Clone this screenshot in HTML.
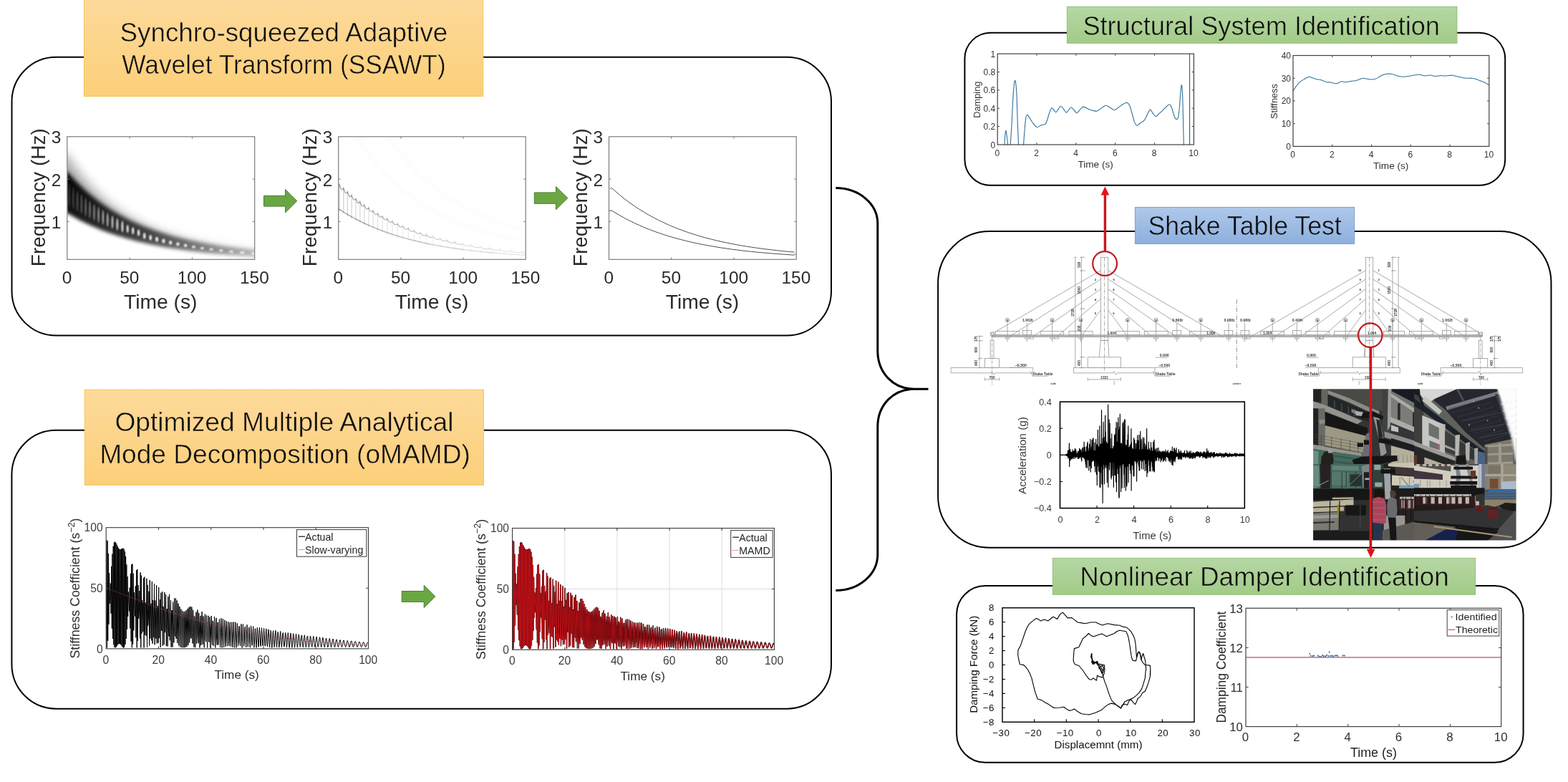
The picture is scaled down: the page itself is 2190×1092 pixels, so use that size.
<!DOCTYPE html>
<html lang="en"><head><meta charset="utf-8"><title>SSAWT / oMAMD identification framework</title>
<style>
html,body{margin:0;padding:0;background:#fff;}
body{width:2190px;height:1092px;overflow:hidden;}
svg{display:block;font-family:"Liberation Sans", Arial, Helvetica, sans-serif;}
</style></head><body>
<svg width="2190" height="1092" viewBox="0 0 2190 1092">
<rect x="0" y="0" width="2190" height="1092" fill="#fff"/>
<defs>
<linearGradient id="gt1" gradientUnits="userSpaceOnUse" x1="0" y1="-1" x2="0" y2="134.4"><stop offset="0" stop-color="#FDDA9B"/><stop offset="1" stop-color="#FCCF79"/></linearGradient>
<linearGradient id="gt2" gradientUnits="userSpaceOnUse" x1="0" y1="544.3" x2="0" y2="677.3"><stop offset="0" stop-color="#FDDA9B"/><stop offset="1" stop-color="#FCCF79"/></linearGradient>
<linearGradient id="gt3" gradientUnits="userSpaceOnUse" x1="0" y1="9.4" x2="0" y2="60.3"><stop offset="0" stop-color="#B6D7A4"/><stop offset="1" stop-color="#A2CB87"/></linearGradient>
<linearGradient id="gt4" gradientUnits="userSpaceOnUse" x1="0" y1="289.4" x2="0" y2="340.4"><stop offset="0" stop-color="#AEC8EA"/><stop offset="1" stop-color="#8EB0DE"/></linearGradient>
<linearGradient id="gt5" gradientUnits="userSpaceOnUse" x1="0" y1="779.4" x2="0" y2="830.3"><stop offset="0" stop-color="#B6D7A4"/><stop offset="1" stop-color="#A2CB87"/></linearGradient>
</defs>
<defs>
<filter id="bl3" x="-10%" y="-50%" width="120%" height="200%"><feGaussianBlur stdDeviation="2.6"/></filter>
<filter id="bl7" x="-10%" y="-50%" width="120%" height="200%"><feGaussianBlur stdDeviation="7"/></filter>
<filter id="bl4" x="-10%" y="-50%" width="120%" height="200%"><feGaussianBlur stdDeviation="4.5"/></filter>
<filter id="bl1" x="-10%" y="-50%" width="120%" height="200%"><feGaussianBlur stdDeviation="1.15"/></filter>
<clipPath id="cp1"><rect x="94.3" y="191.3" width="261" height="170.6"/></clipPath>
<clipPath id="cp2"><rect x="473.2" y="191.3" width="260.6" height="170.6"/></clipPath>
<linearGradient id="fade2" x1="0" y1="0" x2="1" y2="0"><stop offset="0" stop-color="#fff" stop-opacity="0"/><stop offset="0.45" stop-color="#fff" stop-opacity="0.25"/><stop offset="1" stop-color="#fff" stop-opacity="0.7"/></linearGradient>
</defs>
<defs>
<clipPath id="cpP"><rect x="1834.1" y="543.2" width="283.5" height="211.4"/></clipPath>
<filter id="blP" x="-2%" y="-2%" width="104%" height="104%"><feGaussianBlur stdDeviation="0.7"/></filter>
<filter id="blP2" x="-5%" y="-5%" width="110%" height="110%"><feGaussianBlur stdDeviation="1.4"/></filter>
<linearGradient id="skyR" x1="0" y1="0" x2="1" y2="0"><stop offset="0" stop-color="#fff" stop-opacity="0"/><stop offset="1" stop-color="#fff" stop-opacity="1"/></linearGradient>
</defs>
<rect x="16.5" y="79.8" width="1144.5" height="388.7" rx="62" ry="62" fill="none" stroke="#000" stroke-width="2"/>
<rect x="16.4" y="600.8" width="1144.6" height="388.9" rx="62" ry="62" fill="none" stroke="#000" stroke-width="2"/>
<rect x="1347.4" y="45.8" width="754.8" height="213" rx="36" ry="36" fill="none" stroke="#000" stroke-width="2"/>
<rect x="1310.1" y="323.1" width="856.4" height="441.7" rx="72" ry="72" fill="none" stroke="#000" stroke-width="2"/>
<rect x="1336.1" y="818.1" width="791.5" height="246.6" rx="40" ry="40" fill="none" stroke="#000" stroke-width="2"/>
<path d="M1167.3 262.6 C1199 262.6 1225.8 284 1225.8 312 L1225.8 490 C1225.8 520 1247 543.2 1277 543.2 L1296.5 543.2 M1277 543.2 C1247 543.2 1225.8 566 1225.8 596 L1225.8 774 C1225.8 803 1199 824.6 1167.3 824.6" fill="none" stroke="#000" stroke-width="3"/>
<g clip-path="url(#cp1)">
<polygon points="76.3,214.3 80.7,214.3 85.1,214.3 89.4,214.3 93.8,214.3 98.2,221.1 102.5,227.5 106.9,233.6 111.3,239.4 115.6,244.9 120,250.1 124.4,255.1 128.7,259.8 133.1,264.3 137.4,268.5 141.8,272.6 146.2,276.5 150.5,280.1 154.9,283.6 159.3,287 163.6,290.2 168,293.2 172.4,296.1 176.7,298.8 181.1,301.5 185.5,304 189.8,306.4 194.2,308.7 198.6,310.8 202.9,312.9 207.3,314.9 211.7,316.8 216,318.6 220.4,320.4 224.8,322 229.1,323.6 233.5,325.1 237.8,326.6 242.2,328 246.6,329.3 250.9,330.6 255.3,331.8 259.7,333 264,334.1 268.4,335.2 272.8,336.2 277.1,337.2 281.5,338.1 285.9,339 290.2,339.9 294.6,340.7 299,341.5 303.3,342.2 307.7,343 312,343.7 316.4,344.3 320.8,345 325.1,345.6 329.5,346.2 333.9,346.7 338.2,347.3 342.6,347.8 347,348.3 351.3,348.8 355.7,349.2 360.1,349.7 364.4,350.1 368.8,350.5 373.2,350.9 373.2,355.5 368.8,355.2 364.4,354.9 360.1,354.6 355.7,354.3 351.3,354 347,353.7 342.6,353.3 338.2,353 333.9,352.6 329.5,352.2 325.1,351.8 320.8,351.4 316.4,350.9 312,350.5 307.7,350 303.3,349.5 299,349 294.6,348.4 290.2,347.9 285.9,347.3 281.5,346.7 277.1,346.1 272.8,345.4 268.4,344.7 264,344 259.7,343.3 255.3,342.5 250.9,341.7 246.6,340.9 242.2,340 237.8,339.1 233.5,338.1 229.1,337.2 224.8,336.1 220.4,335.1 216,334 211.7,332.8 207.3,331.6 202.9,330.4 198.6,329.1 194.2,327.7 189.8,326.3 185.5,324.8 181.1,323.3 176.7,321.7 172.4,320 168,318.3 163.6,316.5 159.3,314.6 154.9,312.7 150.5,310.6 146.2,308.5 141.8,306.3 137.4,304 133.1,301.6 128.7,299.2 124.4,296.6 120,293.9 115.6,291.1 111.3,288.2 106.9,285.1 102.5,282 98.2,278.7 93.8,275.2 89.4,275.2 85.1,275.2 80.7,275.2 76.3,275.2" fill="#000" stroke="none" stroke-width="1" opacity="0.30" filter="url(#bl7)"/>
<polygon points="76.3,239.9 80.7,239.9 85.1,239.9 89.4,239.9 93.8,239.9 98.2,244.8 102.5,249.5 106.9,254 111.3,258.3 115.6,262.4 120,266.4 124.4,270.2 128.7,273.8 133.1,277.3 137.4,280.7 141.8,283.9 146.2,287 150.5,290 154.9,292.8 159.3,295.6 163.6,298.2 168,300.7 172.4,303.1 176.7,305.4 181.1,307.6 185.5,309.8 189.8,311.8 194.2,313.8 198.6,315.6 202.9,317.5 207.3,319.2 211.7,320.8 216,322.4 220.4,324 224.8,325.4 229.1,326.8 233.5,328.2 237.8,329.5 242.2,330.7 246.6,331.9 250.9,333.1 255.3,334.2 259.7,335.2 264,336.2 268.4,337.2 272.8,338.2 277.1,339 281.5,339.9 285.9,340.7 290.2,341.5 294.6,342.3 299,343 303.3,343.7 307.7,344.4 312,345 316.4,345.7 320.8,346.3 325.1,346.8 329.5,347.4 333.9,347.9 338.2,348.4 342.6,348.9 347,349.4 351.3,349.8 355.7,350.2 360.1,350.6 364.4,351 368.8,351.4 373.2,351.8 373.2,355.5 368.8,355.2 364.4,354.9 360.1,354.6 355.7,354.3 351.3,354 347,353.7 342.6,353.3 338.2,353 333.9,352.6 329.5,352.2 325.1,351.8 320.8,351.4 316.4,350.9 312,350.5 307.7,350 303.3,349.5 299,349 294.6,348.4 290.2,347.9 285.9,347.3 281.5,346.7 277.1,346.1 272.8,345.4 268.4,344.7 264,344 259.7,343.3 255.3,342.5 250.9,341.7 246.6,340.9 242.2,340 237.8,339.1 233.5,338.1 229.1,337.2 224.8,336.1 220.4,335.1 216,334 211.7,332.8 207.3,331.6 202.9,330.4 198.6,329.1 194.2,327.7 189.8,326.3 185.5,324.8 181.1,323.3 176.7,321.7 172.4,320 168,318.3 163.6,316.5 159.3,314.6 154.9,312.7 150.5,310.6 146.2,308.5 141.8,306.3 137.4,304 133.1,301.6 128.7,299.2 124.4,296.6 120,293.9 115.6,291.1 111.3,288.2 106.9,285.1 102.5,282 98.2,278.7 93.8,275.2 89.4,275.2 85.1,275.2 80.7,275.2 76.3,275.2" fill="#000" stroke="none" stroke-width="1" opacity="0.45" filter="url(#bl4)"/>
<polygon points="76.3,240.5 80.7,240.5 85.1,240.5 89.4,240.5 93.8,240.5 98.2,245.5 102.5,250.2 106.9,254.7 111.3,259.1 115.6,263.2 120,267.2 124.4,271 128.7,274.6 133.1,278.1 137.4,281.4 141.8,284.6 146.2,287.6 150.5,290.6 154.9,293.4 159.3,296.1 163.6,298.6 168,301.1 172.4,303.4 176.7,305.7 181.1,307.9 185.5,309.9 189.8,311.9 194.2,313.8 198.6,315.7 202.9,317.4 207.3,319.1 211.7,320.7 216,322.2 220.4,323.7 224.8,325.1 229.1,326.5 233.5,327.8 237.8,329 242.2,330.2 246.6,331.4 250.9,332.5 255.3,333.5 259.7,334.5 264,335.5 268.4,336.4 272.8,337.3 277.1,338.2 281.5,339 285.9,339.8 290.2,340.6 294.6,341.3 299,342 303.3,342.7 307.7,343.3 312,343.9 316.4,344.5 320.8,345.1 325.1,345.6 329.5,346.1 333.9,346.6 338.2,347.1 342.6,347.6 347,348 351.3,348.4 355.7,348.8 360.1,349.2 364.4,349.6 368.8,350 373.2,350.3 373.2,358.6 368.8,358.4 364.4,358.2 360.1,358 355.7,357.7 351.3,357.5 347,357.3 342.6,357 338.2,356.7 333.9,356.4 329.5,356.1 325.1,355.8 320.8,355.5 316.4,355.2 312,354.8 307.7,354.5 303.3,354.1 299,353.7 294.6,353.3 290.2,352.9 285.9,352.4 281.5,352 277.1,351.5 272.8,351 268.4,350.5 264,349.9 259.7,349.3 255.3,348.8 250.9,348.1 246.6,347.5 242.2,346.8 237.8,346.2 233.5,345.4 229.1,344.7 224.8,343.9 220.4,343.1 216,342.3 211.7,341.4 207.3,340.5 202.9,339.5 198.6,338.5 194.2,337.5 189.8,336.4 185.5,335.3 181.1,334.1 176.7,332.9 172.4,331.6 168,330.3 163.6,328.9 159.3,327.5 154.9,326 150.5,324.5 146.2,322.9 141.8,321.2 137.4,319.5 133.1,317.6 128.7,315.7 124.4,313.8 120,311.7 115.6,309.6 111.3,307.4 106.9,305 102.5,302.6 98.2,300.1 93.8,297.5 89.4,297.5 85.1,297.5 80.7,297.5 76.3,297.5" fill="#000" stroke="none" stroke-width="1" opacity="0.93" filter="url(#bl3)"/>
<rect x="93.8" y="190.8" width="261.9" height="171.5" fill="url(#fade2)" stroke="none" stroke-width="1"/>
<g filter="url(#bl1)" fill="#fff">
<ellipse cx="96.8" cy="271.9" rx="0.77" ry="15.9" opacity="0.29"/>
<ellipse cx="102.4" cy="276.4" rx="0.80" ry="15.1" opacity="0.34"/>
<ellipse cx="108.1" cy="280.8" rx="0.84" ry="14.4" opacity="0.40"/>
<ellipse cx="113.8" cy="284.9" rx="0.88" ry="13.6" opacity="0.45"/>
<ellipse cx="119.6" cy="289.0" rx="0.91" ry="13" opacity="0.51"/>
<ellipse cx="125.5" cy="292.8" rx="0.95" ry="12.3" opacity="0.56"/>
<ellipse cx="131.5" cy="296.5" rx="0.99" ry="11.7" opacity="0.62"/>
<ellipse cx="137.6" cy="300.1" rx="1.03" ry="11.1" opacity="0.68"/>
<ellipse cx="143.9" cy="303.6" rx="1.07" ry="10.5" opacity="0.74"/>
<ellipse cx="150.3" cy="307.0" rx="1.11" ry="9.9" opacity="0.80"/>
<ellipse cx="157" cy="310.2" rx="1.15" ry="9.4" opacity="0.86"/>
<ellipse cx="163.8" cy="313.4" rx="1.20" ry="8.8" opacity="0.93"/>
<ellipse cx="170.9" cy="316.5" rx="1.24" ry="8.3" opacity="1.00"/>
<ellipse cx="178.2" cy="319.4" rx="1.32" ry="5.5" opacity="1.00"/>
<ellipse cx="185.7" cy="322.3" rx="1.40" ry="5" opacity="1.00"/>
<ellipse cx="193.6" cy="325.0" rx="1.49" ry="4.6" opacity="1.00"/>
<ellipse cx="201.7" cy="329.4" rx="1.59" ry="4.2" opacity="1.00"/>
<ellipse cx="210.2" cy="331.8" rx="1.68" ry="3.8" opacity="1.00"/>
<ellipse cx="219.1" cy="334.2" rx="1.79" ry="3.4" opacity="1.00"/>
<ellipse cx="228.4" cy="336.5" rx="1.89" ry="3" opacity="1.00"/>
<ellipse cx="238.1" cy="338.7" rx="2.00" ry="2.7" opacity="1.00"/>
<ellipse cx="248.4" cy="340.8" rx="2.12" ry="2.4" opacity="1.00"/>
<ellipse cx="259.1" cy="342.8" rx="2.24" ry="2.1" opacity="1.00"/>
<ellipse cx="270.5" cy="344.7" rx="2.37" ry="1.8" opacity="1.00"/>
<ellipse cx="282.5" cy="346.5" rx="2.51" ry="1.6" opacity="1.00"/>
<ellipse cx="295.2" cy="348.2" rx="2.66" ry="1.4" opacity="1.00"/>
<ellipse cx="308.7" cy="349.8" rx="2.81" ry="1.4" opacity="1.00"/>
<ellipse cx="323" cy="351.3" rx="2.98" ry="1.4" opacity="1.00"/>
<ellipse cx="338.3" cy="352.7" rx="3.15" ry="1.4" opacity="1.00"/>
<ellipse cx="354.6" cy="354.0" rx="3.34" ry="1.4" opacity="1.00"/>
</g>
</g>
<rect x="93.8" y="190.8" width="261.9" height="171.5" fill="none" stroke="#7c7c7c" stroke-width="1.2"/>
<line x1="181.1" y1="190.8" x2="181.1" y2="193.8" stroke="#7c7c7c" stroke-width="1"/>
<line x1="181.1" y1="362.3" x2="181.1" y2="359.3" stroke="#7c7c7c" stroke-width="1"/>
<line x1="268.4" y1="190.8" x2="268.4" y2="193.8" stroke="#7c7c7c" stroke-width="1"/>
<line x1="268.4" y1="362.3" x2="268.4" y2="359.3" stroke="#7c7c7c" stroke-width="1"/>
<line x1="93.8" y1="309.3" x2="96.8" y2="309.3" stroke="#7c7c7c" stroke-width="1"/>
<line x1="355.7" y1="309.3" x2="352.7" y2="309.3" stroke="#7c7c7c" stroke-width="1"/>
<line x1="93.8" y1="250.1" x2="96.8" y2="250.1" stroke="#7c7c7c" stroke-width="1"/>
<line x1="355.7" y1="250.1" x2="352.7" y2="250.1" stroke="#7c7c7c" stroke-width="1"/>
<text x="93.5" y="395.8" font-size="24.4" text-anchor="middle" fill="#2b2b2b">0</text>
<text x="180.8" y="395.8" font-size="24.4" text-anchor="middle" fill="#2b2b2b">50</text>
<text x="268.1" y="395.8" font-size="24.4" text-anchor="middle" fill="#2b2b2b">100</text>
<text x="355.4" y="395.8" font-size="24.4" text-anchor="middle" fill="#2b2b2b">150</text>
<text x="85.4" y="318.9" font-size="24.4" text-anchor="end" fill="#2b2b2b">1</text>
<text x="85.4" y="259.7" font-size="24.4" text-anchor="end" fill="#2b2b2b">2</text>
<text x="85.4" y="200.4" font-size="24.4" text-anchor="end" fill="#2b2b2b">3</text>
<text x="173" y="431.2" font-size="28" text-anchor="start" fill="#2b2b2b" textLength="102.5" lengthAdjust="spacingAndGlyphs">Time (s)</text>
<text x="63.3" y="372.2" font-size="28" text-anchor="start" fill="#2b2b2b" transform="rotate(-90 63.3 372.2)" textLength="193" lengthAdjust="spacingAndGlyphs">Frequency (Hz)</text>
<g clip-path="url(#cp2)" fill="none">
<polyline points="472.7,149.3 477.9,159 483.2,168.2 488.4,177 493.6,185.4 498.9,193.4 504.1,201 509.3,208.2 514.5,215.1 519.8,221.7 525,228 530.2,233.9 535.5,239.6 540.7,245 545.9,250.2 551.1,255.1 556.4,259.8 561.6,264.3 566.8,268.5 572.1,272.6 577.3,276.4 582.5,280.1 587.8,283.6 593,287 598.2,290.1 603.5,293.2 608.7,296.1 613.9,298.8 619.1,301.4 624.4,303.9 629.6,306.3 634.8,308.6 640.1,310.7 645.3,312.8 650.5,314.8 655.8,316.6 661,318.4 666.2,320.1 671.4,321.7 676.7,323.3 681.9,324.7 687.1,326.1 692.4,327.5 697.6,328.7 702.8,329.9 708.1,331.1 713.3,332.2 718.5,333.2 723.7,334.2 729,335.2 734.2,336.1" fill="none" stroke="#000" stroke-width="7" opacity="0.009" filter="url(#bl3)"/>
<polyline points="472.7,50.7 477.9,64.7 483.2,78.1 488.4,90.8 493.6,103 498.9,114.6 504.1,125.6 509.3,136.1 514.5,146.1 519.8,155.6 525,164.7 530.2,173.4 535.5,181.6 540.7,189.5 545.9,196.9 551.1,204.1 556.4,210.9 561.6,217.3 566.8,223.5 572.1,229.4 577.3,235 582.5,240.3 587.8,245.4 593,250.3 598.2,254.9 603.5,259.3 608.7,263.4 613.9,267.4 619.1,271.2 624.4,274.9 629.6,278.3 634.8,281.6 640.1,284.7 645.3,287.7 650.5,290.6 655.8,293.3 661,295.9 666.2,298.3 671.4,300.7 676.7,302.9 681.9,305 687.1,307 692.4,309 697.6,310.8 702.8,312.6 708.1,314.2 713.3,315.8 718.5,317.3 723.7,318.8 729,320.2 734.2,321.5" fill="none" stroke="#000" stroke-width="7" opacity="0.006" filter="url(#bl3)"/>
<line x1="474.2" y1="256.4" x2="474.2" y2="295" stroke="#000" stroke-width="1.5" opacity="0.17"/>
<line x1="479.8" y1="261.5" x2="479.8" y2="298.5" stroke="#000" stroke-width="1.5" opacity="0.16"/>
<line x1="485.4" y1="266.3" x2="485.4" y2="301.9" stroke="#000" stroke-width="1.5" opacity="0.15"/>
<line x1="491.1" y1="271" x2="491.1" y2="305.2" stroke="#000" stroke-width="1.5" opacity="0.14"/>
<line x1="496.9" y1="275.5" x2="496.9" y2="308.3" stroke="#000" stroke-width="1.5" opacity="0.13"/>
<line x1="502.8" y1="279.8" x2="502.8" y2="311.3" stroke="#000" stroke-width="1.5" opacity="0.13"/>
<line x1="508.8" y1="284" x2="508.8" y2="314.2" stroke="#000" stroke-width="1.5" opacity="0.12"/>
<line x1="514.9" y1="288" x2="514.9" y2="317" stroke="#000" stroke-width="1.5" opacity="0.11"/>
<line x1="521.1" y1="291.9" x2="521.1" y2="319.7" stroke="#000" stroke-width="1.5" opacity="0.11"/>
<line x1="527.5" y1="295.7" x2="527.5" y2="322.3" stroke="#000" stroke-width="1.5" opacity="0.10"/>
<line x1="534.1" y1="299.4" x2="534.1" y2="324.8" stroke="#000" stroke-width="1.5" opacity="0.09"/>
<line x1="540.9" y1="302.9" x2="540.9" y2="327.3" stroke="#000" stroke-width="1.5" opacity="0.09"/>
<line x1="547.9" y1="306.3" x2="547.9" y2="329.7" stroke="#000" stroke-width="1.5" opacity="0.08"/>
<line x1="555.1" y1="309.6" x2="555.1" y2="332" stroke="#000" stroke-width="1.5" opacity="0.08"/>
<line x1="562.6" y1="312.8" x2="562.6" y2="334.2" stroke="#000" stroke-width="1.5" opacity="0.07"/>
<line x1="570.4" y1="315.9" x2="570.4" y2="336.3" stroke="#000" stroke-width="1.5" opacity="0.07"/>
<line x1="578.5" y1="318.9" x2="578.5" y2="338.4" stroke="#000" stroke-width="1.5" opacity="0.06"/>
<line x1="586.9" y1="321.8" x2="586.9" y2="340.4" stroke="#000" stroke-width="1.5" opacity="0.06"/>
<line x1="595.7" y1="324.6" x2="595.7" y2="342.3" stroke="#000" stroke-width="1.5" opacity="0.05"/>
<line x1="604.8" y1="327.3" x2="604.8" y2="344.2" stroke="#000" stroke-width="1.5" opacity="0.05"/>
<line x1="614.5" y1="329.8" x2="614.5" y2="346" stroke="#000" stroke-width="1.5" opacity="0.04"/>
<line x1="624.6" y1="332.3" x2="624.6" y2="347.7" stroke="#000" stroke-width="1.5" opacity="0.04"/>
<line x1="635.2" y1="334.6" x2="635.2" y2="349.3" stroke="#000" stroke-width="1.5" opacity="0.04"/>
<line x1="646.4" y1="336.9" x2="646.4" y2="350.9" stroke="#000" stroke-width="1.5" opacity="0.03"/>
<line x1="658.3" y1="339" x2="658.3" y2="352.4" stroke="#000" stroke-width="1.5" opacity="0.03"/>
<line x1="670.8" y1="341" x2="670.8" y2="353.7" stroke="#000" stroke-width="1.5" opacity="0.03"/>
<line x1="684.1" y1="342.9" x2="684.1" y2="355.1" stroke="#000" stroke-width="1.5" opacity="0.03"/>
<line x1="698.2" y1="344.7" x2="698.2" y2="356.3" stroke="#000" stroke-width="1.5" opacity="0.03"/>
<line x1="713.3" y1="346.4" x2="713.3" y2="357.4" stroke="#000" stroke-width="1.5" opacity="0.03"/>
<line x1="729.4" y1="347.9" x2="729.4" y2="358.5" stroke="#000" stroke-width="1.5" opacity="0.03"/>
<polyline points="472.7,291.5 474.4,292.7 476.2,293.8 477.9,294.9 479.7,296 481.4,297 483.2,298.1 484.9,299.1 486.6,300.1 488.4,301.1 490.1,302.1 491.9,303.1 493.6,304 495.4,305 497.1,305.9 498.9,306.8 500.6,307.7 502.3,308.6 504.1,309.4 505.8,310.3 507.6,311.1 509.3,312 511.1,312.8 512.8,313.6 514.5,314.3 516.3,315.1" fill="none" stroke="#000" stroke-width="1.4" opacity="0.36"/>
<polyline points="516.3,315.1 518,315.9 519.8,316.6 521.5,317.4 523.3,318.1 525,318.8 526.7,319.5 528.5,320.2 530.2,320.9 532,321.5 533.7,322.2 535.5,322.8 537.2,323.5 538.9,324.1 540.7,324.7 542.4,325.3 544.2,325.9 545.9,326.5 547.7,327.1 549.4,327.7 551.1,328.2 552.9,328.8 554.6,329.3 556.4,329.8 558.1,330.4 559.9,330.9" fill="none" stroke="#000" stroke-width="1.4" opacity="0.31"/>
<polyline points="559.9,330.9 561.6,331.4 563.4,331.9 565.1,332.4 566.8,332.9 568.6,333.3 570.3,333.8 572.1,334.3 573.8,334.7 575.6,335.2 577.3,335.6 579,336 580.8,336.5 582.5,336.9 584.3,337.3 586,337.7 587.8,338.1 589.5,338.5 591.2,338.9 593,339.3 594.7,339.6 596.5,340 598.2,340.4 600,340.7 601.7,341.1 603.5,341.4" fill="none" stroke="#000" stroke-width="1.4" opacity="0.25"/>
<polyline points="603.5,341.4 605.2,341.8 606.9,342.1 608.7,342.4 610.4,342.7 612.2,343.1 613.9,343.4 615.7,343.7 617.4,344 619.1,344.3 620.9,344.6 622.6,344.9 624.4,345.1 626.1,345.4 627.9,345.7 629.6,346 631.3,346.2 633.1,346.5 634.8,346.8 636.6,347 638.3,347.3 640.1,347.5 641.8,347.8 643.5,348 645.3,348.2 647,348.5" fill="none" stroke="#000" stroke-width="1.4" opacity="0.19"/>
<polyline points="647,348.5 648.8,348.7 650.5,348.9 652.3,349.1 654,349.3 655.8,349.6 657.5,349.8 659.2,350 661,350.2 662.7,350.4 664.5,350.6 666.2,350.8 668,350.9 669.7,351.1 671.4,351.3 673.2,351.5 674.9,351.7 676.7,351.9 678.4,352 680.2,352.2 681.9,352.4 683.6,352.5 685.4,352.7 687.1,352.8 688.9,353 690.6,353.2" fill="none" stroke="#000" stroke-width="1.4" opacity="0.14"/>
<polyline points="690.6,353.2 692.4,353.3 694.1,353.5 695.8,353.6 697.6,353.7 699.3,353.9 701.1,354 702.8,354.2 704.6,354.3 706.3,354.4 708.1,354.6 709.8,354.7 711.5,354.8 713.3,354.9 715,355.1 716.8,355.2 718.5,355.3 720.3,355.4 722,355.5 723.7,355.7 725.5,355.8 727.2,355.9 729,356 730.7,356.1 732.5,356.2 734.2,356.3" fill="none" stroke="#000" stroke-width="1.4" opacity="0.10"/>
<polyline points="472.7,259.5 473.4,258.8 474.1,257.6 474.8,259.7 475.5,261.8 476.2,263.3 476.9,264.3 477.6,264.8 478.3,264.7 479,264.1 479.7,262.9 480.4,264.8 481.1,266.9 481.8,268.4 482.5,269.3 483.2,269.8 483.9,269.7 484.6,269.1 485.3,268 486,269.7 486.7,271.6 487.4,273.1 488.1,274 488.8,274.5 489.5,274.5 490.2,274 490.9,273 491.6,274.1 492.3,276 493,277.5 493.7,278.5 494.4,279 495.1,279.1 495.8,278.7 496.5,277.9 497.2,278.2 497.9,280.1 498.6,281.6 499.3,282.7 500,283.3 500.7,283.5 501.4,283.3 502.1,282.7 502.8,281.8 503.5,283.8 504.2,285.4 504.9,286.5 505.6,287.3 506.3,287.7 507,287.7 507.7,287.3 508.4,286.6 509.1,287 509.8,288.7 510.5,290.1 511.2,291 511.9,291.6 512.6,291.8 513.3,291.7 514,291.2 514.7,290.4 515.4,291.6 516.1,293.1" fill="none" stroke="#000" stroke-width="1.3" opacity="0.34"/>
<polyline points="516.3,293.5 517,294.6 517.7,295.3 518.4,295.7 519.1,295.8 519.8,295.6 520.5,295 521.2,294.4 521.9,296.1 522.6,297.4 523.3,298.4 524,299.1 524.7,299.5 525.4,299.6 526.1,299.4 526.8,298.9 527.5,298.1 528.2,299.6 528.9,300.9 529.6,302 530.3,302.7 531,303.2 531.7,303.3 532.4,303.2 533.1,302.9 533.8,302.2 534.5,302.7 535.2,304.1 535.9,305.2 536.6,306 537.3,306.5 538,306.8 538.7,306.9 539.4,306.7 540.1,306.3 540.8,305.6 541.5,306.7 542.2,307.9 542.9,308.9 543.6,309.6 544.3,310.1 545,310.3 545.7,310.4 546.4,310.2 547.1,309.8 547.8,309.1 548.5,310.2 549.2,311.3 549.9,312.2 550.6,312.9 551.3,313.4 552,313.7 552.7,313.7 553.4,313.6 554.1,313.3 554.8,312.8 555.5,313.1 556.2,314.2 556.9,315.2 557.6,315.9 558.3,316.4 559,316.8 559.7,317" fill="none" stroke="#000" stroke-width="1.3" opacity="0.29"/>
<polyline points="559.9,317 560.6,316.9 561.3,316.7 562,316.3 562.7,315.9 563.4,317 564.1,317.9 564.8,318.7 565.5,319.3 566.2,319.8 566.9,320 567.6,320.1 568.3,320.1 569,319.9 569.7,319.5 570.4,318.9 571.1,320 571.8,320.9 572.5,321.6 573.2,322.2 573.9,322.7 574.6,323 575.3,323.1 576,323.2 576.7,323 577.4,322.7 578.1,322.3 578.8,322.5 579.5,323.4 580.2,324.2 580.9,324.8 581.6,325.3 582.3,325.7 583,326 583.7,326.1 584.4,326.1 585.1,325.9 585.8,325.7 586.5,325.3 587.2,325.4 587.9,326.2 588.6,327 589.3,327.6 590,328.1 590.7,328.5 591.4,328.7 592.1,328.9 592.8,328.9 593.5,328.8 594.2,328.6 594.9,328.3 595.6,327.9 596.3,328.6 597,329.3 597.7,330 598.4,330.5 599.1,331 599.8,331.3 600.5,331.5 601.2,331.6 601.9,331.6 602.6,331.6 603.3,331.4" fill="none" stroke="#000" stroke-width="1.3" opacity="0.24"/>
<polyline points="603.5,331.3 604.2,331 604.9,330.6 605.6,331.4 606.3,332.1 607,332.7 607.7,333.2 608.4,333.6 609.1,333.9 609.8,334.1 610.5,334.2 611.2,334.3 611.9,334.2 612.6,334.1 613.3,333.8 614,333.5 614.7,333.4 615.4,334.1 616.1,334.7 616.8,335.3 617.5,335.7 618.2,336.1 618.9,336.4 619.6,336.6 620.3,336.7 621,336.8 621.7,336.7 622.4,336.6 623.1,336.4 623.8,336.2 624.5,335.8 625.2,336.3 625.9,336.9 626.6,337.5 627.3,337.9 628,338.3 628.7,338.6 629.4,338.9 630.1,339 630.8,339.1 631.5,339.2 632.2,339.1 632.9,339 633.6,338.9 634.3,338.6 635,338.3 635.7,338.6 636.4,339.1 637.1,339.7 637.8,340.1 638.5,340.5 639.2,340.8 639.9,341 640.6,341.2 641.3,341.4 642,341.4 642.7,341.5 643.4,341.4 644.1,341.3 644.8,341.1 645.5,340.9 646.2,340.6 646.9,340.8" fill="none" stroke="#000" stroke-width="1.3" opacity="0.18"/>
<polyline points="647,341 647.7,341.5 648.4,341.9 649.1,342.3 649.8,342.7 650.5,343 651.2,343.2 651.9,343.4 652.6,343.5 653.3,343.6 654,343.6 654.7,343.6 655.4,343.5 656.1,343.4 656.8,343.2 657.5,343 658.2,342.7 658.9,343.2 659.6,343.6 660.3,344.1 661,344.4 661.7,344.7 662.4,345 663.1,345.2 663.8,345.4 664.5,345.6 665.2,345.7 665.9,345.7 666.6,345.7 667.3,345.6 668,345.5 668.7,345.4 669.4,345.2 670.1,345 670.8,344.8 671.5,345.2 672.2,345.7 672.9,346 673.6,346.4 674.3,346.7 675,346.9 675.7,347.2 676.4,347.3 677.1,347.5 677.8,347.6 678.5,347.6 679.2,347.6 679.9,347.6 680.6,347.6 681.3,347.5 682,347.3 682.7,347.1 683.4,346.9 684.1,346.7 684.8,347.1 685.5,347.5 686.2,347.9 686.9,348.2 687.6,348.5 688.3,348.7 689,348.9 689.7,349.1 690.4,349.2" fill="none" stroke="#000" stroke-width="1.3" opacity="0.13"/>
<polyline points="690.6,349.3 691.3,349.4 692,349.4 692.7,349.5 693.4,349.5 694.1,349.4 694.8,349.3 695.5,349.2 696.2,349.1 696.9,348.9 697.6,348.7 698.3,348.6 699,348.9 699.7,349.3 700.4,349.6 701.1,349.9 701.8,350.2 702.5,350.4 703.2,350.6 703.9,350.8 704.6,350.9 705.3,351 706,351.1 706.7,351.2 707.4,351.2 708.1,351.2 708.8,351.1 709.5,351.1 710.2,351 710.9,350.8 711.6,350.7 712.3,350.5 713,350.3 713.7,350.4 714.4,350.7 715.1,351.1 715.8,351.3 716.5,351.6 717.2,351.8 717.9,352 718.6,352.2 719.3,352.4 720,352.5 720.7,352.6 721.4,352.7 722.1,352.7 722.8,352.7 723.5,352.7 724.2,352.7 724.9,352.7 725.6,352.6 726.3,352.5 727,352.4 727.7,352.2 728.4,352 729.1,351.8 729.8,351.9 730.5,352.3 731.2,352.5 731.9,352.8 732.6,353 733.3,353.3 734,353.5" fill="none" stroke="#000" stroke-width="1.3" opacity="0.10"/>
</g>
<rect x="472.7" y="190.8" width="261.5" height="171.5" fill="none" stroke="#7c7c7c" stroke-width="1.2"/>
<line x1="559.9" y1="190.8" x2="559.9" y2="193.8" stroke="#7c7c7c" stroke-width="1"/>
<line x1="559.9" y1="362.3" x2="559.9" y2="359.3" stroke="#7c7c7c" stroke-width="1"/>
<line x1="647" y1="190.8" x2="647" y2="193.8" stroke="#7c7c7c" stroke-width="1"/>
<line x1="647" y1="362.3" x2="647" y2="359.3" stroke="#7c7c7c" stroke-width="1"/>
<line x1="472.7" y1="309.3" x2="475.7" y2="309.3" stroke="#7c7c7c" stroke-width="1"/>
<line x1="734.2" y1="309.3" x2="731.2" y2="309.3" stroke="#7c7c7c" stroke-width="1"/>
<line x1="472.7" y1="250.1" x2="475.7" y2="250.1" stroke="#7c7c7c" stroke-width="1"/>
<line x1="734.2" y1="250.1" x2="731.2" y2="250.1" stroke="#7c7c7c" stroke-width="1"/>
<text x="472.4" y="395.8" font-size="24.4" text-anchor="middle" fill="#2b2b2b">0</text>
<text x="559.6" y="395.8" font-size="24.4" text-anchor="middle" fill="#2b2b2b">50</text>
<text x="646.7" y="395.8" font-size="24.4" text-anchor="middle" fill="#2b2b2b">100</text>
<text x="733.9" y="395.8" font-size="24.4" text-anchor="middle" fill="#2b2b2b">150</text>
<text x="464.3" y="318.9" font-size="24.4" text-anchor="end" fill="#2b2b2b">1</text>
<text x="464.3" y="259.7" font-size="24.4" text-anchor="end" fill="#2b2b2b">2</text>
<text x="464.3" y="200.4" font-size="24.4" text-anchor="end" fill="#2b2b2b">3</text>
<text x="551.8" y="431.2" font-size="28" text-anchor="start" fill="#2b2b2b" textLength="102.5" lengthAdjust="spacingAndGlyphs">Time (s)</text>
<text x="442.2" y="372.2" font-size="28" text-anchor="start" fill="#2b2b2b" transform="rotate(-90 442.2 372.2)" textLength="193" lengthAdjust="spacingAndGlyphs">Frequency (Hz)</text>
<polyline points="852.2,263.5 854.3,262.5 857.5,265.3 861,268.4 864.5,271.3 867.9,274.2 871.4,277 874.9,279.7 878.4,282.3 881.9,284.8 885.4,287.2 888.9,289.6 892.4,291.8 895.9,294 899.4,296.2 902.8,298.3 906.3,300.3 909.8,302.2 913.3,304.1 916.8,305.9 920.3,307.7 923.8,309.4 927.3,311 930.8,312.6 934.2,314.2 937.7,315.7 941.2,317.1 944.7,318.5 948.2,319.9 951.7,321.2 955.2,322.5 958.7,323.7 962.2,324.9 965.6,326.1 969.1,327.2 972.6,328.3 976.1,329.3 979.6,330.4 983.1,331.4 986.6,332.3 990.1,333.2 993.6,334.1 997.1,335 1000.5,335.8 1004,336.6 1007.5,337.4 1011,338.2 1014.5,338.9 1018,339.6 1021.5,340.3 1025,341 1028.5,341.7 1031.9,342.3 1035.4,342.9 1038.9,343.5 1042.4,344.1 1045.9,344.6 1049.4,345.1 1052.9,345.7 1056.4,346.2 1059.9,346.6 1063.3,347.1 1066.8,347.6 1070.3,348 1073.8,348.4 1077.3,348.8 1080.8,349.2 1084.3,349.6 1087.8,350 1091.3,350.4 1094.8,350.7 1098.2,351.1 1101.7,351.4 1105.2,351.7 1108.7,352 1109.6,352.1" fill="none" stroke="#4a4a4a" stroke-width="1.0"/>
<polyline points="850.8,294.3 854.3,294 857.5,296 861,298.1 864.5,300.1 867.9,302.1 871.4,304 874.9,305.9 878.4,307.7 881.9,309.4 885.4,311.1 888.9,312.8 892.4,314.3 895.9,315.9 899.4,317.4 902.8,318.8 906.3,320.2 909.8,321.5 913.3,322.8 916.8,324.1 920.3,325.3 923.8,326.5 927.3,327.7 930.8,328.8 934.2,329.8 937.7,330.9 941.2,331.9 944.7,332.9 948.2,333.8 951.7,334.7 955.2,335.6 958.7,336.5 962.2,337.3 965.6,338.1 969.1,338.9 972.6,339.6 976.1,340.4 979.6,341.1 983.1,341.8 986.6,342.4 990.1,343.1 993.6,343.7 997.1,344.3 1000.5,344.9 1004,345.4 1007.5,346 1011,346.5 1014.5,347 1018,347.5 1021.5,348 1025,348.5 1028.5,348.9 1031.9,349.3 1035.4,349.8 1038.9,350.2 1042.4,350.6 1045.9,350.9 1049.4,351.3 1052.9,351.7 1056.4,352 1059.9,352.4 1063.3,352.7 1066.8,353 1070.3,353.3 1073.8,353.6 1077.3,353.9 1080.8,354.2 1084.3,354.4 1087.8,354.7 1091.3,354.9 1094.8,355.2 1098.2,355.4 1101.7,355.7 1105.2,355.9 1108.7,356.1 1109.6,356.1 1111.8,353.9" fill="none" stroke="#4a4a4a" stroke-width="1.0"/>
<rect x="850.5" y="190.8" width="261.7" height="171.5" fill="none" stroke="#7c7c7c" stroke-width="1.2"/>
<line x1="937.7" y1="190.8" x2="937.7" y2="193.8" stroke="#7c7c7c" stroke-width="1"/>
<line x1="937.7" y1="362.3" x2="937.7" y2="359.3" stroke="#7c7c7c" stroke-width="1"/>
<line x1="1025" y1="190.8" x2="1025" y2="193.8" stroke="#7c7c7c" stroke-width="1"/>
<line x1="1025" y1="362.3" x2="1025" y2="359.3" stroke="#7c7c7c" stroke-width="1"/>
<line x1="850.5" y1="309.3" x2="853.5" y2="309.3" stroke="#7c7c7c" stroke-width="1"/>
<line x1="1112.2" y1="309.3" x2="1109.2" y2="309.3" stroke="#7c7c7c" stroke-width="1"/>
<line x1="850.5" y1="250.1" x2="853.5" y2="250.1" stroke="#7c7c7c" stroke-width="1"/>
<line x1="1112.2" y1="250.1" x2="1109.2" y2="250.1" stroke="#7c7c7c" stroke-width="1"/>
<text x="850.2" y="395.8" font-size="24.4" text-anchor="middle" fill="#2b2b2b">0</text>
<text x="937.4" y="395.8" font-size="24.4" text-anchor="middle" fill="#2b2b2b">50</text>
<text x="1024.7" y="395.8" font-size="24.4" text-anchor="middle" fill="#2b2b2b">100</text>
<text x="1111.9" y="395.8" font-size="24.4" text-anchor="middle" fill="#2b2b2b">150</text>
<text x="842.1" y="318.9" font-size="24.4" text-anchor="end" fill="#2b2b2b">1</text>
<text x="842.1" y="259.7" font-size="24.4" text-anchor="end" fill="#2b2b2b">2</text>
<text x="842.1" y="200.4" font-size="24.4" text-anchor="end" fill="#2b2b2b">3</text>
<text x="929.7" y="431.2" font-size="28" text-anchor="start" fill="#2b2b2b" textLength="102.5" lengthAdjust="spacingAndGlyphs">Time (s)</text>
<text x="820" y="372.2" font-size="28" text-anchor="start" fill="#2b2b2b" transform="rotate(-90 820 372.2)" textLength="193" lengthAdjust="spacingAndGlyphs">Frequency (Hz)</text>
<clipPath id="cpA"><rect x="148.2" y="736.7" width="366.3" height="169.2"/></clipPath>
<g clip-path="url(#cpA)">
<polyline points="148.2,894.5 148.8,754.4 149.4,904.5 150.1,755.2 150.7,894.9 151.3,772.9 151.9,871.8 152.6,800.2 153.2,842.9 153.8,829.8 154.4,814.6 155,856.6 155.7,790.8 156.3,877.6 156.9,773.5 157.5,892 158.2,762.7 158.8,900.3 159.4,757.4 160,904 160.7,756.5 161.3,904.4 161.9,758 162.5,903.2 163.1,760.6 163.8,901.4 164.4,763.3 165,899.8 165.6,765.5 166.3,899 166.9,766.8 167.5,899.2 168.1,767.1 168.7,900.2 169.4,766.7 170,901.9 170.6,765.9 171.2,903.6 171.9,765.7 172.5,904.5 173.1,766.6 173.7,903.7 174.4,770 175,899.9 175.6,776.9 176.2,891.9 176.8,788.4 177.5,879 178.1,805.1 178.7,860.9 179.3,826.5 180,840.2 180.6,853.5 181.2,820.7 181.8,877.5 182.4,800.9 183.1,895.7 183.7,788.3 184.3,904.3 184.9,787.5 185.6,899.6 186.2,800.8 186.8,880.4 187.4,827.3 188.1,850.4 188.7,860.7 189.3,818.5 189.9,890.4 190.5,796.4 191.2,904.4 191.8,794.9 192.4,894.8 193,817.2 193.7,863.8 194.3,855.5 194.9,825 195.5,891.4 196.1,799.4 196.8,904.4 197.4,803.7 198,884.6 198.6,838.2 199.3,842.8 199.9,882.1 200.5,807.2 201.1,904.4 201.8,805.6 202.4,886.9 203,841.7 203.6,841.9 204.2,887.9 204.9,807.8 205.5,903.9 206.1,816.9 206.7,873.7 207.4,863.1 208,825.8 208.6,901.7 209.2,810 209.8,891.6 210.5,845.6 211.1,842.8 211.7,894.4 212.3,811.9 213,898.8 213.6,838 214.2,852.6 214.8,890.2 215.5,815.3 216.1,900.4 216.7,838.5 217.3,854.2 217.9,891.7 218.6,817.4 219.2,898.4 219.8,846 220.4,848.4 221.1,897.8 221.7,820.1 222.3,891.2 222.9,860.6 223.5,837 224.2,903.8 224.8,827.7 225.4,875.5 226,881 226.7,826 227.3,901.8 227.9,846.9 228.5,851.6 229.2,900.2 229.8,827 230.4,883.2 231,877.5 231.6,830.3 232.3,902.2 232.9,850.6 233.5,850.5 234.1,902.5 234.8,833.1 235.4,875.2 236,888.7 236.6,829.8 237.2,894.3 237.9,869.5 238.5,838.3 239.1,903.6 239.7,852.1 240.4,853 241,903.6 241.6,840.6 242.2,868.7 242.9,897.4 243.5,835.5 244.1,882.1 244.7,888.5 245.3,835.4 246,891.9 246.6,879.5 247.2,838.5 247.8,898.1 248.5,871.9 249.1,842.8 249.7,901.6 250.3,866.2 250.9,847.1 251.6,903.4 252.2,862.5 252.8,850.6 253.4,904.1 254.1,860.8 254.7,852.9 255.3,904.3 255.9,860.8 256.6,853.9 257.2,904.2 257.8,862.3 258.4,853.6 259,903.9 259.7,865.3 260.3,852.1 260.9,903 261.5,869.9 262.2,850 262.8,901 263.4,875.9 264,848 264.6,897.4 265.3,883.3 265.9,846.8 266.5,891.6 267.1,891.2 267.8,847.7 268.4,883.5 269,898.5 269.6,851.8 270.3,873.5 270.9,903.5 271.5,860 272.1,863.1 272.7,904.2 273.4,871.9 274,854.7 274.6,899 275.2,885.8 275.9,851.5 276.5,887.9 277.1,898.2 277.7,855.9 278.3,873.2 279,904.4 279.6,868.3 280.2,859.8 280.8,900.9 281.5,885.4 282.1,854.1 282.7,887.6 283.3,900 284,860.5 284.6,869.9 285.2,904.3 285.8,877.5 286.4,857.5 287.1,894.2 287.7,896.3 288.3,859.4 288.9,875 289.6,904.5 290.2,876.2 290.8,859.8 291.4,895.1 292,896.7 292.7,861.6 293.3,874.4 293.9,904.4 294.5,880.6 295.2,860.1 295.8,891.2 296.4,900.7 297,866.9 297.7,869 298.3,902 298.9,889.8 299.5,861.1 300.1,881.8 300.8,904.4 301.4,877.9 302,862.8 302.6,893.1 303.3,900.8 303.9,869.2 304.5,869 305.1,900.4 305.7,894.3 306.4,864.6 307,876.5 307.6,903.8 308.2,887.6 308.9,863.4 309.5,883.4 310.1,904.5 310.7,882.2 311.4,864.2 312,888.6 312.6,903.9 313.2,878.5 313.8,865.8 314.5,892.1 315.1,902.9 315.7,876.5 316.3,867.4 317,894 317.6,902.2 318.2,875.9 318.8,868.4 319.4,894.6 320.1,902.2 320.7,876.6 321.3,868.8 321.9,894 322.6,902.8 323.2,878.5 323.8,868.7 324.4,892.3 325,903.7 325.7,881.6 326.3,868.5 326.9,889.2 327.5,904.5 328.2,885.9 328.8,868.8 329.4,885 330,904.3 330.7,891.3 331.3,870.5 331.9,880 332.5,902.3 333.1,897.1 333.8,874.2 334.4,874.9 335,897.8 335.6,902.1 336.3,880.5 336.9,871.4 337.5,890.7 338.1,904.5 338.7,889.2 339.4,871.6 340,882.1 340.6,902.5 341.2,898.1 341.9,876.7 342.5,874.8 343.1,895.3 343.7,903.9 344.4,886.5 345,872.4 345.6,884.8 346.2,903.2 346.8,897.6 347.5,877.5 348.1,875.7 348.7,894.9 349.3,904.2 350,889.1 350.6,873.9 351.2,882.7 351.8,901.5 352.4,900.9 353.1,882.2 353.7,874.7 354.3,889.8 354.9,904.2 355.6,896 356.2,878.1 356.8,877.7 357.4,895.3 358.1,904.4 358.7,891.7 359.3,876.4 359.9,881.2 360.5,898.9 361.2,903.5 361.8,888.7 362.4,876.2 363,884.1 363.7,900.8 364.3,902.6 364.9,887.1 365.5,876.6 366.1,885.8 366.8,901.6 367.4,902.1 368,886.9 368.6,877.3 369.3,886.4 369.9,901.6 370.5,902.3 371.1,887.8 371.8,877.9 372.4,885.8 373,900.9 373.6,903.1 374.2,889.8 374.9,878.8 375.5,884.4 376.1,899.2 376.7,904 377.4,892.9 378,880.3 378.6,882.4 379.2,896.3 379.8,904.5 380.5,896.8 381.1,883.2 381.7,880.7 382.3,892.3 383,903.6 383.6,900.8 384.2,887.7 384.8,880.3 385.5,887.4 386.1,900.5 386.7,903.8 387.3,893.7 387.9,882.4 388.6,883.2 389.2,895.1 389.8,904.1 390.4,899.9 391.1,887.7 391.7,881.5 392.3,888.4 392.9,900.4 393.5,904 394.2,895.3 394.8,884.3 395.4,883.4 396,893.3 396.7,903.2 397.3,902.2 397.9,891.7 398.5,883.3 399.2,886 399.8,896.8 400.4,904.1 401,900.3 401.6,889.6 402.3,883.5 402.9,888.3 403.5,898.9 404.1,904.3 404.8,899.1 405.4,888.9 406,884.1 406.6,889.6 407.2,899.7 407.9,904.3 408.5,898.9 409.1,889 409.7,884.6 410.4,889.9 411,899.6 411.6,904.2 412.2,899.5 412.9,890.1 413.5,885.1 414.1,889.3 414.7,898.6 415.3,904.1 416,900.9 416.6,892 417.2,885.9 417.8,888.2 418.5,896.7 419.1,903.5 419.7,902.6 420.3,894.9 420.9,887.5 421.6,887.1 422.2,893.9 422.8,901.8 423.4,903.9 424.1,898.5 424.7,890.4 425.3,886.8 425.9,890.7 426.6,898.6 427.2,903.9 427.8,902 428.4,894.8 429,888.4 429.7,888.2 430.3,894.3 430.9,901.5 431.5,904 432.2,899.8 432.8,892.5 433.4,888 434,890.1 434.6,896.9 435.3,902.9 435.9,903.5 436.5,898.3 437.1,891.5 437.8,888.5 438.4,891.6 439,898.3 439.6,903.4 440.3,903.1 440.9,897.8 441.5,891.5 442.1,889.1 442.7,892.3 443.4,898.6 444,903.4 444.6,903.2 445.2,898.2 445.9,892.2 446.5,889.7 447.1,892.3 447.7,898.1 448.3,903.1 449,903.6 449.6,899.4 450.2,893.7 450.8,890.3 451.5,891.8 452.1,896.9 452.7,902.1 453.3,903.9 454,901.2 454.6,895.8 455.2,891.6 455.8,891.3 456.4,895 457.1,900.3 457.7,903.7 458.3,903 458.9,898.7 459.6,893.8 460.2,891.5 460.8,893.1 461.4,897.6 462,902.2 462.7,903.9 463.3,901.7 463.9,897.2 464.5,893.2 465.2,892.2 465.8,894.7 466.4,899.2 467,903 467.7,903.7 468.3,901.1 468.9,896.8 469.5,893.4 470.1,892.9 470.8,895.6 471.4,899.8 472,903.1 472.6,903.6 473.3,901.1 473.9,897.2 474.5,894 475.1,893.5 475.7,895.9 476.4,899.7 477,902.9 477.6,903.7 478.2,901.8 478.9,898.2 479.5,895 480.1,893.9 480.7,895.5 481.3,898.9 482,902.2 482.6,903.7 483.2,902.7 483.8,899.8 484.5,896.4 485.1,894.5 485.7,895 486.3,897.5 487,900.9 487.6,903.3 488.2,903.5 488.8,901.6 489.4,898.6 490.1,895.9 490.7,894.9 491.3,896.1 491.9,898.9 492.6,901.8 493.2,903.5 493.8,903.2 494.4,901.1 495,898.3 495.7,896 496.3,895.5 496.9,896.8 497.5,899.4 498.2,902.1 498.8,903.5 499.4,903.2 500,901.2 500.7,898.6 501.3,896.6 501.9,896 502.5,897.1 503.1,899.4 503.8,901.8 504.4,903.4 505,903.4 505.6,901.9 506.3,899.6 506.9,897.5 507.5,896.5 508.1,897 508.7,898.8 509.4,901.1 510,902.9 510.6,903.6 511.2,902.8 511.9,900.9 512.5,898.8 513.1,897.4 513.7,897.1 514.4,898.1 514.5,898.5" fill="none" stroke="#000" stroke-width="1.0" stroke-linejoin="round"/>
<polyline points="148.2,821.3 155.5,824 162.9,826.7 170.2,829.4 177.5,832.1 184.8,834.8 192.2,837.7 199.5,840.6 206.8,843.5 214.1,846.3 221.5,849.2 228.8,851.6 236.1,854 243.4,856.3 250.8,858.7 258.1,861.1 265.4,863.1 272.7,865.1 280.1,867.2 287.4,869.2 294.7,871.2 302,872.9 309.4,874.6 316.7,876.3 324,878 331.4,879.7 338.7,881 346,882.4 353.3,883.7 360.7,885.1 368,886.4 375.3,887.5 382.6,888.6 390,889.7 397.3,890.8 404.6,891.9 411.9,892.7 419.3,893.5 426.6,894.4 433.9,895.2 441.2,896.1 448.6,896.7 455.9,897.3 463.2,897.9 470.5,898.5 477.9,899.1 485.2,899.5 492.5,899.9 499.8,900.4 507.2,900.8 514.5,901.2" fill="none" stroke="#d0353a" stroke-width="0.9" stroke-dasharray="1.3 1.1" opacity="0.9"/>
</g>
<rect x="148.2" y="736.7" width="366.3" height="169.2" fill="none" stroke="#3a3a3a" stroke-width="1.1"/>
<line x1="221.5" y1="736.7" x2="221.5" y2="740.1" stroke="#3a3a3a" stroke-width="1"/>
<line x1="221.5" y1="905.9" x2="221.5" y2="902.5" stroke="#3a3a3a" stroke-width="1"/>
<line x1="294.7" y1="736.7" x2="294.7" y2="740.1" stroke="#3a3a3a" stroke-width="1"/>
<line x1="294.7" y1="905.9" x2="294.7" y2="902.5" stroke="#3a3a3a" stroke-width="1"/>
<line x1="368" y1="736.7" x2="368" y2="740.1" stroke="#3a3a3a" stroke-width="1"/>
<line x1="368" y1="905.9" x2="368" y2="902.5" stroke="#3a3a3a" stroke-width="1"/>
<line x1="441.2" y1="736.7" x2="441.2" y2="740.1" stroke="#3a3a3a" stroke-width="1"/>
<line x1="441.2" y1="905.9" x2="441.2" y2="902.5" stroke="#3a3a3a" stroke-width="1"/>
<line x1="148.2" y1="821.3" x2="151.6" y2="821.3" stroke="#3a3a3a" stroke-width="1"/>
<line x1="514.5" y1="821.3" x2="511.1" y2="821.3" stroke="#3a3a3a" stroke-width="1"/>
<text x="147.9" y="926.9" font-size="15.6" text-anchor="middle" fill="#3c3c3c">0</text>
<text x="221.2" y="926.9" font-size="15.6" text-anchor="middle" fill="#3c3c3c">20</text>
<text x="294.4" y="926.9" font-size="15.6" text-anchor="middle" fill="#3c3c3c">40</text>
<text x="367.7" y="926.9" font-size="15.6" text-anchor="middle" fill="#3c3c3c">60</text>
<text x="440.9" y="926.9" font-size="15.6" text-anchor="middle" fill="#3c3c3c">80</text>
<text x="514.2" y="926.9" font-size="15.6" text-anchor="middle" fill="#3c3c3c">100</text>
<text x="143.6" y="911.5" font-size="15.6" text-anchor="end" fill="#3c3c3c">0</text>
<text x="143.6" y="826.9" font-size="15.6" text-anchor="end" fill="#3c3c3c">50</text>
<text x="143.6" y="742.3" font-size="15.6" text-anchor="end" fill="#3c3c3c">100</text>
<text x="330.6" y="948.3" font-size="17.2" text-anchor="middle" fill="#2e2e2e">Time (s)</text>
<text x="111" y="919.5" font-size="17.6" fill="#2e2e2e" text-anchor="start" textLength="196" lengthAdjust="spacingAndGlyphs" transform="rotate(-90 111 919.5)">Stiffness Coefficient (s<tspan font-size="12.5" dy="-7.5">&#8722;2</tspan><tspan dy="7.5">)</tspan></text>
<rect x="414.5" y="739.6" width="97.3" height="37.6" fill="#fff" stroke="#3a3a3a" stroke-width="1"/>
<line x1="417" y1="749.2" x2="426" y2="749.2" stroke="#000" stroke-width="1.1"/>
<line x1="417" y1="767.6" x2="426" y2="767.6" stroke="#c8373a" stroke-width="1" stroke-dasharray="1.2 1"/>
<text x="426.1" y="754.6" font-size="14.2" text-anchor="start" fill="#1f1f1f">Actual</text>
<text x="426.1" y="773" font-size="14.2" text-anchor="start" fill="#1f1f1f">Slow-varying</text>
<line x1="788.8" y1="737.6" x2="788.8" y2="907.3" stroke="#dcdcdc" stroke-width="1"/>
<line x1="861.9" y1="737.6" x2="861.9" y2="907.3" stroke="#dcdcdc" stroke-width="1"/>
<line x1="935.1" y1="737.6" x2="935.1" y2="907.3" stroke="#dcdcdc" stroke-width="1"/>
<line x1="1008.2" y1="737.6" x2="1008.2" y2="907.3" stroke="#dcdcdc" stroke-width="1"/>
<line x1="715.6" y1="822.5" x2="1081.4" y2="822.5" stroke="#dcdcdc" stroke-width="1"/>
<clipPath id="cpB"><rect x="715.6" y="737.6" width="365.8" height="169.7"/></clipPath>
<g clip-path="url(#cpB)">
<polyline points="715.6,895.9 716.2,755.4 716.8,905.9 717.5,756.2 718.1,896.2 718.7,773.9 719.3,873.1 720,801.2 720.6,844.1 721.2,831 721.8,815.7 722.4,857.9 723.1,791.9 723.7,878.9 724.3,774.5 724.9,893.4 725.5,763.7 726.2,901.7 726.8,758.3 727.4,905.4 728,757.4 728.7,905.8 729.3,758.9 729.9,904.6 730.5,761.6 731.1,902.8 731.8,764.3 732.4,901.2 733,766.5 733.6,900.4 734.3,767.8 734.9,900.6 735.5,768.1 736.1,901.6 736.7,767.7 737.4,903.3 738,766.9 738.6,905 739.2,766.6 739.9,905.9 740.5,767.6 741.1,905.1 741.7,771 742.3,901.2 743,777.9 743.6,893.3 744.2,789.4 744.8,880.3 745.4,806.2 746.1,862.2 746.7,827.7 747.3,841.4 747.9,854.7 748.6,821.8 749.2,878.8 749.8,802 750.4,897.1 751,789.4 751.7,905.7 752.3,788.5 752.9,900.9 753.5,801.9 754.2,881.7 754.8,828.4 755.4,851.7 756,862 756.6,819.6 757.3,891.8 757.9,797.5 758.5,905.8 759.1,796 759.8,896.2 760.4,818.4 761,865.1 761.6,856.8 762.2,826.2 762.9,892.8 763.5,800.5 764.1,905.8 764.7,804.8 765.3,886 766,839.4 766.6,844 767.2,883.4 767.8,808.3 768.5,905.8 769.1,806.7 769.7,888.2 770.3,843 770.9,843.1 771.6,889.3 772.2,808.9 772.8,905.3 773.4,818.1 774.1,875 774.7,864.4 775.3,827 775.9,903.1 776.5,811.1 777.2,892.9 777.8,846.8 778.4,844 779,895.7 779.7,813 780.3,900.2 780.9,839.2 781.5,853.8 782.1,891.6 782.8,816.4 783.4,901.8 784,839.7 784.6,855.4 785.2,893.1 785.9,818.6 786.5,899.8 787.1,847.3 787.7,849.6 788.4,899.1 789,821.2 789.6,892.6 790.2,861.8 790.8,838.2 791.5,905.2 792.1,828.8 792.7,876.8 793.3,882.4 794,827.2 794.6,903.2 795.2,848.2 795.8,852.8 796.4,901.5 797.1,828.1 797.7,884.5 798.3,878.8 798.9,831.5 799.6,903.5 800.2,851.8 800.8,851.8 801.4,903.9 802,834.3 802.7,876.5 803.3,890.1 803.9,831 804.5,895.7 805.1,870.8 805.8,839.5 806.4,905 807,853.4 807.6,854.2 808.3,904.9 808.9,841.8 809.5,870 810.1,898.8 810.7,836.7 811.4,883.4 812,889.9 812.6,836.6 813.2,893.2 813.9,880.8 814.5,839.7 815.1,899.5 815.7,873.2 816.3,844 817,903 817.6,867.4 818.2,848.3 818.8,904.8 819.5,863.8 820.1,851.8 820.7,905.5 821.3,862.1 821.9,854.1 822.6,905.7 823.2,862 823.8,855.1 824.4,905.6 825,863.6 825.7,854.8 826.3,905.3 826.9,866.6 827.5,853.4 828.2,904.4 828.8,871.2 829.4,851.3 830,902.4 830.6,877.3 831.3,849.2 831.9,898.8 832.5,884.6 833.1,848 833.8,893 834.4,892.5 835,848.9 835.6,884.8 836.2,899.9 836.9,853.1 837.5,874.8 838.1,904.9 838.7,861.2 839.4,864.3 840,905.6 840.6,873.2 841.2,855.9 841.8,900.4 842.5,887.2 843.1,852.7 843.7,889.3 844.3,899.5 844.9,857.1 845.6,874.5 846.2,905.8 846.8,869.6 847.4,861.1 848.1,902.3 848.7,886.7 849.3,855.4 849.9,888.9 850.5,901.4 851.2,861.8 851.8,871.2 852.4,905.7 853,878.8 853.7,858.8 854.3,895.6 854.9,897.7 855.5,860.7 856.1,876.3 856.8,905.9 857.4,877.5 858,861.1 858.6,896.5 859.2,898.1 859.9,862.8 860.5,875.7 861.1,905.7 861.7,881.9 862.4,861.4 863,892.6 863.6,902.1 864.2,868.2 864.8,870.3 865.5,903.3 866.1,891.1 866.7,862.3 867.3,883.1 868,905.8 868.6,879.3 869.2,864 869.8,894.4 870.4,902.2 871.1,870.5 871.7,870.2 872.3,901.8 872.9,895.6 873.6,865.9 874.2,877.8 874.8,905.2 875.4,888.9 876,864.7 876.7,884.7 877.3,905.9 877.9,883.5 878.5,865.5 879.1,889.9 879.8,905.3 880.4,879.8 881,867.1 881.6,893.4 882.3,904.3 882.9,877.8 883.5,868.7 884.1,895.4 884.7,903.6 885.4,877.3 886,869.7 886.6,896 887.2,903.6 887.9,877.9 888.5,870.1 889.1,895.4 889.7,904.2 890.3,879.8 891,870 891.6,893.6 892.2,905.1 892.8,882.9 893.5,869.8 894.1,890.6 894.7,905.9 895.3,887.3 895.9,870.1 896.6,886.3 897.2,905.7 897.8,892.7 898.4,871.8 899,881.3 899.7,903.7 900.3,898.5 900.9,875.5 901.5,876.2 902.2,899.2 902.8,903.5 903.4,881.9 904,872.7 904.6,892 905.3,905.9 905.9,890.5 906.5,872.9 907.1,883.4 907.8,903.9 908.4,899.4 909,878.1 909.6,876.1 910.2,896.7 910.9,905.3 911.5,887.9 912.1,873.7 912.7,886.1 913.4,904.6 914,899 914.6,878.8 915.2,877 915.8,896.3 916.5,905.6 917.1,890.5 917.7,875.2 918.3,884 918.9,902.9 919.6,902.3 920.2,883.5 920.8,876 921.4,891.2 922.1,905.6 922.7,897.4 923.3,879.4 923.9,879 924.5,896.7 925.2,905.8 925.8,893 926.4,877.7 927,882.5 927.7,900.2 928.3,904.9 928.9,890 929.5,877.5 930.1,885.4 930.8,902.2 931.4,903.9 932,888.5 932.6,878 933.3,887.2 933.9,903 934.5,903.5 935.1,888.3 935.7,878.6 936.4,887.7 937,903 937.6,903.7 938.2,889.2 938.8,879.2 939.5,887.2 940.1,902.3 940.7,904.5 941.3,891.2 942,880.1 942.6,885.7 943.2,900.6 943.8,905.4 944.4,894.3 945.1,881.6 945.7,883.7 946.3,897.7 946.9,905.9 947.6,898.2 948.2,884.5 948.8,882 949.4,893.6 950,904.9 950.7,902.2 951.3,889 951.9,881.6 952.5,888.8 953.2,901.9 953.8,905.2 954.4,895.1 955,883.7 955.6,884.5 956.3,896.4 956.9,905.5 957.5,901.3 958.1,889 958.7,882.8 959.4,889.8 960,901.8 960.6,905.4 961.2,896.7 961.9,885.7 962.5,884.7 963.1,894.7 963.7,904.6 964.3,903.6 965,893.1 965.6,884.6 966.2,887.4 966.8,898.2 967.5,905.5 968.1,901.7 968.7,891 969.3,884.8 969.9,889.6 970.6,900.2 971.2,905.7 971.8,900.5 972.4,890.2 973.1,885.4 973.7,890.9 974.3,901.1 974.9,905.7 975.5,900.2 976.2,890.4 976.8,886 977.4,891.2 978,901 978.6,905.6 979.3,900.9 979.9,891.4 980.5,886.5 981.1,890.7 981.8,900 982.4,905.5 983,902.3 983.6,893.4 984.2,887.3 984.9,889.6 985.5,898 986.1,904.9 986.7,904 987.4,896.3 988,888.9 988.6,888.4 989.2,895.2 989.8,903.2 990.5,905.3 991.1,899.9 991.7,891.8 992.3,888.1 992.9,892 993.6,900 994.2,905.3 994.8,903.4 995.4,896.1 996.1,889.7 996.7,889.5 997.3,895.6 997.9,902.9 998.5,905.4 999.2,901.2 999.8,893.8 1000.4,889.4 1001,891.4 1001.7,898.2 1002.3,904.3 1002.9,904.9 1003.5,899.7 1004.1,892.9 1004.8,889.8 1005.4,892.9 1006,899.6 1006.6,904.8 1007.3,904.5 1007.9,899.2 1008.5,892.9 1009.1,890.5 1009.7,893.7 1010.4,900 1011,904.8 1011.6,904.6 1012.2,899.6 1012.8,893.6 1013.5,891 1014.1,893.6 1014.7,899.5 1015.3,904.4 1016,905 1016.6,900.8 1017.2,895 1017.8,891.7 1018.4,893.1 1019.1,898.2 1019.7,903.5 1020.3,905.3 1020.9,902.6 1021.6,897.2 1022.2,892.9 1022.8,892.6 1023.4,896.4 1024,901.7 1024.7,905.1 1025.3,904.3 1025.9,900.1 1026.5,895.2 1027.2,892.8 1027.8,894.5 1028.4,899 1029,903.6 1029.6,905.3 1030.3,903.1 1030.9,898.6 1031.5,894.6 1032.1,893.5 1032.7,896.1 1033.4,900.6 1034,904.4 1034.6,905.1 1035.2,902.5 1035.9,898.1 1036.5,894.7 1037.1,894.3 1037.7,897 1038.3,901.2 1039,904.5 1039.6,905 1040.2,902.5 1040.8,898.5 1041.5,895.4 1042.1,894.9 1042.7,897.2 1043.3,901.1 1043.9,904.3 1044.6,905.1 1045.2,903.2 1045.8,899.6 1046.4,896.4 1047.1,895.3 1047.7,896.9 1048.3,900.3 1048.9,903.6 1049.5,905.1 1050.2,904.1 1050.8,901.1 1051.4,897.8 1052,895.9 1052.6,896.3 1053.3,898.9 1053.9,902.2 1054.5,904.6 1055.1,904.9 1055.8,903 1056.4,899.9 1057,897.2 1057.6,896.3 1058.2,897.5 1058.9,900.3 1059.5,903.2 1060.1,904.9 1060.7,904.6 1061.4,902.5 1062,899.6 1062.6,897.4 1063.2,896.8 1063.8,898.2 1064.5,900.8 1065.1,903.5 1065.7,904.9 1066.3,904.6 1067,902.6 1067.6,900 1068.2,897.9 1068.8,897.3 1069.4,898.4 1070.1,900.7 1070.7,903.2 1071.3,904.8 1071.9,904.8 1072.5,903.3 1073.2,900.9 1073.8,898.8 1074.4,897.9 1075,898.4 1075.7,900.2 1076.3,902.5 1076.9,904.3 1077.5,904.9 1078.1,904.2 1078.8,902.3 1079.4,900.2 1080,898.7 1080.6,898.4 1081.3,899.5 1081.4,899.9" fill="none" stroke="#000" stroke-width="1.45" stroke-linejoin="round"/>
<polyline points="715.9,896.1 716.5,755.6 717.1,906.1 717.7,756.4 718.3,896.4 719,774.1 719.6,873.3 720.2,801.4 720.8,844.3 721.4,831.2 722.1,815.9 722.7,858.1 723.3,792.1 723.9,879.1 724.6,774.7 725.2,893.6 725.8,763.9 726.4,901.9 727,758.5 727.7,905.6 728.3,757.6 728.9,906 729.5,759.1 730.2,904.8 730.8,761.8 731.4,903 732,764.5 732.6,901.4 733.3,766.7 733.9,900.6 734.5,768 735.1,900.8 735.7,768.3 736.4,901.8 737,767.9 737.6,903.5 738.2,767.1 738.9,905.2 739.5,766.8 740.1,906.1 740.7,767.8 741.3,905.3 742,771.2 742.6,901.4 743.2,778.1 743.8,893.5 744.5,789.6 745.1,880.5 745.7,806.4 746.3,862.4 746.9,827.9 747.6,841.6 748.2,854.9 748.8,822 749.4,879 750.1,802.2 750.7,897.3 751.3,789.6 751.9,905.9 752.5,788.7 753.2,901.1 753.8,802.1 754.4,881.9 755,828.6 755.6,851.9 756.3,862.2 756.9,819.8 757.5,892 758.1,797.7 758.8,906 759.4,796.2 760,896.4 760.6,818.6 761.2,865.3 761.9,857 762.5,826.4 763.1,893 763.7,800.7 764.4,906 765,805 765.6,886.2 766.2,839.6 766.8,844.2 767.5,883.6 768.1,808.5 768.7,906 769.3,806.9 770,888.4 770.6,843.2 771.2,843.3 771.8,889.5 772.4,809.1 773.1,905.5 773.7,818.3 774.3,875.2 774.9,864.6 775.5,827.2 776.2,903.3 776.8,811.3 777.4,893.1 778,847 778.7,844.2 779.3,895.9 779.9,813.2 780.5,900.4 781.1,839.4 781.8,854 782.4,891.8 783,816.6 783.6,902 784.3,839.9 784.9,855.6 785.5,893.3 786.1,818.8 786.7,900 787.4,847.5 788,849.8 788.6,899.3 789.2,821.4 789.9,892.8 790.5,862 791.1,838.4 791.7,905.4 792.3,829 793,877 793.6,882.6 794.2,827.4 794.8,903.4 795.4,848.4 796.1,853 796.7,901.7 797.3,828.3 797.9,884.7 798.6,879 799.2,831.7 799.8,903.7 800.4,852 801,852 801.7,904.1 802.3,834.5 802.9,876.7 803.5,890.3 804.2,831.2 804.8,895.9 805.4,871 806,839.7 806.6,905.2 807.3,853.6 807.9,854.4 808.5,905.1 809.1,842 809.8,870.2 810.4,899 811,836.9 811.6,883.6 812.2,890.1 812.9,836.8 813.5,893.4 814.1,881 814.7,839.9 815.3,899.7 816,873.4 816.6,844.2 817.2,903.2 817.8,867.6 818.5,848.5 819.1,905 819.7,864 820.3,852 820.9,905.7 821.6,862.3 822.2,854.3 822.8,905.9 823.4,862.2 824.1,855.3 824.7,905.8 825.3,863.8 825.9,855 826.5,905.5 827.2,866.8 827.8,853.6 828.4,904.6 829,871.4 829.7,851.5 830.3,902.6 830.9,877.5 831.5,849.4 832.1,899 832.8,884.8 833.4,848.2 834,893.2 834.6,892.7 835.2,849.1 835.9,885 836.5,900.1 837.1,853.3 837.7,875 838.4,905.1 839,861.4 839.6,864.5 840.2,905.8 840.8,873.4 841.5,856.1 842.1,900.6 842.7,887.4 843.3,852.9 844,889.5 844.6,899.7 845.2,857.3 845.8,874.7 846.4,906 847.1,869.8 847.7,861.3 848.3,902.5 848.9,886.9 849.5,855.6 850.2,889.1 850.8,901.6 851.4,862 852,871.4 852.7,905.9 853.3,879 853.9,859 854.5,895.8 855.1,897.9 855.8,860.9 856.4,876.5 857,906.1 857.6,877.7 858.3,861.3 858.9,896.7 859.5,898.3 860.1,863 860.7,875.9 861.4,905.9 862,882.1 862.6,861.6 863.2,892.8 863.9,902.3 864.5,868.4 865.1,870.5 865.7,903.5 866.3,891.3 867,862.5 867.6,883.3 868.2,906 868.8,879.5 869.4,864.2 870.1,894.6 870.7,902.4 871.3,870.7 871.9,870.4 872.6,902 873.2,895.8 873.8,866.1 874.4,878 875,905.4 875.7,889.1 876.3,864.9 876.9,884.9 877.5,906.1 878.2,883.7 878.8,865.7 879.4,890.1 880,905.5 880.6,880 881.3,867.3 881.9,893.6 882.5,904.5 883.1,878 883.8,868.9 884.4,895.6 885,903.8 885.6,877.5 886.2,869.9 886.9,896.2 887.5,903.8 888.1,878.1 888.7,870.3 889.3,895.6 890,904.4 890.6,880 891.2,870.2 891.8,893.8 892.5,905.3 893.1,883.1 893.7,870 894.3,890.8 894.9,906.1 895.6,887.5 896.2,870.3 896.8,886.5 897.4,905.9 898.1,892.9 898.7,872 899.3,881.5 899.9,903.9 900.5,898.7 901.2,875.7 901.8,876.4 902.4,899.4 903,903.7 903.7,882.1 904.3,872.9 904.9,892.2 905.5,906.1 906.1,890.7 906.8,873.1 907.4,883.6 908,904.1 908.6,899.6 909.2,878.3 909.9,876.3 910.5,896.9 911.1,905.5 911.7,888.1 912.4,873.9 913,886.3 913.6,904.8 914.2,899.2 914.8,879 915.5,877.2 916.1,896.5 916.7,905.8 917.3,890.7 918,875.4 918.6,884.2 919.2,903.1 919.8,902.5 920.4,883.7 921.1,876.2 921.7,891.4 922.3,905.8 922.9,897.6 923.6,879.6 924.2,879.2 924.8,896.9 925.4,906 926,893.2 926.7,877.9 927.3,882.7 927.9,900.4 928.5,905.1 929.1,890.2 929.8,877.7 930.4,885.6 931,902.4 931.6,904.1 932.3,888.7 932.9,878.2 933.5,887.4 934.1,903.2 934.7,903.7 935.4,888.5 936,878.8 936.6,887.9 937.2,903.2 937.9,903.9 938.5,889.4 939.1,879.4 939.7,887.4 940.3,902.5 941,904.7 941.6,891.4 942.2,880.3 942.8,885.9 943.5,900.8 944.1,905.6 944.7,894.5 945.3,881.8 945.9,883.9 946.6,897.9 947.2,906.1 947.8,898.4 948.4,884.7 949,882.2 949.7,893.8 950.3,905.1 950.9,902.4 951.5,889.2 952.2,881.8 952.8,889 953.4,902.1 954,905.4 954.6,895.3 955.3,883.9 955.9,884.7 956.5,896.6 957.1,905.7 957.8,901.5 958.4,889.2 959,883 959.6,890 960.2,902 960.9,905.6 961.5,896.9 962.1,885.9 962.7,884.9 963.4,894.9 964,904.8 964.6,903.8 965.2,893.3 965.8,884.8 966.5,887.6 967.1,898.4 967.7,905.7 968.3,901.9 968.9,891.2 969.6,885 970.2,889.8 970.8,900.4 971.4,905.9 972.1,900.7 972.7,890.4 973.3,885.6 973.9,891.1 974.5,901.3 975.2,905.9 975.8,900.4 976.4,890.6 977,886.2 977.7,891.4 978.3,901.2 978.9,905.8 979.5,901.1 980.1,891.6 980.8,886.7 981.4,890.9 982,900.2 982.6,905.7 983.2,902.5 983.9,893.6 984.5,887.5 985.1,889.8 985.7,898.2 986.4,905.1 987,904.2 987.6,896.5 988.2,889.1 988.8,888.6 989.5,895.4 990.1,903.4 990.7,905.5 991.3,900.1 992,892 992.6,888.3 993.2,892.2 993.8,900.2 994.4,905.5 995.1,903.6 995.7,896.3 996.3,889.9 996.9,889.7 997.6,895.8 998.2,903.1 998.8,905.6 999.4,901.4 1000,894 1000.7,889.6 1001.3,891.6 1001.9,898.4 1002.5,904.5 1003.1,905.1 1003.8,899.9 1004.4,893.1 1005,890 1005.6,893.1 1006.3,899.8 1006.9,905 1007.5,904.7 1008.1,899.4 1008.7,893.1 1009.4,890.7 1010,893.9 1010.6,900.2 1011.2,905 1011.9,904.8 1012.5,899.8 1013.1,893.8 1013.7,891.2 1014.3,893.8 1015,899.7 1015.6,904.6 1016.2,905.2 1016.8,901 1017.5,895.2 1018.1,891.9 1018.7,893.3 1019.3,898.4 1019.9,903.7 1020.6,905.5 1021.2,902.8 1021.8,897.4 1022.4,893.1 1023,892.8 1023.7,896.6 1024.3,901.9 1024.9,905.3 1025.5,904.5 1026.2,900.3 1026.8,895.4 1027.4,893 1028,894.7 1028.6,899.2 1029.3,903.8 1029.9,905.5 1030.5,903.3 1031.1,898.8 1031.8,894.8 1032.4,893.7 1033,896.3 1033.6,900.8 1034.2,904.6 1034.9,905.3 1035.5,902.7 1036.1,898.3 1036.7,894.9 1037.4,894.5 1038,897.2 1038.6,901.4 1039.2,904.7 1039.8,905.2 1040.5,902.7 1041.1,898.7 1041.7,895.6 1042.3,895.1 1042.9,897.4 1043.6,901.3 1044.2,904.5 1044.8,905.3 1045.4,903.4 1046.1,899.8 1046.7,896.6 1047.3,895.5 1047.9,897.1 1048.5,900.5 1049.2,903.8 1049.8,905.3 1050.4,904.3 1051,901.3 1051.7,898 1052.3,896.1 1052.9,896.5 1053.5,899.1 1054.1,902.4 1054.8,904.8 1055.4,905.1 1056,903.2 1056.6,900.1 1057.3,897.4 1057.9,896.5 1058.5,897.7 1059.1,900.5 1059.7,903.4 1060.4,905.1 1061,904.8 1061.6,902.7 1062.2,899.8 1062.8,897.6 1063.5,897 1064.1,898.4 1064.7,901 1065.3,903.7 1066,905.1 1066.6,904.8 1067.2,902.8 1067.8,900.2 1068.4,898.1 1069.1,897.5 1069.7,898.6 1070.3,900.9 1070.9,903.4 1071.6,905 1072.2,905 1072.8,903.5 1073.4,901.1 1074,899 1074.7,898.1 1075.3,898.6 1075.9,900.4 1076.5,902.7 1077.2,904.5 1077.8,905.1 1078.4,904.4 1079,902.5 1079.6,900.4 1080.3,898.9 1080.9,898.6 1081.5,899.7 1081.7,900.1" fill="none" stroke="#c21218" stroke-width="0.95" stroke-linejoin="round" opacity="0.95"/>
</g>
<rect x="715.6" y="737.6" width="365.8" height="169.7" fill="none" stroke="#3a3a3a" stroke-width="1.1"/>
<line x1="788.8" y1="737.6" x2="788.8" y2="741" stroke="#3a3a3a" stroke-width="1"/>
<line x1="788.8" y1="907.3" x2="788.8" y2="903.9" stroke="#3a3a3a" stroke-width="1"/>
<line x1="861.9" y1="737.6" x2="861.9" y2="741" stroke="#3a3a3a" stroke-width="1"/>
<line x1="861.9" y1="907.3" x2="861.9" y2="903.9" stroke="#3a3a3a" stroke-width="1"/>
<line x1="935.1" y1="737.6" x2="935.1" y2="741" stroke="#3a3a3a" stroke-width="1"/>
<line x1="935.1" y1="907.3" x2="935.1" y2="903.9" stroke="#3a3a3a" stroke-width="1"/>
<line x1="1008.2" y1="737.6" x2="1008.2" y2="741" stroke="#3a3a3a" stroke-width="1"/>
<line x1="1008.2" y1="907.3" x2="1008.2" y2="903.9" stroke="#3a3a3a" stroke-width="1"/>
<line x1="715.6" y1="822.5" x2="719" y2="822.5" stroke="#3a3a3a" stroke-width="1"/>
<line x1="1081.4" y1="822.5" x2="1078" y2="822.5" stroke="#3a3a3a" stroke-width="1"/>
<text x="715.3" y="928.3" font-size="15.6" text-anchor="middle" fill="#3c3c3c">0</text>
<text x="788.5" y="928.3" font-size="15.6" text-anchor="middle" fill="#3c3c3c">20</text>
<text x="861.6" y="928.3" font-size="15.6" text-anchor="middle" fill="#3c3c3c">40</text>
<text x="934.8" y="928.3" font-size="15.6" text-anchor="middle" fill="#3c3c3c">60</text>
<text x="1007.9" y="928.3" font-size="15.6" text-anchor="middle" fill="#3c3c3c">80</text>
<text x="1081.1" y="928.3" font-size="15.6" text-anchor="middle" fill="#3c3c3c">100</text>
<text x="711" y="912.9" font-size="15.6" text-anchor="end" fill="#3c3c3c">0</text>
<text x="711" y="828.1" font-size="15.6" text-anchor="end" fill="#3c3c3c">50</text>
<text x="711" y="743.2" font-size="15.6" text-anchor="end" fill="#3c3c3c">100</text>
<text x="897.7" y="949.7" font-size="17.2" text-anchor="middle" fill="#2e2e2e">Time (s)</text>
<text x="678.4" y="920.9" font-size="17.6" fill="#2e2e2e" text-anchor="start" textLength="196" lengthAdjust="spacingAndGlyphs" transform="rotate(-90 678.4 920.9)">Stiffness Coefficient (s<tspan font-size="12.5" dy="-7.5">&#8722;2</tspan><tspan dy="7.5">)</tspan></text>
<rect x="1020.7" y="740.6" width="58.4" height="37.8" fill="#fff" stroke="#3a3a3a" stroke-width="1"/>
<line x1="1023.2" y1="750.2" x2="1032.2" y2="750.2" stroke="#000" stroke-width="1.1"/>
<line x1="1023.2" y1="768.6" x2="1032.2" y2="768.6" stroke="#c8373a" stroke-width="1" stroke-dasharray="1.2 1"/>
<text x="1032.3" y="755.6" font-size="14.2" text-anchor="start" fill="#1f1f1f">Actual</text>
<text x="1032.3" y="774" font-size="14.2" text-anchor="start" fill="#1f1f1f">MAMD</text>
<clipPath id="cpD"><rect x="1393.2" y="75.1" width="274.2" height="127.4"/></clipPath>
<g clip-path="url(#cpD)" fill="none" stroke="#2f7099" stroke-width="1.1">
<path d="M1402.9 205.3C1403 203 1403.3 195.4 1403.6 191.6C1403.9 187.8 1404.3 182.7 1404.7 182.4C1405.2 182.1 1405.7 185.9 1406.2 189.7C1406.7 193.6 1407.6 202.7 1407.8 205.3"/>
<path d="M1410.8 206.2C1411.1 201.6 1412.1 191.3 1412.8 178.8C1413.5 166.2 1414.4 142.2 1415.2 131.1C1416 120.1 1416.8 113.1 1417.5 112.5C1418.3 111.8 1419.1 117.9 1419.7 127.5C1420.4 137 1420.7 156.5 1421.2 169.6C1421.7 182.7 1422.4 200.1 1422.7 206.2"/>
<path d="M1429.1 208.1C1429.4 204.4 1430.2 193.1 1430.7 186.1C1431.3 179.1 1432 170.2 1432.6 165.9C1433.2 161.7 1433.6 160.9 1434.4 160.4C1435.2 160 1435.9 161.5 1437.1 163.2C1438.4 164.9 1439.9 168.1 1441.7 170.5C1443.6 172.9 1446 176.8 1448.1 177.5C1450.3 178.1 1452.6 175.2 1454.5 174.5C1456.5 173.9 1458.4 174.6 1459.7 173.6C1461 172.6 1461.3 171.1 1462.2 168.7C1463.2 166.2 1464.1 161.9 1465.2 159C1466.3 156 1467.7 151.8 1468.8 150.9C1470 150 1471 152.5 1471.9 153.5C1472.9 154.5 1473.7 156.9 1474.7 156.8C1475.7 156.7 1476.8 154.2 1478 152.7C1479.1 151.3 1480.4 148.3 1481.6 148.2C1482.9 148.1 1484 150.7 1485.3 152.2C1486.6 153.7 1488.1 157 1489.3 157.1C1490.6 157.3 1491.8 154.3 1493 153.1C1494.2 151.9 1495.1 149.8 1496.3 150C1497.5 150.2 1499 152.7 1500.3 154C1501.6 155.3 1502.6 157.8 1504 157.7C1505.4 157.5 1507 154.5 1508.6 153.1C1510.1 151.7 1510.9 149.1 1513.2 149.1C1515.4 149.1 1519.3 152.1 1522.3 153.1C1525.4 154.2 1528.9 155.6 1531.5 155.3C1534.1 155 1535.7 152.6 1537.9 151.3C1540 149.9 1542.1 147.4 1544.3 147.3C1546.4 147.1 1548.6 149.3 1550.7 150.4C1552.8 151.4 1554.3 154.1 1556.7 153.7C1559.2 153.2 1562.5 149.4 1565.3 147.6C1568.2 145.9 1571.5 143.3 1573.6 143.2C1575.6 143.2 1576.4 144.8 1577.6 147.3C1578.8 149.7 1579.8 154 1580.9 157.7C1582 161.4 1583.1 166.7 1584.2 169.6C1585.4 172.5 1586.4 174.9 1587.9 175.3C1589.3 175.6 1591.1 173 1592.8 171.8C1594.6 170.5 1596.7 169.8 1598.3 167.8C1599.9 165.7 1601.2 162 1602.5 159.5C1603.9 157.1 1605.3 153.3 1606.6 153.1C1607.8 152.9 1608.9 156.7 1610.2 158.2C1611.5 159.8 1612.9 162.5 1614.2 162.6C1615.6 162.8 1617 160.3 1618.5 159C1619.9 157.7 1621.4 156.5 1623 154.9C1624.7 153.4 1626.5 151.3 1628.2 149.8C1629.8 148.3 1631.8 145.8 1633.1 145.8C1634.5 145.8 1635.2 147.5 1636.2 149.8C1637.2 152.1 1638.3 157 1639.2 159.5C1640 162.1 1640.6 163.9 1641.4 165C1642.1 166.2 1642.8 166.8 1643.6 166.5C1644.3 166.2 1645.1 166 1645.8 163.2C1646.4 160.3 1646.8 155.4 1647.4 149.5C1647.9 143.5 1648.5 132.6 1649 127.5C1649.6 122.4 1650.1 117.3 1650.5 118.9C1651 120.4 1651.4 127 1651.8 136.6C1652.2 146.3 1652.4 165 1652.7 176.9C1653 188.8 1653.3 202.9 1653.4 208.1"/>
<line x1="1661.5" y1="75.1" x2="1661.5" y2="202" stroke="#2b6a92" stroke-width="1.2"/>
</g>
<rect x="1393.2" y="75.1" width="274.2" height="126.9" fill="none" stroke="#404040" stroke-width="1.2"/>
<line x1="1448" y1="75.1" x2="1448" y2="77.9" stroke="#404040" stroke-width="1"/>
<line x1="1448" y1="202" x2="1448" y2="199.2" stroke="#404040" stroke-width="1"/>
<line x1="1502.9" y1="75.1" x2="1502.9" y2="77.9" stroke="#404040" stroke-width="1"/>
<line x1="1502.9" y1="202" x2="1502.9" y2="199.2" stroke="#404040" stroke-width="1"/>
<line x1="1557.7" y1="75.1" x2="1557.7" y2="77.9" stroke="#404040" stroke-width="1"/>
<line x1="1557.7" y1="202" x2="1557.7" y2="199.2" stroke="#404040" stroke-width="1"/>
<line x1="1612.6" y1="75.1" x2="1612.6" y2="77.9" stroke="#404040" stroke-width="1"/>
<line x1="1612.6" y1="202" x2="1612.6" y2="199.2" stroke="#404040" stroke-width="1"/>
<text x="1392.8" y="218" font-size="12" text-anchor="middle" fill="#333">0</text>
<text x="1447.6" y="218" font-size="12" text-anchor="middle" fill="#333">2</text>
<text x="1502.5" y="218" font-size="12" text-anchor="middle" fill="#333">4</text>
<text x="1557.3" y="218" font-size="12" text-anchor="middle" fill="#333">6</text>
<text x="1612.2" y="218" font-size="12" text-anchor="middle" fill="#333">8</text>
<text x="1667" y="218" font-size="12" text-anchor="middle" fill="#333">10</text>
<text x="1390.2" y="206.5" font-size="12" text-anchor="end" fill="#333">0</text>
<line x1="1393.2" y1="176.6" x2="1396" y2="176.6" stroke="#404040" stroke-width="1"/>
<line x1="1667.4" y1="176.6" x2="1664.6" y2="176.6" stroke="#404040" stroke-width="1"/>
<text x="1390.2" y="181.1" font-size="12" text-anchor="end" fill="#333">0.2</text>
<line x1="1393.2" y1="151.2" x2="1396" y2="151.2" stroke="#404040" stroke-width="1"/>
<line x1="1667.4" y1="151.2" x2="1664.6" y2="151.2" stroke="#404040" stroke-width="1"/>
<text x="1390.2" y="155.7" font-size="12" text-anchor="end" fill="#333">0.4</text>
<line x1="1393.2" y1="125.9" x2="1396" y2="125.9" stroke="#404040" stroke-width="1"/>
<line x1="1667.4" y1="125.9" x2="1664.6" y2="125.9" stroke="#404040" stroke-width="1"/>
<text x="1390.2" y="130.4" font-size="12" text-anchor="end" fill="#333">0.6</text>
<line x1="1393.2" y1="100.5" x2="1396" y2="100.5" stroke="#404040" stroke-width="1"/>
<line x1="1667.4" y1="100.5" x2="1664.6" y2="100.5" stroke="#404040" stroke-width="1"/>
<text x="1390.2" y="105" font-size="12" text-anchor="end" fill="#333">0.8</text>
<text x="1390.2" y="79.6" font-size="12" text-anchor="end" fill="#333">1</text>
<text x="1530.1" y="234" font-size="13.6" text-anchor="middle" fill="#333">Time (s)</text>
<text x="1368.6" y="139.2" font-size="12.8" text-anchor="middle" fill="#333" transform="rotate(-90 1368.6 139.2)">Damping</text>
<path d="M1806 127.1C1806.8 125.9 1809.1 122.2 1810.6 120.1C1812.1 118.1 1813.3 116.2 1815.2 114.7C1817 113.1 1819.4 111.8 1821.6 110.6C1823.7 109.4 1826 107.6 1828 107.3C1830 107 1831.8 108.3 1833.5 108.8C1835.2 109.3 1836.2 110 1838.1 110.4C1839.9 110.9 1842.6 110.9 1844.5 111.4C1846.3 111.8 1847.7 112.6 1849 113.2C1850.4 113.7 1851.2 114.3 1852.7 114.7C1854.2 115 1856.1 114.7 1858.2 115C1860.3 115.4 1863.5 116.8 1865.5 116.8C1867.5 116.9 1868.7 115.9 1870.1 115.4C1871.5 114.9 1872.1 113.9 1873.8 113.7C1875.5 113.6 1877.9 114.7 1880.2 114.7C1882.5 114.6 1885.4 113.5 1887.5 113.2C1889.6 112.9 1891.2 113.2 1893 112.8C1894.8 112.5 1896.8 111.6 1898.5 111C1900.2 110.4 1901.2 109.3 1903.1 109.2C1904.9 109 1907.5 110 1909.5 110.3C1911.5 110.6 1913 111 1915 111C1917 111 1919.4 110.7 1921.4 110.1C1923.4 109.4 1925.2 107.9 1926.9 107C1928.6 106 1929.8 105.2 1931.5 104.6C1933.1 104 1935 103.5 1937 103.3C1938.9 103.1 1941.4 103 1943.4 103.3C1945.4 103.6 1947.2 104.4 1948.9 104.9C1950.5 105.5 1951.5 106 1953.4 106.4C1955.4 106.8 1958 107.4 1960.8 107.3C1963.5 107.2 1966.6 106.4 1969.9 105.9C1973.3 105.3 1978.3 104.2 1980.9 104C1983.5 103.8 1984 104.5 1985.5 104.8C1987 105.1 1988.1 105.8 1990.1 105.9C1992.1 105.9 1995 105 1997.4 105.1C1999.8 105.2 2002.3 106.3 2004.7 106.4C2007.2 106.5 2009.6 105.6 2012.1 105.5C2014.5 105.4 2016.8 106.1 2019.4 106C2022 106 2025.2 105.1 2027.6 105.1C2030.1 105.2 2032 106 2034 106.4C2036 106.8 2037.1 107.2 2039.5 107.7C2042 108.2 2045.9 108.9 2048.7 109.2C2051.4 109.4 2053.9 108.9 2056 109.2C2058.1 109.4 2060 110 2061.5 110.4C2063 110.9 2063.3 111.2 2065.2 111.9C2067 112.6 2070.7 113.9 2072.5 114.7C2074.3 115.4 2074.9 115.8 2076.2 116.5C2077.4 117.2 2079.2 118.5 2079.8 118.9" fill="none" stroke="#2f7099" stroke-width="1.05"/>
<rect x="1806" y="77.5" width="273.8" height="126.9" fill="none" stroke="#404040" stroke-width="1.2"/>
<line x1="1860.8" y1="77.5" x2="1860.8" y2="80.3" stroke="#404040" stroke-width="1"/>
<line x1="1860.8" y1="204.4" x2="1860.8" y2="201.6" stroke="#404040" stroke-width="1"/>
<line x1="1915.5" y1="77.5" x2="1915.5" y2="80.3" stroke="#404040" stroke-width="1"/>
<line x1="1915.5" y1="204.4" x2="1915.5" y2="201.6" stroke="#404040" stroke-width="1"/>
<line x1="1970.3" y1="77.5" x2="1970.3" y2="80.3" stroke="#404040" stroke-width="1"/>
<line x1="1970.3" y1="204.4" x2="1970.3" y2="201.6" stroke="#404040" stroke-width="1"/>
<line x1="2025" y1="77.5" x2="2025" y2="80.3" stroke="#404040" stroke-width="1"/>
<line x1="2025" y1="204.4" x2="2025" y2="201.6" stroke="#404040" stroke-width="1"/>
<text x="1805.6" y="220.2" font-size="12" text-anchor="middle" fill="#333">0</text>
<text x="1860.4" y="220.2" font-size="12" text-anchor="middle" fill="#333">2</text>
<text x="1915.1" y="220.2" font-size="12" text-anchor="middle" fill="#333">4</text>
<text x="1969.9" y="220.2" font-size="12" text-anchor="middle" fill="#333">6</text>
<text x="2024.6" y="220.2" font-size="12" text-anchor="middle" fill="#333">8</text>
<text x="2079.4" y="220.2" font-size="12" text-anchor="middle" fill="#333">10</text>
<text x="1803" y="208.9" font-size="12" text-anchor="end" fill="#333">0</text>
<line x1="1806" y1="172.7" x2="1808.8" y2="172.7" stroke="#404040" stroke-width="1"/>
<line x1="2079.8" y1="172.7" x2="2077" y2="172.7" stroke="#404040" stroke-width="1"/>
<text x="1803" y="177.2" font-size="12" text-anchor="end" fill="#333">10</text>
<line x1="1806" y1="140.9" x2="1808.8" y2="140.9" stroke="#404040" stroke-width="1"/>
<line x1="2079.8" y1="140.9" x2="2077" y2="140.9" stroke="#404040" stroke-width="1"/>
<text x="1803" y="145.4" font-size="12" text-anchor="end" fill="#333">20</text>
<line x1="1806" y1="109.2" x2="1808.8" y2="109.2" stroke="#404040" stroke-width="1"/>
<line x1="2079.8" y1="109.2" x2="2077" y2="109.2" stroke="#404040" stroke-width="1"/>
<text x="1803" y="113.7" font-size="12" text-anchor="end" fill="#333">30</text>
<text x="1803" y="82" font-size="12" text-anchor="end" fill="#333">40</text>
<text x="1942.7" y="236.4" font-size="13.6" text-anchor="middle" fill="#333">Time (s)</text>
<text x="1784" y="141.5" font-size="12.8" text-anchor="middle" fill="#333" transform="rotate(-90 1784 141.5)">Stiffness</text>
<g fill="none" stroke="#979797" stroke-width="0.8">
<rect x="1385" y="467.9" width="684.9" height="2.6" fill="#bdbdbd" stroke="#8a8a8a" stroke-width="0.7"/>
<circle cx="1386.3" cy="466.4" r="1.8"/>
<rect x="1383.7" y="464" width="5.1" height="5.1"/>
<circle cx="2068.1" cy="466.4" r="1.8"/>
<rect x="2065.5" y="464" width="5.1" height="5.1"/>
<rect x="1537.4" y="359.3" width="10.3" height="116.1"/>
<line x1="1537.4" y1="475.4" x2="1535.2" y2="498.8"/>
<line x1="1547.6" y1="475.4" x2="1548.9" y2="498.8"/>
<line x1="1542.5" y1="359.3" x2="1542.5" y2="519" stroke-dasharray="5 1.5 1 1.5"/>
<rect x="1519.2" y="498.8" width="46.1" height="14.6"/>
<rect x="1907.4" y="359.3" width="10.3" height="116.1"/>
<line x1="1907.4" y1="475.4" x2="1905.2" y2="498.8"/>
<line x1="1917.6" y1="475.4" x2="1918.9" y2="498.8"/>
<line x1="1912.5" y1="359.3" x2="1912.5" y2="519" stroke-dasharray="5 1.5 1 1.5"/>
<rect x="1889.2" y="498.8" width="46.1" height="14.6"/>
<rect x="1383.2" y="475.4" width="4.8" height="25.3"/>
<rect x="1375.5" y="500.6" width="20.1" height="12.8"/>
<line x1="1385.6" y1="471.4" x2="1385.6" y2="537.3" stroke-dasharray="4 1.5 1 1.5"/>
<line x1="1375.5" y1="529.9" x2="1395.6" y2="529.9"/>
<line x1="1375.5" y1="527.2" x2="1375.5" y2="531.8"/>
<line x1="1395.6" y1="527.2" x2="1395.6" y2="531.8"/>
<rect x="2065.3" y="475.4" width="4.8" height="25.3"/>
<rect x="2057.6" y="500.6" width="20.1" height="12.8"/>
<line x1="2067.7" y1="471.4" x2="2067.7" y2="537.3" stroke-dasharray="4 1.5 1 1.5"/>
<line x1="2057.6" y1="529.9" x2="2077.8" y2="529.9"/>
<line x1="2057.6" y1="527.2" x2="2057.6" y2="531.8"/>
<line x1="2077.8" y1="527.2" x2="2077.8" y2="531.8"/>
<path d="M1328.2 513.5 H1442.7 V520.8 H1389.9 l-1.5 2.6 l-3 -5 l-1.2 2.4 H1328.2 Z"/>
<path d="M1499.5 513.5 H1613 V520.8 H1560.2 l-1.5 2.6 l-3 -5 l-1.2 2.4 H1499.5 Z"/>
<path d="M1841.4 513.5 H1955.3 V520.8 H1900.4 l-1.5 2.6 l-3 -5 l-1.2 2.4 H1841.4 Z"/>
<path d="M2012.2 513.5 H2126.6 V520.8 H2070.2 l-1.5 2.6 l-3 -5 l-1.2 2.4 H2012.2 Z"/>
<line x1="1519.2" y1="529.9" x2="1565.4" y2="529.9"/>
<line x1="1519.2" y1="527.2" x2="1519.2" y2="531.8"/>
<line x1="1565.4" y1="527.2" x2="1565.4" y2="531.8"/>
<line x1="1889.4" y1="529.9" x2="1935.2" y2="529.9"/>
<line x1="1889.4" y1="527.2" x2="1889.4" y2="531.8"/>
<line x1="1935.2" y1="527.2" x2="1935.2" y2="531.8"/>
<line x1="1556.2" y1="531.8" x2="1556.2" y2="537.6"/>
<line x1="1898.2" y1="531.8" x2="1898.2" y2="537.6"/>
<g stroke="#9a9a9a" stroke-width="0.85"><line x1="1537.4" y1="377.6" x2="1390.5" y2="463.1"/><line x1="1537.4" y1="389.9" x2="1408.8" y2="470.6"/><line x1="1537.4" y1="403.6" x2="1441.8" y2="470.6"/><line x1="1537.4" y1="417.3" x2="1475.6" y2="470.6"/><line x1="1537.4" y1="432.9" x2="1509.5" y2="470.6"/><line x1="1547.6" y1="377.6" x2="1708.6" y2="470.6"/><line x1="1547.6" y1="389.9" x2="1674.7" y2="470.6"/><line x1="1547.6" y1="403.6" x2="1643.2" y2="470.6"/><line x1="1547.6" y1="417.3" x2="1609.3" y2="470.6"/><line x1="1547.6" y1="432.9" x2="1575.4" y2="470.6"/><line x1="1907.4" y1="377.6" x2="1746.2" y2="470.6"/><line x1="1907.4" y1="389.9" x2="1779.2" y2="470.6"/><line x1="1907.4" y1="403.6" x2="1815.8" y2="470.6"/><line x1="1907.4" y1="417.3" x2="1846.9" y2="470.6"/><line x1="1907.4" y1="432.9" x2="1879.9" y2="470.6"/><line x1="1917.5" y1="377.6" x2="2065.3" y2="464"/><line x1="1917.5" y1="389.9" x2="2047.9" y2="470.6"/><line x1="1917.5" y1="403.6" x2="2013.1" y2="470.6"/><line x1="1917.5" y1="417.3" x2="1979.2" y2="470.6"/><line x1="1917.5" y1="432.9" x2="1944.4" y2="470.6"/></g>
<rect x="1390.5" y="462.6" width="33" height="5.3"/>
<rect x="1428.4" y="461.5" width="12.1" height="6.4"/>
<rect x="1453.7" y="462.6" width="32" height="5.3"/>
<rect x="1493" y="462.6" width="33" height="5.3"/>
<rect x="1559" y="462.6" width="32.4" height="5.3"/>
<rect x="1598.3" y="462.6" width="33" height="5.3"/>
<rect x="1637.7" y="461.5" width="11.9" height="6.4"/>
<rect x="1661.5" y="462.6" width="33" height="5.3"/>
<rect x="1710.1" y="461.5" width="11.7" height="6.4"/>
<rect x="1733" y="461.5" width="11.7" height="6.4"/>
<rect x="1760.9" y="462.6" width="32.6" height="5.3"/>
<rect x="1805.4" y="461.5" width="11.9" height="6.4"/>
<rect x="1823.7" y="462.6" width="33" height="5.3"/>
<rect x="1863.5" y="462.6" width="32.4" height="5.3"/>
<rect x="1932.5" y="462.6" width="28.9" height="5.3"/>
<rect x="1968.6" y="462.6" width="33" height="5.3"/>
<rect x="2014.6" y="461.5" width="11.7" height="6.4"/>
<rect x="2031.4" y="462.6" width="33" height="5.3"/>
<line x1="1407" y1="450.8" x2="1407" y2="477.2"/>
<rect x="1404.2" y="470.4" width="5.5" height="2.6"/>
<circle cx="1407" cy="447" r="2.5" stroke="#6a6a6a"/>
<line x1="1434.4" y1="450.8" x2="1434.4" y2="477.2"/>
<rect x="1431.7" y="470.4" width="5.5" height="2.6"/>
<line x1="1469.6" y1="450.8" x2="1469.6" y2="477.2"/>
<rect x="1466.9" y="470.4" width="5.5" height="2.6"/>
<circle cx="1469.6" cy="447" r="2.5" stroke="#6a6a6a"/>
<line x1="1509.5" y1="450.8" x2="1509.5" y2="477.2"/>
<rect x="1506.8" y="470.4" width="5.5" height="2.6"/>
<circle cx="1509.5" cy="447" r="2.5" stroke="#6a6a6a"/>
<line x1="1574.9" y1="450.8" x2="1574.9" y2="477.2"/>
<rect x="1572.2" y="470.4" width="5.5" height="2.6"/>
<circle cx="1574.9" cy="447" r="2.5" stroke="#6a6a6a"/>
<line x1="1614.5" y1="450.8" x2="1614.5" y2="477.2"/>
<rect x="1611.7" y="470.4" width="5.5" height="2.6"/>
<circle cx="1614.5" cy="447" r="2.5" stroke="#6a6a6a"/>
<line x1="1643.8" y1="450.8" x2="1643.8" y2="477.2"/>
<rect x="1641" y="470.4" width="5.5" height="2.6"/>
<line x1="1677.1" y1="450.8" x2="1677.1" y2="477.2"/>
<rect x="1674.3" y="470.4" width="5.5" height="2.6"/>
<circle cx="1677.1" cy="447" r="2.5" stroke="#6a6a6a"/>
<line x1="1716" y1="450.8" x2="1716" y2="477.2"/>
<rect x="1713.2" y="470.4" width="5.5" height="2.6"/>
<line x1="1738.5" y1="450.8" x2="1738.5" y2="477.2"/>
<rect x="1735.8" y="470.4" width="5.5" height="2.6"/>
<line x1="1777.3" y1="450.8" x2="1777.3" y2="477.2"/>
<rect x="1774.6" y="470.4" width="5.5" height="2.6"/>
<circle cx="1777.3" cy="447" r="2.5" stroke="#6a6a6a"/>
<line x1="1811.2" y1="450.8" x2="1811.2" y2="477.2"/>
<rect x="1808.5" y="470.4" width="5.5" height="2.6"/>
<line x1="1840" y1="450.8" x2="1840" y2="477.2"/>
<rect x="1837.2" y="470.4" width="5.5" height="2.6"/>
<circle cx="1840" cy="447" r="2.5" stroke="#6a6a6a"/>
<line x1="1879.4" y1="450.8" x2="1879.4" y2="477.2"/>
<rect x="1876.7" y="470.4" width="5.5" height="2.6"/>
<circle cx="1879.4" cy="447" r="2.5" stroke="#6a6a6a"/>
<line x1="1945" y1="450.8" x2="1945" y2="477.2"/>
<rect x="1942.3" y="470.4" width="5.5" height="2.6"/>
<circle cx="1945" cy="447" r="2.5" stroke="#6a6a6a"/>
<line x1="1985.3" y1="450.8" x2="1985.3" y2="477.2"/>
<rect x="1982.5" y="470.4" width="5.5" height="2.6"/>
<circle cx="1985.3" cy="447" r="2.5" stroke="#6a6a6a"/>
<line x1="2020.4" y1="450.8" x2="2020.4" y2="477.2"/>
<rect x="2017.7" y="470.4" width="5.5" height="2.6"/>
<line x1="2047.5" y1="450.8" x2="2047.5" y2="477.2"/>
<rect x="2044.8" y="470.4" width="5.5" height="2.6"/>
<circle cx="2047.5" cy="447" r="2.5" stroke="#6a6a6a"/>
<rect x="1438.1" y="470.4" width="5.5" height="2.6"/>
<rect x="1472.9" y="470.4" width="5.5" height="2.6"/>
<rect x="1740.7" y="470.4" width="5.5" height="2.6"/>
<rect x="1843.3" y="470.4" width="5.5" height="2.6"/>
<rect x="1842.8" y="470.4" width="5.5" height="2.6"/>
<rect x="1976.5" y="470.4" width="5.5" height="2.6"/>
<rect x="2010.4" y="470.4" width="5.5" height="2.6"/>
<line x1="1510.4" y1="359.3" x2="1510.4" y2="513.5"/>
<line x1="1508.6" y1="359.3" x2="1515.6" y2="359.3"/>
<line x1="1509.5" y1="360.2" x2="1511.4" y2="358.4" stroke-width="1"/>
<line x1="1508.6" y1="378" x2="1515.6" y2="378"/>
<line x1="1509.5" y1="378.9" x2="1511.4" y2="377" stroke-width="1"/>
<line x1="1508.6" y1="431.1" x2="1515.6" y2="431.1"/>
<line x1="1509.5" y1="432" x2="1511.4" y2="430.1" stroke-width="1"/>
<line x1="1508.6" y1="498.8" x2="1515.6" y2="498.8"/>
<line x1="1509.5" y1="499.7" x2="1511.4" y2="497.9" stroke-width="1"/>
<line x1="1508.6" y1="513.5" x2="1515.6" y2="513.5"/>
<line x1="1509.5" y1="514.4" x2="1511.4" y2="512.6" stroke-width="1"/>
<line x1="1501.8" y1="359.3" x2="1501.8" y2="513.5"/>
<line x1="1500" y1="359.3" x2="1503.7" y2="359.3"/>
<line x1="1500" y1="513.5" x2="1503.7" y2="513.5"/>
<line x1="1944.9" y1="359.3" x2="1944.9" y2="513.5"/>
<line x1="1943.1" y1="359.3" x2="1950" y2="359.3"/>
<line x1="1944" y1="360.2" x2="1945.8" y2="358.4" stroke-width="1"/>
<line x1="1943.1" y1="378" x2="1950" y2="378"/>
<line x1="1944" y1="378.9" x2="1945.8" y2="377" stroke-width="1"/>
<line x1="1943.1" y1="431.1" x2="1950" y2="431.1"/>
<line x1="1944" y1="432" x2="1945.8" y2="430.1" stroke-width="1"/>
<line x1="1943.1" y1="498.8" x2="1950" y2="498.8"/>
<line x1="1944" y1="499.7" x2="1945.8" y2="497.9" stroke-width="1"/>
<line x1="1943.1" y1="513.5" x2="1950" y2="513.5"/>
<line x1="1944" y1="514.4" x2="1945.8" y2="512.6" stroke-width="1"/>
<line x1="1953.1" y1="359.3" x2="1953.1" y2="513.5"/>
<line x1="1951.3" y1="359.3" x2="1955" y2="359.3"/>
<line x1="1951.3" y1="513.5" x2="1955" y2="513.5"/>
<line x1="1368" y1="469.5" x2="1368" y2="513.5"/>
<line x1="1366.1" y1="469.5" x2="1373.1" y2="469.5"/>
<line x1="1367.1" y1="470.4" x2="1368.9" y2="468.6" stroke-width="1"/>
<line x1="1366.1" y1="475.9" x2="1373.1" y2="475.9"/>
<line x1="1367.1" y1="476.8" x2="1368.9" y2="475" stroke-width="1"/>
<line x1="1366.1" y1="500.6" x2="1373.1" y2="500.6"/>
<line x1="1367.1" y1="501.6" x2="1368.9" y2="499.7" stroke-width="1"/>
<line x1="1366.1" y1="513.5" x2="1373.1" y2="513.5"/>
<line x1="1367.1" y1="514.4" x2="1368.9" y2="512.6" stroke-width="1"/>
<line x1="2087.3" y1="469.5" x2="2087.3" y2="513.5"/>
<line x1="2085.4" y1="469.5" x2="2092.4" y2="469.5"/>
<line x1="2086.4" y1="470.4" x2="2088.2" y2="468.6" stroke-width="1"/>
<line x1="2085.4" y1="475.9" x2="2092.4" y2="475.9"/>
<line x1="2086.4" y1="476.8" x2="2088.2" y2="475" stroke-width="1"/>
<line x1="2085.4" y1="500.6" x2="2092.4" y2="500.6"/>
<line x1="2086.4" y1="501.6" x2="2088.2" y2="499.7" stroke-width="1"/>
<line x1="2085.4" y1="513.5" x2="2092.4" y2="513.5"/>
<line x1="2086.4" y1="514.4" x2="2088.2" y2="512.6" stroke-width="1"/>
<line x1="1727.3" y1="418.2" x2="1727.3" y2="513.8" stroke-dasharray="6 2 1.2 2" stroke="#777"/>
<path d="M1439 518 l3.2 7.2 h21"/>
<path d="M1610.2 518 l3.2 7.2 h21"/>
<path d="M1845.1 518 l-3.2 7.2 h-21"/>
<path d="M2015.9 518 l-3.2 7.2 h-21"/>
<line x1="1613.9" y1="499.2" x2="1630.4" y2="499.2"/>
<line x1="1613" y1="513.1" x2="1631.3" y2="513.1"/>
<line x1="1824.9" y1="499.2" x2="1841.4" y2="499.2"/>
<line x1="1823.1" y1="513.1" x2="1841.4" y2="513.1"/>
<line x1="1409.7" y1="513.1" x2="1432.1" y2="513.1"/>
<line x1="2025.9" y1="513.1" x2="2045.2" y2="513.1"/>
<line x1="1906.4" y1="486" x2="1906.4" y2="498.8"/>
<line x1="1918.3" y1="486" x2="1918.3" y2="498.8"/>
<line x1="1537.4" y1="475.4" x2="1547.6" y2="475.4"/>
<line x1="1907.4" y1="475.4" x2="1917.6" y2="475.4"/>
</g>
<g font-weight="bold"><text x="1407" y="448.6" font-size="4" text-anchor="middle" fill="#2a2a2a" stroke="none" opacity="0.95">S</text>
<text x="1435.4" y="448.6" font-size="5.2" text-anchor="middle" fill="#2a2a2a" stroke="none" opacity="0.95">1.002t</text>
<text x="1469.6" y="448.6" font-size="4" text-anchor="middle" fill="#2a2a2a" stroke="none" opacity="0.95">S</text>
<text x="1509.5" y="448.6" font-size="4" text-anchor="middle" fill="#2a2a2a" stroke="none" opacity="0.95">S</text>
<text x="1574.9" y="448.6" font-size="4" text-anchor="middle" fill="#2a2a2a" stroke="none" opacity="0.95">S</text>
<text x="1614.5" y="448.6" font-size="4" text-anchor="middle" fill="#2a2a2a" stroke="none" opacity="0.95">S</text>
<text x="1644.7" y="448.6" font-size="5.2" text-anchor="middle" fill="#2a2a2a" stroke="none" opacity="0.95">0.600t</text>
<text x="1677.1" y="448.6" font-size="4" text-anchor="middle" fill="#2a2a2a" stroke="none" opacity="0.95">S</text>
<text x="1716.9" y="448.6" font-size="5.2" text-anchor="middle" fill="#2a2a2a" stroke="none" opacity="0.95">0.980t</text>
<text x="1739.4" y="448.6" font-size="5.2" text-anchor="middle" fill="#2a2a2a" stroke="none" opacity="0.95">0.980t</text>
<text x="1777.3" y="448.6" font-size="4" text-anchor="middle" fill="#2a2a2a" stroke="none" opacity="0.95">S</text>
<text x="1812.1" y="448.6" font-size="5.2" text-anchor="middle" fill="#2a2a2a" stroke="none" opacity="0.95">0.400t</text>
<text x="1840" y="448.6" font-size="4" text-anchor="middle" fill="#2a2a2a" stroke="none" opacity="0.95">S</text>
<text x="1879.4" y="448.6" font-size="4" text-anchor="middle" fill="#2a2a2a" stroke="none" opacity="0.95">S</text>
<text x="1945" y="448.6" font-size="4" text-anchor="middle" fill="#2a2a2a" stroke="none" opacity="0.95">S</text>
<text x="1985.3" y="448.6" font-size="4" text-anchor="middle" fill="#2a2a2a" stroke="none" opacity="0.95">S</text>
<text x="2021.4" y="448.6" font-size="5.2" text-anchor="middle" fill="#2a2a2a" stroke="none" opacity="0.95">1.002t</text>
<text x="2047.5" y="448.6" font-size="4" text-anchor="middle" fill="#2a2a2a" stroke="none" opacity="0.95">S</text>
<text x="1456.4" y="523.7" font-size="4.9" text-anchor="middle" fill="#2a2a2a" stroke="none" opacity="0.95">Shake Table</text>
<text x="1627.6" y="523.7" font-size="4.9" text-anchor="middle" fill="#2a2a2a" stroke="none" opacity="0.95">Shake Table</text>
<text x="1827.7" y="523.7" font-size="4.9" text-anchor="middle" fill="#2a2a2a" stroke="none" opacity="0.95">Shake Table</text>
<text x="1998.5" y="523.7" font-size="4.9" text-anchor="middle" fill="#2a2a2a" stroke="none" opacity="0.95">Shake Table</text>
<text x="1626.2" y="498.1" font-size="5.2" text-anchor="middle" fill="#2a2a2a" stroke="none" opacity="0.95">0.000</text>
<text x="1626.2" y="512" font-size="5.2" text-anchor="middle" fill="#2a2a2a" stroke="none" opacity="0.95">&#8722;0.500</text>
<text x="1831.4" y="498.1" font-size="5.2" text-anchor="middle" fill="#2a2a2a" stroke="none" opacity="0.95">0.000</text>
<text x="1830.4" y="512" font-size="5.2" text-anchor="middle" fill="#2a2a2a" stroke="none" opacity="0.95">&#8722;0.500</text>
<text x="1425.8" y="512" font-size="5.2" text-anchor="middle" fill="#2a2a2a" stroke="none" opacity="0.95">&#8722;0.500</text>
<text x="2033.3" y="512" font-size="5.2" text-anchor="middle" fill="#2a2a2a" stroke="none" opacity="0.95">&#8722;0.500</text>
<text x="1552.6" y="466.6" font-size="4.9" text-anchor="middle" fill="#2a2a2a" stroke="none" opacity="0.95">1.004</text>
<text x="1916.1" y="466.6" font-size="4.9" text-anchor="middle" fill="#2a2a2a" stroke="none" opacity="0.95">1.004</text>
<text x="1691.3" y="466.6" font-size="4.9" text-anchor="middle" fill="#2a2a2a" stroke="none" opacity="0.95">1.004</text>
<text x="1770.4" y="466.6" font-size="4.9" text-anchor="middle" fill="#2a2a2a" stroke="none" opacity="0.95">1.004</text>
<text x="1385.6" y="528.7" font-size="4.7" text-anchor="middle" fill="#2a2a2a" stroke="none" opacity="0.95">700</text>
<text x="2069" y="528.7" font-size="4.7" text-anchor="middle" fill="#2a2a2a" stroke="none" opacity="0.95">700</text>
<text x="1542.5" y="528.7" font-size="4.7" text-anchor="middle" fill="#2a2a2a" stroke="none" opacity="0.95">1021</text>
<text x="1911" y="528.7" font-size="4.7" text-anchor="middle" fill="#2a2a2a" stroke="none" opacity="0.95">1021</text>
<text x="1471.1" y="537.3" font-size="3.8" text-anchor="middle" fill="#2a2a2a" stroke="none" opacity="0.95">side</text>
<text x="1727.5" y="537.3" font-size="3.8" text-anchor="middle" fill="#2a2a2a" stroke="none" opacity="0.95">center</text>
<text x="1983.8" y="537.3" font-size="3.8" text-anchor="middle" fill="#2a2a2a" stroke="none" opacity="0.95">side</text>
<text x="1509.3" y="369.7" font-size="4.7" text-anchor="middle" fill="#2a2a2a" transform="rotate(-90 1509.3 369.7)" stroke="none" opacity="0.95">528</text>
<text x="1509.3" y="405.4" font-size="4.7" text-anchor="middle" fill="#2a2a2a" transform="rotate(-90 1509.3 405.4)" stroke="none" opacity="0.95">1500</text>
<text x="1509.3" y="458.5" font-size="4.7" text-anchor="middle" fill="#2a2a2a" transform="rotate(-90 1509.3 458.5)" stroke="none" opacity="0.95">200</text>
<text x="1509.3" y="507.1" font-size="4.7" text-anchor="middle" fill="#2a2a2a" transform="rotate(-90 1509.3 507.1)" stroke="none" opacity="0.95">400</text>
<text x="1942.5" y="369.7" font-size="4.7" text-anchor="middle" fill="#2a2a2a" transform="rotate(-90 1942.5 369.7)" stroke="none" opacity="0.95">528</text>
<text x="1942.5" y="405.4" font-size="4.7" text-anchor="middle" fill="#2a2a2a" transform="rotate(-90 1942.5 405.4)" stroke="none" opacity="0.95">1500</text>
<text x="1942.5" y="458.5" font-size="4.7" text-anchor="middle" fill="#2a2a2a" transform="rotate(-90 1942.5 458.5)" stroke="none" opacity="0.95">200</text>
<text x="1942.5" y="507.1" font-size="4.7" text-anchor="middle" fill="#2a2a2a" transform="rotate(-90 1942.5 507.1)" stroke="none" opacity="0.95">400</text>
<text x="1500.4" y="436.6" font-size="4.7" text-anchor="middle" fill="#2a2a2a" transform="rotate(-90 1500.4 436.6)" stroke="none" opacity="0.95">2728</text>
<text x="1951.3" y="436.6" font-size="4.7" text-anchor="middle" fill="#2a2a2a" transform="rotate(-90 1951.3 436.6)" stroke="none" opacity="0.95">2728</text>
<text x="1364.7" y="473.2" font-size="4.7" text-anchor="middle" fill="#2a2a2a" transform="rotate(-90 1364.7 473.2)" stroke="none" opacity="0.95">175</text>
<text x="1364.7" y="488.7" font-size="4.7" text-anchor="middle" fill="#2a2a2a" transform="rotate(-90 1364.7 488.7)" stroke="none" opacity="0.95">600</text>
<text x="1364.7" y="507.1" font-size="4.7" text-anchor="middle" fill="#2a2a2a" transform="rotate(-90 1364.7 507.1)" stroke="none" opacity="0.95">400</text>
<text x="2085.4" y="473.2" font-size="4.7" text-anchor="middle" fill="#2a2a2a" transform="rotate(-90 2085.4 473.2)" stroke="none" opacity="0.95">175</text>
<text x="2085.4" y="488.7" font-size="4.7" text-anchor="middle" fill="#2a2a2a" transform="rotate(-90 2085.4 488.7)" stroke="none" opacity="0.95">600</text>
<text x="2085.4" y="507.1" font-size="4.7" text-anchor="middle" fill="#2a2a2a" transform="rotate(-90 2085.4 507.1)" stroke="none" opacity="0.95">400</text>
<text x="2096.4" y="473.2" font-size="4.7" text-anchor="middle" fill="#2a2a2a" transform="rotate(-90 2096.4 473.2)" stroke="none" opacity="0.95">175</text>
<text x="1529.9" y="391.7" font-size="4.3" text-anchor="middle" fill="#2a2a2a" stroke="none" opacity="0.95">2</text>
<text x="1555.5" y="391.7" font-size="4.3" text-anchor="middle" fill="#2a2a2a" stroke="none" opacity="0.95">9</text>
<text x="1899.7" y="391.7" font-size="4.3" text-anchor="middle" fill="#2a2a2a" stroke="none" opacity="0.95">9</text>
<text x="1925.7" y="391.7" font-size="4.3" text-anchor="middle" fill="#2a2a2a" stroke="none" opacity="0.95">2</text>
<text x="1529.9" y="406.3" font-size="4.3" text-anchor="middle" fill="#2a2a2a" stroke="none" opacity="0.95">3</text>
<text x="1555.5" y="406.3" font-size="4.3" text-anchor="middle" fill="#2a2a2a" stroke="none" opacity="0.95">8</text>
<text x="1899.7" y="406.3" font-size="4.3" text-anchor="middle" fill="#2a2a2a" stroke="none" opacity="0.95">8</text>
<text x="1925.7" y="406.3" font-size="4.3" text-anchor="middle" fill="#2a2a2a" stroke="none" opacity="0.95">3</text>
<text x="1529.9" y="420.4" font-size="4.3" text-anchor="middle" fill="#2a2a2a" stroke="none" opacity="0.95">4</text>
<text x="1555.5" y="420.4" font-size="4.3" text-anchor="middle" fill="#2a2a2a" stroke="none" opacity="0.95">7</text>
<text x="1899.7" y="420.4" font-size="4.3" text-anchor="middle" fill="#2a2a2a" stroke="none" opacity="0.95">7</text>
<text x="1925.7" y="420.4" font-size="4.3" text-anchor="middle" fill="#2a2a2a" stroke="none" opacity="0.95">4</text>
<text x="1529.9" y="439.3" font-size="4.3" text-anchor="middle" fill="#2a2a2a" stroke="none" opacity="0.95">5</text>
<text x="1555.5" y="439.3" font-size="4.3" text-anchor="middle" fill="#2a2a2a" stroke="none" opacity="0.95">6</text>
<text x="1899.7" y="439.3" font-size="4.3" text-anchor="middle" fill="#2a2a2a" stroke="none" opacity="0.95">6</text>
<text x="1925.7" y="439.3" font-size="4.3" text-anchor="middle" fill="#2a2a2a" stroke="none" opacity="0.95">5</text>
<text x="1899.1" y="379.4" font-size="4.3" text-anchor="middle" fill="#2a2a2a" stroke="none" opacity="0.95">10</text>
<text x="1925.7" y="379.4" font-size="4.3" text-anchor="middle" fill="#2a2a2a" stroke="none" opacity="0.95">1</text></g>
<g clip-path="url(#cpP)"><g filter="url(#blP)">
<rect x="1832.1" y="541.2" width="287.5" height="215.4" fill="#3a3a39" stroke="none" stroke-width="1"/>
<polygon points="1833.1,542.1 1943.9,542.1 1943.9,652.9 1833.1,652.9" fill="#3b3c3b"/>
<polygon points="1833.1,542.1 1845.4,542.1 1845.4,560.5 1833.1,560.5" fill="#262828"/>
<polygon points="1845.4,542.1 1854.6,542.1 1854.6,566.7 1845.4,566.7" fill="#75746f"/>
<polygon points="1854.6,542.1 1932.6,542.1 1932.6,573.9 1912.1,570.8 1854.6,547.2" fill="#55554f"/>
<polygon points="1854.6,545.1 1883.3,555.4 1912.1,568.7 1926.4,573.9 1926.4,580 1912.1,574.9 1883.3,561.5 1854.6,550.3" fill="#a0a09a"/>
<polygon points="1854.6,551.3 1912.1,575.9 1912.1,589.2 1854.6,566.7" fill="#2a2c2e"/>
<polygon points="1887.5,570.8 1903.9,576.9 1903.9,582.1 1887.5,575.9" fill="#8d9296"/>
<polygon points="1833.1,560 1850.5,565.6 1902.8,587.7 1895.7,592.3 1850.5,574.4 1833.1,569.8" fill="#a9a9a2"/>
<polygon points="1850.5,575.4 1895.7,592.8 1910,597.5 1910,609.8 1850.5,593.9" fill="#1c1c1b"/>
<polygon points="1833.1,570.3 1841.3,570.3 1841.3,622.1 1833.1,622.1" fill="#262626"/>
<polygon points="1841.3,570.3 1850.5,570.3 1850.5,623.1 1841.3,623.1" fill="#7b7b74"/>
<polygon points="1850.5,593.9 1908,608.7 1908,633.4 1850.5,622.6" fill="#b4af99"/>
<line x1="1836.2" y1="606.7" x2="1901.8" y2="619" stroke="#5c5a50" stroke-width="0.5"/>
<line x1="1836.2" y1="610.8" x2="1901.8" y2="623.1" stroke="#5c5a50" stroke-width="0.5"/>
<line x1="1836.2" y1="614.9" x2="1901.8" y2="627.2" stroke="#5c5a50" stroke-width="0.5"/>
<line x1="1836.2" y1="619" x2="1901.8" y2="631.3" stroke="#5c5a50" stroke-width="0.5"/>
<line x1="1845.4" y1="607.4" x2="1845.4" y2="623.6" stroke="#4a483f" stroke-width="0.6"/>
<line x1="1859.8" y1="610.1" x2="1859.8" y2="625.9" stroke="#4a483f" stroke-width="0.6"/>
<line x1="1873.1" y1="612.7" x2="1873.1" y2="628" stroke="#4a483f" stroke-width="0.6"/>
<line x1="1885.4" y1="615" x2="1885.4" y2="630" stroke="#4a483f" stroke-width="0.6"/>
<line x1="1896.7" y1="617.2" x2="1896.7" y2="631.8" stroke="#4a483f" stroke-width="0.6"/>
<polygon points="1833.1,620.5 1901.8,632.8 1901.8,637 1833.1,626.7" fill="#adada4"/>
<polygon points="1833.1,626.7 1901.8,637 1912.1,638.5 1912.1,652.9 1833.1,652.9" fill="#4f7a6c"/>
<polygon points="1833.1,629.3 1841.3,630.3 1841.3,652.9 1833.1,652.9" fill="#7fa59c"/>
<polygon points="1863.9,635.4 1901.8,641.1 1901.8,643.6 1863.9,638" fill="#3f675b"/>
<polygon points="1863.9,643.6 1901.8,647.7 1901.8,650.3 1863.9,646.2" fill="#3f675b"/>
<polygon points="1849.5,631.3 1857.7,629.3 1861.8,634.4 1862.8,642.6 1860.8,652.9 1844.4,652.9 1845.4,638.5" fill="#2a2724"/>
<polygon points="1853.6,627.2 1860.8,628.2 1861.3,632.3 1855.6,632.8" fill="#b7b7b2"/>
<polygon points="1895.7,618.5 1903.9,618.5 1903.9,624.1 1895.7,624.1" fill="#181818"/>
<polygon points="1842.3,586.2 1850.5,585.7 1850.5,591.3 1843.3,592.3" fill="#9b9f9b"/>
<polygon points="1930.5,542.1 1942.9,542.1 1942.9,605.7 1930.5,605.7" fill="#4b4d4e"/>
<polygon points="1938.8,542.1 1943.9,542.1 1942.9,593.3 1937.7,601.6" fill="#b5b5b1"/>
<polygon points="1942.9,542.1 1980.8,542.1 1980.8,652.9 1942.9,652.9" fill="#85857f"/>
<polygon points="1943.9,542.1 1980.8,542.1 1980.8,565.6 1943.9,546.2" fill="#1d2128"/>
<polygon points="1942.9,549.2 1980.8,573.9 1980.8,579.5 1942.9,554.4" fill="#c4c4bf"/>
<polygon points="1942.9,555.4 1980.8,580.5 1980.8,597.5 1942.9,583.1" fill="#8f8f8a"/>
<polygon points="1952.1,563.1 1955.7,563.1 1955.7,586.2 1952.1,586.2" fill="#2e3032"/>
<polygon points="1973.1,575.9 1978.3,575.9 1978.3,597.5 1973.1,597.5" fill="#2e3032"/>
<polygon points="1941.8,582.1 1980.8,598.5 1980.8,605.7 1941.8,589.2" fill="#c7c7c2"/>
<polygon points="1941.8,590.3 1980.8,605.7 1980.8,616.9 1941.8,605.7" fill="#3c3f42"/>
<polygon points="1942.9,593.3 1953.1,596.9 1953.1,603.6 1942.9,601.6" fill="#d9dde0"/>
<polygon points="1933.6,602.6 1980.8,616.9 1980.8,623.6 1933.6,610.8" fill="#a3a39e"/>
<polygon points="1942.9,611.8 1980.8,623.6 1980.8,632.3 1942.9,622.1" fill="#222326"/>
<polygon points="1942.9,622.6 1980.8,632.8 1980.8,652.9 1942.9,652.9" fill="#cec9b3"/>
<line x1="1953.1" y1="635.4" x2="1953.1" y2="646.7" stroke="#8e8a7c" stroke-width="0.6"/>
<line x1="1959.8" y1="635.4" x2="1959.8" y2="646.7" stroke="#8e8a7c" stroke-width="0.6"/>
<line x1="1965.4" y1="635.4" x2="1965.4" y2="646.7" stroke="#8e8a7c" stroke-width="0.6"/>
<line x1="1970.6" y1="635.4" x2="1970.6" y2="646.7" stroke="#8e8a7c" stroke-width="0.6"/>
<polygon points="1974.7,636.4 1980,636.4 1980,648.8 1974.7,648.8" fill="#6a4636"/>
<polygon points="1900.8,576.4 1917.2,573.9 1917.2,583.1 1900.8,584.3" fill="#1b1b1b"/>
<line x1="1863.9" y1="559.3" x2="1863.9" y2="569.5" stroke="#8f9192" stroke-width="0.6"/>
<line x1="1874.1" y1="563.6" x2="1874.1" y2="573.8" stroke="#8f9192" stroke-width="0.6"/>
<line x1="1883.3" y1="567.5" x2="1883.3" y2="577.7" stroke="#8f9192" stroke-width="0.6"/>
<line x1="1891.6" y1="570.9" x2="1891.6" y2="581.2" stroke="#8f9192" stroke-width="0.6"/>
<polygon points="1892.6,573.9 1903.9,575.4 1901.8,581 1893.6,580" fill="#c5c9cc"/>
<polygon points="1917.2,573.9 1931.6,581 1931.6,586.2 1917.2,581" fill="#1a1a1a"/>
<polygon points="1918.2,582.1 1926.4,584.1 1936.7,632.3 1928.5,638.5 1925.4,611.8" fill="#a9abb0"/>
<polygon points="1908,605.7 1915.2,603.6 1912.1,638.5 1901.8,638.5" fill="#7b7d82"/>
<polygon points="1922.3,585.1 1927,587.2 1931.6,611.8 1925.4,610.8" fill="#2b2c2f"/>
<polygon points="1925.4,610.8 1942.9,614.9 1942.9,621.1 1925.4,618" fill="#1a1a1a"/>
<polygon points="1888.5,642.6 1901.8,637.5 1951.1,635.9 1952.1,643.6 1922.3,648.8 1891.6,649.8" fill="#1c1c1c"/>
<polygon points="1904.9,613.9 1912.1,614.9 1912.1,621.1 1904.9,621.1" fill="#1d1d1d"/>
<polygon points="1939.8,646.7 1980.8,645.7 1980.8,652.9 1939.8,652.9" fill="#e4dfc9"/>
<polygon points="1975,542.1 2118.6,542.1 2118.6,652.9 1975,652.9" fill="#6f6f6a"/>
<polygon points="1981.2,542.1 2118.6,542.1 2118.6,613.9 2073.5,626.2 2046.8,603.6 2019.1,572.8 2000.6,557.4 1981.2,546.2" fill="#2b2f35"/>
<polygon points="1975,542.1 1982.7,542.1 1983.7,551.3 1989.4,566.7 1975,557.4" fill="#1d2128"/>
<polygon points="1982.7,542.1 2037.6,542.1 2004.8,556.4 1998.6,560.5 1990.4,559.5 1983.7,551.3" fill="#f4f5f6"/>
<polygon points="1990.4,553.3 2014,573.9 2009.9,579 1986.3,559.5" fill="#e2e2dc"/>
<polygon points="2019.1,567.7 2097.1,545.1 2098.1,549.7 2021.2,572.8" fill="#8a8e93"/>
<polygon points="2036.6,542.1 2045.8,560.5 2043.7,561.5 2033.5,543.1" fill="#585c61"/>
<line x1="2040.7" y1="588.2" x2="2104.3" y2="574.4" stroke="#565a60" stroke-width="0.7"/>
<line x1="2054" y1="601.6" x2="2109.4" y2="590.3" stroke="#565a60" stroke-width="0.7"/>
<line x1="2065.3" y1="611.8" x2="2113.5" y2="602.6" stroke="#565a60" stroke-width="0.7"/>
<polygon points="2087.9,550.3 2093,550.3 2111.5,605.7 2108.4,606.7" fill="#44484e"/>
<polygon points="2090.9,542.1 2118.6,542.1 2118.6,613.9 2115.6,610.8 2101.2,565.6" fill="#f3f3f3"/>
<polygon points="2095,563.6 2118.6,558.5 2118.6,560.5 2096.1,566.2" fill="#7d8187"/>
<polygon points="2098,572.8 2118.6,567.7 2118.6,569.8 2099,575.4" fill="#7d8187"/>
<polygon points="2101.3,583.1 2118.6,578 2118.6,580 2102.3,585.7" fill="#7d8187"/>
<polygon points="2104.2,592.3 2118.6,587.2 2118.6,589.2 2105.3,594.9" fill="#7d8187"/>
<polygon points="2106.9,600.5 2118.6,595.4 2118.6,597.5 2107.9,603.1" fill="#7d8187"/>
<polygon points="2109.5,608.7 2118.6,603.6 2118.6,605.7 2110.5,611.3" fill="#7d8187"/>
<line x1="2023.2" y1="570.8" x2="2080.7" y2="555.4" stroke="#4a4e55" stroke-width="0.5"/>
<line x1="2029.6" y1="576.4" x2="2084" y2="561.6" stroke="#4a4e55" stroke-width="0.5"/>
<line x1="2035.9" y1="582.1" x2="2087.2" y2="567.9" stroke="#4a4e55" stroke-width="0.5"/>
<line x1="2042.3" y1="587.7" x2="2090.5" y2="574.2" stroke="#4a4e55" stroke-width="0.5"/>
<line x1="2048.7" y1="593.3" x2="2093.8" y2="580.4" stroke="#4a4e55" stroke-width="0.5"/>
<line x1="2055" y1="599" x2="2097.1" y2="586.7" stroke="#4a4e55" stroke-width="0.5"/>
<line x1="2061.4" y1="604.6" x2="2100.4" y2="592.9" stroke="#4a4e55" stroke-width="0.5"/>
<line x1="2067.7" y1="610.3" x2="2103.7" y2="599.2" stroke="#4a4e55" stroke-width="0.5"/>
<line x1="2074.1" y1="615.9" x2="2106.9" y2="605.5" stroke="#4a4e55" stroke-width="0.5"/>
<polygon points="2064.5,568.9 2066.1,568.9 2066.1,570.6 2064.5,570.6" fill="#b9bcc0"/>
<polygon points="2076.8,586.4 2078.4,586.4 2078.4,588 2076.8,588" fill="#b9bcc0"/>
<polygon points="2051.1,592.5 2052.8,592.5 2052.8,594.2 2051.1,594.2" fill="#b9bcc0"/>
<polygon points="2086,599.7 2087.7,599.7 2087.7,601.4 2086,601.4" fill="#b9bcc0"/>
<polygon points="2057.3,559.7 2058.9,559.7 2058.9,561.3 2057.3,561.3" fill="#b9bcc0"/>
<polygon points="2073.5,621.1 2118.6,611.8 2118.6,652.9 2073.5,652.9" fill="#8f8b7d"/>
<polygon points="2075.5,622.1 2113.5,619.5 2113.5,622.4 2075.5,624.7" fill="#b8b3a2"/>
<polygon points="2075.5,633.4 2113.5,631.8 2113.5,634.7 2075.5,636" fill="#b8b3a2"/>
<polygon points="2075.5,645.7 2113.5,644.6 2113.5,647.5 2075.5,648.3" fill="#b8b3a2"/>
<polygon points="2093,619 2096.9,619 2096.9,652.9 2093,652.9" fill="#b8b3a2"/>
<polygon points="2112.5,612.8 2117.8,611.8 2117.8,652.9 2113.5,652.9" fill="#6b7078"/>
<polygon points="2073.5,624.1 2077.6,624.1 2077.6,652.9 2073.5,652.9" fill="#5a5a58"/>
<polygon points="1975,550.3 1981.2,552.3 1988.3,573.9 1988.3,652.9 1975,652.9" fill="#4a4845"/>
<polygon points="1975,556.4 1988.3,565.6 2016,586.2 2046.8,610.8 2073.5,630.3 2073.5,636.4 2046.8,619 2016,595.4 1988.3,574.9 1975,566.7" fill="#1f2631"/>
<polygon points="1986.3,580 2018.1,593.3 2018.1,635.4 1986.3,622.1" fill="#e3e3df"/>
<polygon points="1995.5,590.3 2009.9,597.5 2009.9,613.9 1995.5,607.7" fill="#7f8181"/>
<polygon points="1996.5,614.9 2008.9,620 2008.9,628.2 1996.5,624.1" fill="#7a7f80"/>
<polygon points="2008.9,620 2016,622.1 2016,630.3 2008.9,628.2" fill="#c9697c"/>
<polygon points="2010.9,593.3 2018.6,592.3 2017.6,635.4 2010.9,634.4" fill="#d9d7cf"/>
<polygon points="2018.1,601.6 2032.5,610.8 2032.5,635.4 2018.1,630.3" fill="#46484a"/>
<polygon points="2018.1,621.1 2032.5,627.2 2032.5,630.3 2018.1,624.6" fill="#b9b9b4"/>
<polygon points="2032.5,607.7 2039.1,606.7 2037.1,636.4 2032.5,636.4" fill="#d3d1c9"/>
<polygon points="2038.6,615.9 2046.8,621.1 2046.8,638.5 2038.6,635.4" fill="#3f4143"/>
<polygon points="2046.8,619 2053,616.9 2051.9,643.6 2047.3,642.6" fill="#c9c7bf"/>
<polygon points="2053,624.1 2059.1,628.2 2059.1,642.6 2053,640.5" fill="#3a3c3e"/>
<polygon points="2059.1,626.2 2064.3,625.2 2063.7,648.8 2059.6,647.7" fill="#bfbdb5"/>
<polygon points="2064.3,630.3 2073.5,632.3 2073.5,652.9 2064.3,652.9" fill="#54719b"/>
<polygon points="1975,615.9 2032.5,638.5 2032.5,643.6 1975,622.1" fill="#b3b3ae"/>
<polygon points="1975,623.1 2032.5,644.1 2032.5,652.9 1975,652.9" fill="#2b2c2e"/>
<polygon points="1989.4,638.5 2018.1,648.8 2018.1,652.9 1989.4,652.9" fill="#cdc8b4"/>
<polygon points="2034.5,636.4 2046.8,635.4 2048.9,652.9 2032.5,652.9" fill="#1d1d1d"/>
<polygon points="1975,635.4 1979.1,635.4 1979.1,652.9 1975,652.9" fill="#6a4030"/>
<polygon points="1833.1,648 1980.8,648 1980.8,755.2 1833.1,755.2" fill="#2a2a2a"/>
<polygon points="1833.1,648 1915.2,648 1915.2,682.4 1833.1,682.4" fill="#4f7a6c"/>
<polygon points="1860.8,650.1 1897.7,651.1 1897.7,657.2 1860.8,656.2" fill="#6f988a"/>
<polygon points="1833.1,650.1 1842.3,650.1 1842.3,678.8 1833.1,678.8" fill="#7aa096"/>
<polygon points="1859.8,659.3 1883.3,659.3 1883.3,677.8 1859.8,677.8" fill="#638a7c"/>
<polygon points="1843.3,648 1858.7,648 1857.7,681.9 1844.4,681.9" fill="#2c2926"/>
<line x1="1859.2" y1="658.3" x2="1859.2" y2="681.9" stroke="#2f3a36" stroke-width="0.9"/>
<line x1="1874.1" y1="658.3" x2="1874.1" y2="681.9" stroke="#2f3a36" stroke-width="0.9"/>
<line x1="1880.3" y1="658.3" x2="1880.3" y2="681.9" stroke="#2f3a36" stroke-width="0.9"/>
<line x1="1893.6" y1="658.3" x2="1893.6" y2="681.9" stroke="#2f3a36" stroke-width="0.9"/>
<line x1="1901.8" y1="658.3" x2="1901.8" y2="681.9" stroke="#2f3a36" stroke-width="0.9"/>
<polygon points="1885.4,662.4 1901.8,662.4 1901.8,678.8 1885.4,678.8" fill="#2e3a38"/>
<line x1="1835.1" y1="681.3" x2="1855.6" y2="671.1" stroke="#b4b6b4" stroke-width="1.0"/>
<line x1="1869" y1="692.1" x2="1903.9" y2="659.3" stroke="#8d8f8f" stroke-width="1.0"/>
<polygon points="1833.1,682.4 1915.2,682.4 1915.2,698.3 1833.1,698.3" fill="#1c1c1c"/>
<polygon points="1833.1,698.3 1915.2,698.3 1915.2,755.2 1833.1,755.2" fill="#343432"/>
<polygon points="1833.1,700.8 1890.5,697.2 1890.5,705.5 1833.1,708" fill="#d6d0b6"/>
<polygon points="1833.1,709.6 1877.2,707.5 1877.2,713.7 1833.1,715.2" fill="#cfc9b0"/>
<polygon points="1860.8,694.7 1890.5,694.2 1890.5,696.7 1860.8,697.2" fill="#c9c3a8"/>
<polygon points="1833.1,716.7 1871,714.7 1871,740.3 1833.1,740.8" fill="#8d8d84"/>
<polygon points="1833.1,719.8 1869,718.8 1869,722.9 1833.1,724.4" fill="#b1b1a8"/>
<polygon points="1833.1,729.1 1863.9,728 1863.9,730.1 1833.1,731.3" fill="#3a3a36"/>
<polygon points="1833.1,740.8 1915.2,740.8 1915.2,755.2 1833.1,755.2" fill="#1e1e1e"/>
<polygon points="1871,713.7 1912.1,713.7 1912.1,741.4 1871,741.4" fill="#3b3b39"/>
<polygon points="1879.2,705.5 1908,705.5 1908,719.8 1879.2,719.8" fill="#1d1d1d"/>
<line x1="1857.7" y1="699.3" x2="1856.9" y2="740.3" stroke="#2e241b" stroke-width="1.3"/>
<line x1="1871" y1="699.3" x2="1870.2" y2="740.3" stroke="#2e241b" stroke-width="1.3"/>
<polygon points="1867.8,704.9 1870,704.9 1870,720.8 1867.8,720.8" fill="#b39a2e"/>
<line x1="1899.8" y1="705.5" x2="1899.8" y2="738.3" stroke="#55585a" stroke-width="0.8"/>
<polygon points="1901.8,651.1 1912.1,648 1912.1,681.9 1903.9,681.9" fill="#8f9aa0"/>
<polygon points="1904.9,659.3 1912.1,659.3 1912.1,681.9 1904.9,681.9" fill="#20222a"/>
<polygon points="1906.4,667.5 1915.2,667.5 1915.2,670.1 1906.4,670.1" fill="#c9ccd0"/>
<polygon points="1917.2,648 1932.6,648 1932.6,681.9 1917.2,681.9" fill="#3b4a46"/>
<polygon points="1919.3,649 1928.5,649 1928.5,656.2 1919.3,656.2" fill="#9fc0b4"/>
<polygon points="1920.3,673.6 1930.5,673.6 1930.5,679.8 1920.3,679.8" fill="#a9c4ba"/>
<polygon points="1932.6,654.2 1941.8,654.2 1942.9,697.2 1934.6,697.2" fill="#b9bcc4"/>
<polygon points="1928.5,655.2 1953.1,655.2 1953.1,661.3 1928.5,661.3" fill="#1a1a1a"/>
<polygon points="1942.9,666.5 1953.1,666.5 1953.1,674.7 1942.9,674.7" fill="#1c1c1c"/>
<polygon points="1938.8,648 1980.8,648 1980.8,654.2 1949,652.1 1938.8,651.1" fill="#e6e0ca"/>
<polygon points="1949,652.1 1980.8,655.2 1980.8,665.4 1949,661.9" fill="#4b3e41"/>
<polygon points="1943.9,663.4 1980.8,666 1980.8,678.8 1943.9,677.8" fill="#ebe7d4"/>
<polygon points="1954.1,677.8 1980.8,677.8 1980.8,681.9 1954.1,681.9" fill="#8fb4d6"/>
<line x1="1955.2" y1="666.5" x2="1955.2" y2="678.8" stroke="#8a8676" stroke-width="0.7"/>
<line x1="1968.5" y1="666.5" x2="1968.5" y2="678.8" stroke="#8a8676" stroke-width="0.7"/>
<line x1="1957.2" y1="666.5" x2="1967.5" y2="678.8" stroke="#4a4640" stroke-width="0.8"/>
<line x1="1973.6" y1="671.6" x2="1980" y2="677.8" stroke="#4a4640" stroke-width="0.8"/>
<polygon points="1943.9,681.9 1980.8,681.9 1980.8,694.2 1943.9,694.2" fill="#232323"/>
<polygon points="1952.1,694.2 1980.8,694.2 1980.8,727 1952.1,727" fill="#4a2e2b"/>
<polygon points="1955.2,693.7 1980.8,693.7 1980.8,696.7 1955.2,696.7" fill="#d8d8d2"/>
<polygon points="1957.2,698.3 1961.8,698.3 1961.8,709.6 1957.2,709.6" fill="#b9a9a4"/>
<polygon points="1966.5,698.3 1971.1,698.3 1971.1,709.6 1966.5,709.6" fill="#b9a9a4"/>
<polygon points="1973.6,698.3 1978.3,698.3 1978.3,709.6 1973.6,709.6" fill="#b9a9a4"/>
<polygon points="1951.1,711.6 1980.8,711.6 1980.8,727 1951.1,727" fill="#2c2625"/>
<line x1="1953.1" y1="694.2" x2="1953.1" y2="726" stroke="#1e1616" stroke-width="0.9"/>
<line x1="1959.5" y1="694.2" x2="1959.5" y2="726" stroke="#1e1616" stroke-width="0.9"/>
<line x1="1963.4" y1="694.2" x2="1963.4" y2="726" stroke="#1e1616" stroke-width="0.9"/>
<line x1="1970.8" y1="694.2" x2="1970.8" y2="726" stroke="#1e1616" stroke-width="0.9"/>
<line x1="1977.7" y1="694.2" x2="1977.7" y2="726" stroke="#1e1616" stroke-width="0.9"/>
<polygon points="1932.6,719.8 1962.3,719.8 1962.3,740.8 1932.6,740.8" fill="#aeada7"/>
<polygon points="1930.5,740.8 1980.8,727 1980.8,755.2 1930.5,755.2" fill="#6b6861"/>
<polygon points="1919.3,683.9 1927.5,681.9 1932.6,686 1932.6,694.2 1920.3,695.2" fill="#171514"/>
<polygon points="1917.2,696.2 1925.4,693.7 1933.6,696.2 1936.2,705.5 1935.7,730.1 1931.1,732.1 1917.2,730.1" fill="#c4506a"/>
<line x1="1917.2" y1="701.3" x2="1935.7" y2="701.3" stroke="#e08ea0" stroke-width="0.5"/>
<line x1="1917.2" y1="709.6" x2="1935.7" y2="709.6" stroke="#e08ea0" stroke-width="0.5"/>
<line x1="1917.2" y1="717.8" x2="1935.7" y2="717.8" stroke="#e08ea0" stroke-width="0.5"/>
<line x1="1917.2" y1="726" x2="1935.7" y2="726" stroke="#e08ea0" stroke-width="0.5"/>
<polygon points="1918.2,730.1 1931.1,731.6 1930,755.2 1918.2,755.2" fill="#2d3d5c"/>
<polygon points="1941.3,686 1947,684.4 1950,689 1949,694.2 1941.8,694.2" fill="#5a4538"/>
<polygon points="1938.8,696.2 1944.9,694.2 1950.5,697.2 1951.6,713.7 1950,722.9 1937.7,722.4 1937.2,705.5" fill="#797b7e"/>
<polygon points="1938.8,722.4 1949.5,722.9 1950.5,754.7 1941.8,754.7 1940.8,740.3" fill="#161719"/>
<polygon points="1975,648 2118.6,648 2118.6,755.2 1975,755.2" fill="#5e5e5c"/>
<polygon points="1975,648 2032.5,648 2032.5,651.1 1975,651.1" fill="#6e5a50"/>
<polygon points="1978.1,648 1982.7,648 1982.7,651.1 1978.1,651.1" fill="#d9d4c6"/>
<polygon points="1987.3,648 1991.9,648 1991.9,651.1 1987.3,651.1" fill="#d9d4c6"/>
<polygon points="1995.5,648 2000.1,648 2000.1,651.1 1995.5,651.1" fill="#d9d4c6"/>
<polygon points="2004.8,648 2009.4,648 2009.4,651.1 2004.8,651.1" fill="#d9d4c6"/>
<polygon points="2013,648 2017.6,648 2017.6,651.1 2013,651.1" fill="#d9d4c6"/>
<polygon points="2021.2,648 2025.8,648 2025.8,651.1 2021.2,651.1" fill="#d9d4c6"/>
<polygon points="1975,650.1 2032.5,659.3 2032.5,682.9 1975,681.9" fill="#efebdc"/>
<polygon points="1975,656.7 2015,662.4 2015,670.1 1975,668.5" fill="#4c3f46"/>
<polygon points="1975,675.7 1982.2,675.7 1982.2,682.4 1975,682.4" fill="#8ab0d2"/>
<line x1="1983.7" y1="670.6" x2="1983.7" y2="679.8" stroke="#9a9688" stroke-width="0.7"/>
<line x1="1993.5" y1="670.6" x2="1993.5" y2="679.8" stroke="#9a9688" stroke-width="0.7"/>
<line x1="1997.1" y1="670.6" x2="1997.1" y2="679.8" stroke="#9a9688" stroke-width="0.7"/>
<line x1="2010.9" y1="670.6" x2="2010.9" y2="679.8" stroke="#9a9688" stroke-width="0.7"/>
<line x1="2020.1" y1="670.6" x2="2020.1" y2="679.8" stroke="#9a9688" stroke-width="0.7"/>
<polygon points="2073.5,648 2118.6,648 2118.6,683.4 2073.5,683.4" fill="#9b9585"/>
<polygon points="2078.6,650.1 2096.1,650.1 2096.1,661.3 2078.6,661.3" fill="#8a8576"/>
<polygon points="2099.7,649.5 2117.6,649.5 2117.6,661.3 2099.7,661.3" fill="#a39d8b"/>
<polygon points="2073.5,661.9 2117.6,661.9 2117.6,664.9 2073.5,664.9" fill="#c4beaa"/>
<polygon points="2096.1,648 2099.7,648 2099.7,683.4 2096.1,683.4" fill="#c4beaa"/>
<polygon points="2099.7,665.4 2117.6,665.4 2117.6,673.6 2099.7,673.6" fill="#a39d8b"/>
<polygon points="2080.7,668.5 2092.5,668.5 2092.5,682.4 2080.7,682.4" fill="#87583a"/>
<polygon points="2065.3,648 2074,648 2074,683.9 2065.3,683.9" fill="#d3dae6"/>
<polygon points="2069.4,648 2074,648 2074,683.9 2069.4,683.9" fill="#7f8da6"/>
<polygon points="2097.1,672.6 2117.6,671.6 2117.6,682.9 2097.1,682.9" fill="#c6d6e8"/>
<polygon points="2078.6,682.9 2117.8,682.9 2117.8,687.5 2078.6,687.5" fill="#3d78ba"/>
<polygon points="2072.5,687.5 2117.8,687.5 2117.8,697.8 2072.5,697.8" fill="#5b7793"/>
<line x1="2073.5" y1="689.6" x2="2117.6" y2="689.6" stroke="#2e3f55" stroke-width="0.6"/>
<line x1="2073.5" y1="693.1" x2="2117.6" y2="693.1" stroke="#2e3f55" stroke-width="0.6"/>
<line x1="2073.5" y1="696.2" x2="2117.6" y2="696.2" stroke="#2e3f55" stroke-width="0.6"/>
<polygon points="2073.5,697.8 2117.8,697.8 2117.8,703.4 2102.2,702.4 2087.9,707.5 2073.5,705.5" fill="#a59379"/>
<polygon points="2093,707 2102.2,701.9 2117.8,702.9 2117.8,713.7 2103.2,713.7" fill="#202022"/>
<polygon points="2026.3,650.1 2065.3,650.1 2065.3,682.9 2026.3,682.9" fill="#ecece8"/>
<polygon points="2031.9,648 2036.6,648 2040.7,665.4 2036.6,682.9 2030.9,682.9 2034.5,665.4" fill="#8e969f"/>
<polygon points="2046.8,648 2051.4,648 2056.1,668.5 2061.2,697.2 2057.1,705.5 2055,681.9" fill="#9aa1a9"/>
<polygon points="2030.4,651.6 2057.1,651.6 2057.1,655.7 2030.4,655.7" fill="#1a1a1a"/>
<polygon points="2026.3,664.4 2063.2,664.4 2063.2,668.5 2026.3,668.5" fill="#1a1a1a"/>
<polygon points="2025.3,672.1 2063.2,672.1 2063.2,676.7 2025.3,676.7" fill="#1a1a1a"/>
<polygon points="2026.3,677.8 2062.2,677.8 2062.2,681.9 2026.3,681.9" fill="#1a1a1a"/>
<polygon points="2054,657.2 2061.2,657.2 2061.2,666.5 2054,666.5" fill="#7a3a2c"/>
<polygon points="2056.1,681.9 2061.2,682.9 2060.7,701.3 2057.1,705.5" fill="#b0b4b8"/>
<polygon points="1975,681.3 2073.5,681.3 2073.5,692.1 1975,692.1" fill="#1d1d1d"/>
<polygon points="1975,692.1 2060.2,692.1 2060.2,713.7 1975,713.7" fill="#3c2422"/>
<polygon points="1975,690.1 2055,690.1 2055,693.1 1975,693.1" fill="#c9c9c4"/>
<polygon points="1987.3,694.2 1992.4,694.2 1992.4,703.4 1987.3,703.4" fill="#d5d5d0"/>
<polygon points="1998.6,694.2 2003.7,694.2 2003.7,703.4 1998.6,703.4" fill="#d5d5d0"/>
<polygon points="2008.9,694.2 2014,694.2 2014,703.4 2008.9,703.4" fill="#d5d5d0"/>
<polygon points="2020.1,694.2 2025.3,694.2 2025.3,703.4 2020.1,703.4" fill="#d5d5d0"/>
<polygon points="2027.3,694.2 2032.5,694.2 2032.5,703.4 2027.3,703.4" fill="#d5d5d0"/>
<polygon points="2036.6,694.2 2041.7,694.2 2041.7,703.4 2036.6,703.4" fill="#d5d5d0"/>
<polygon points="2046.8,694.2 2051.9,694.2 2051.9,703.4 2046.8,703.4" fill="#d5d5d0"/>
<polygon points="1975,705.5 2060.2,705.5 2060.2,713.7 1975,713.7" fill="#2a2020"/>
<line x1="1977.1" y1="691.1" x2="1977.1" y2="711.6" stroke="#261a1a" stroke-width="0.9"/>
<line x1="1984.2" y1="691.1" x2="1984.2" y2="711.6" stroke="#261a1a" stroke-width="0.9"/>
<line x1="1991.4" y1="691.1" x2="1991.4" y2="711.6" stroke="#261a1a" stroke-width="0.9"/>
<line x1="1996.5" y1="691.1" x2="1996.5" y2="711.6" stroke="#261a1a" stroke-width="0.9"/>
<line x1="2005.8" y1="691.1" x2="2005.8" y2="711.6" stroke="#261a1a" stroke-width="0.9"/>
<line x1="2016" y1="691.1" x2="2016" y2="711.6" stroke="#261a1a" stroke-width="0.9"/>
<line x1="2024.2" y1="691.1" x2="2024.2" y2="711.6" stroke="#261a1a" stroke-width="0.9"/>
<line x1="2033.5" y1="691.1" x2="2033.5" y2="711.6" stroke="#261a1a" stroke-width="0.9"/>
<line x1="2042.7" y1="691.1" x2="2042.7" y2="711.6" stroke="#261a1a" stroke-width="0.9"/>
<line x1="2053" y1="691.1" x2="2053" y2="711.6" stroke="#261a1a" stroke-width="0.9"/>
<polygon points="2061.2,691.1 2073.5,689 2073.5,705.5 2062.2,705.5" fill="#3a3a36"/>
<polygon points="1975,713.7 2026.3,711.6 2060.2,708.5 2077.6,705.5 2114.5,714.7 2094,738.3 2032.5,732.1 1975,727" fill="#3a3a3c"/>
<polygon points="1975,727 2032.5,732.1 2094,738.3 2093,741.9 2032.5,735.7 1975,729.6" fill="#151515"/>
<polygon points="1975,729.6 2032.5,735.7 2018.1,740.3 1989.4,755.2 1975,755.2" fill="#726e66"/>
<polygon points="2114.5,714.7 2118.6,713.7 2118.6,755.2 2077.6,755.2 2094,738.3" fill="#5b5b5d"/>
<polygon points="2032.5,735.7 2093,741.9 2077.6,755.2 2030.4,755.2" fill="#1a1a1c"/>
<polygon points="1989.4,755.2 2019.1,739.3 2036.6,740.3 2032.5,755.2" fill="#1b2858"/>
<polygon points="2002.7,734 2111.5,749.1 2111.5,751.2 2002.7,736.4" fill="#b9a583"/>
<polygon points="2061.7,706 2070.9,705.5 2071.4,713.7 2062.2,714.2" fill="#6c2226"/>
<polygon points="2077.6,711.6 2084.8,709.6 2092,711.1 2092,723.9 2078.6,724.4" fill="#702528"/>
<polygon points="2076.6,711.1 2092,707 2093,710.6 2084.8,712.1" fill="#4a2a2e"/>
<polygon points="2061.2,699.8 2065.8,699.8 2065.8,705.5 2061.2,705.5" fill="#d9d9d6"/>
<rect x="1832.1" y="541.2" width="287.5" height="215.4" fill="#000" stroke="none" stroke-width="1" opacity="0.13"/>
</g>
<polygon points="2090.6,539.2 2123.6,539.2 2123.6,655.2 2116.6,641.2 2111.6,613.2 2102.6,583.2" fill="#fff" filter="url(#blP2)" opacity="0.95"/>
</g>
<polygon points="1480.5,635.4 1481.8,635.4 1483.1,635.4 1484.4,635.4 1485.7,635.4 1486.9,635.4 1488.2,635.2 1489.5,634.2 1490.8,634.2 1492.1,632.6 1493.4,630.8 1494.7,631.6 1496,632.3 1497.3,632.3 1498.5,632.3 1499.8,632.6 1501.1,632.8 1502.4,633 1503.7,633.2 1505,633.2 1506.3,633.2 1507.6,633 1508.9,632.8 1510.1,632.5 1511.4,632.2 1512.7,631.6 1514,631 1515.3,630.7 1516.6,630.5 1517.9,630.3 1519.2,630.1 1520.5,629.8 1521.7,629.4 1523,629.1 1524.3,629 1525.6,628.9 1526.9,628.8 1528.2,628.9 1529.5,629 1530.8,627.8 1532.1,625.7 1533.3,624.7 1534.6,624.2 1535.9,623.7 1537.2,621.2 1538.5,618.7 1539.8,618.8 1541.1,621.8 1542.4,622.9 1543.7,622.2 1545,621.3 1546.2,620.5 1547.5,619.7 1548.8,622.1 1550.1,624.4 1551.4,626.1 1552.7,626.5 1554,625.9 1555.3,625.4 1556.6,625.2 1557.8,623.6 1559.1,622.1 1560.4,621.3 1561.7,620.6 1563,619.8 1564.3,620.1 1565.6,621.3 1566.9,622.5 1568.2,622.9 1569.4,622.4 1570.7,621.9 1572,622.1 1573.3,622.9 1574.6,623.8 1575.9,624.6 1577.2,624.2 1578.5,623.9 1579.8,623.6 1581,625.1 1582.3,626.6 1583.6,628.1 1584.9,627.6 1586.2,627.2 1587.5,626.7 1588.8,627.2 1590.1,627.7 1591.4,628.1 1592.6,627.9 1593.9,628.3 1595.2,628.6 1596.5,629 1597.8,629 1599.1,628.1 1600.4,627.1 1601.7,626.2 1603,627.7 1604.2,629.2 1605.5,629.4 1606.8,629.6 1608.1,629.5 1609.4,629.4 1610.7,629.3 1612,629.2 1613.3,630.2 1614.6,631.1 1615.8,632.1 1617.1,632.2 1618.4,632.4 1619.7,632.5 1621,632.7 1622.3,632.8 1623.6,632.9 1624.9,632.9 1626.2,633 1627.4,633 1628.7,633.1 1630,633.1 1631.3,633.2 1632.6,633.2 1633.9,632.7 1635.2,632.2 1636.5,632 1637.8,631.8 1639,632.1 1640.3,632.3 1641.6,632.6 1642.9,632.9 1644.2,633.1 1645.5,633.2 1646.8,633.4 1648.1,633.6 1649.4,633.6 1650.6,633.6 1651.9,633.6 1653.2,633.6 1654.5,633.6 1655.8,633.6 1657.1,633.6 1658.4,633.6 1659.7,633.6 1661,633.7 1662.2,633.7 1663.5,633.8 1664.8,633.8 1666.1,633.9 1667.4,633.9 1668.7,634 1670,634 1671.3,634 1672.6,634 1673.8,634 1675.1,634 1676.4,634 1677.7,633.9 1679,633.9 1680.3,633.9 1681.6,633.8 1682.9,633.6 1684.2,633.3 1685.5,633.1 1686.7,633.4 1688,633.7 1689.3,634 1690.6,634.1 1691.9,634.2 1693.2,634.2 1694.5,634.2 1695.8,634.2 1697.1,634.2 1698.3,634.2 1699.6,634.2 1700.9,634.2 1702.2,634.2 1703.5,634.2 1704.8,634.2 1706.1,634.2 1707.4,634.2 1708.7,634.2 1709.9,634.2 1711.2,634.2 1712.5,634.2 1713.8,634.2 1715.1,634.2 1716.4,634.2 1717.7,634.2 1719,634.2 1720.3,634.2 1721.5,634.2 1722.8,634.2 1724.1,634.2 1725.4,634.2 1726.7,634.2 1728,634.2 1729.3,634.2 1730.6,634.2 1731.9,634.2 1733.1,634.2 1734.4,634.2 1735.7,634.2 1737,634.2 1738.3,634.2 1738.3,636.5 1737,636.5 1735.7,636.5 1734.4,636.5 1733.1,636.5 1731.9,636.5 1730.6,636.5 1729.3,636.5 1728,636.5 1726.7,636.5 1725.4,636.5 1724.1,636.5 1722.8,636.5 1721.5,636.5 1720.3,636.5 1719,636.5 1717.7,636.5 1716.4,636.5 1715.1,636.5 1713.8,636.5 1712.5,636.5 1711.2,636.5 1709.9,636.5 1708.7,636.5 1707.4,636.5 1706.1,636.5 1704.8,636.5 1703.5,636.5 1702.2,636.5 1700.9,636.5 1699.6,636.5 1698.3,636.5 1697.1,636.5 1695.8,636.5 1694.5,636.5 1693.2,636.5 1691.9,636.5 1690.6,636.6 1689.3,636.7 1688,637 1686.7,637.3 1685.5,637.6 1684.2,637.4 1682.9,637.1 1681.6,636.9 1680.3,636.8 1679,636.8 1677.7,636.8 1676.4,636.7 1675.1,636.7 1673.8,636.7 1672.6,636.7 1671.3,636.7 1670,636.7 1668.7,636.7 1667.4,636.8 1666.1,636.8 1664.8,636.9 1663.5,636.9 1662.2,637 1661,637 1659.7,637.1 1658.4,637.1 1657.1,637.1 1655.8,637.1 1654.5,637.1 1653.2,637.1 1651.9,637.1 1650.6,637.1 1649.4,637.1 1648.1,637.1 1646.8,637.3 1645.5,637.5 1644.2,637.6 1642.9,637.8 1641.6,638.1 1640.3,638.4 1639,638.6 1637.8,638.9 1636.5,638.7 1635.2,638.5 1633.9,638 1632.6,637.5 1631.3,637.5 1630,637.6 1628.7,637.6 1627.4,637.7 1626.2,637.7 1624.9,637.8 1623.6,637.8 1622.3,637.9 1621,638 1619.7,638.2 1618.4,638.3 1617.1,638.5 1615.8,638.6 1614.6,639.6 1613.3,640.5 1612,641.5 1610.7,641.4 1609.4,641.3 1608.1,641.2 1606.8,641.1 1605.5,641.3 1604.2,641.5 1603,643 1601.7,644.5 1600.4,643.6 1599.1,642.6 1597.8,641.7 1596.5,641.7 1595.2,642.1 1593.9,642.4 1592.6,642.8 1591.4,642.6 1590.1,643 1588.8,643.5 1587.5,644 1586.2,643.5 1584.9,643.1 1583.6,642.6 1582.3,644.1 1581,645.6 1579.8,647.1 1578.5,646.8 1577.2,646.5 1575.9,646.1 1574.6,646.9 1573.3,647.8 1572,648.6 1570.7,648.8 1569.4,648.3 1568.2,647.8 1566.9,648.2 1565.6,649.4 1564.3,650.6 1563,650.9 1561.7,650.1 1560.4,649.4 1559.1,648.6 1557.8,647.1 1556.6,645.5 1555.3,645.3 1554,644.8 1552.7,644.2 1551.4,644.6 1550.1,646.3 1548.8,648.6 1547.5,651 1546.2,650.2 1545,649.4 1543.7,648.5 1542.4,647.8 1541.1,648.9 1539.8,651.9 1538.5,652 1537.2,649.5 1535.9,647 1534.6,646.5 1533.3,646 1532.1,645 1530.8,642.9 1529.5,641.7 1528.2,641.8 1526.9,641.9 1525.6,641.8 1524.3,641.7 1523,641.6 1521.7,641.3 1520.5,640.9 1519.2,640.6 1517.9,640.4 1516.6,640.2 1515.3,640 1514,639.7 1512.7,639.1 1511.4,638.5 1510.1,638.2 1508.9,637.9 1507.6,637.7 1506.3,637.5 1505,637.5 1503.7,637.5 1502.4,637.7 1501.1,637.9 1499.8,638.1 1498.5,638.4 1497.3,638.4 1496,638.4 1494.7,639.1 1493.4,639.9 1492.1,638.1 1490.8,636.5 1489.5,636.5 1488.2,635.5 1486.9,635.4 1485.7,635.4 1484.4,635.4 1483.1,635.4 1481.8,635.4 1480.5,635.4" fill="#000" stroke="none" stroke-width="1"/>
<polyline points="1480.5,635.4 1480.8,635.4 1481,635.4 1481.3,635.4 1481.6,635.4 1481.8,635.4 1482.1,635.4 1482.4,635.4 1482.6,635.4 1482.9,635.4 1483.2,635.4 1483.5,635.4 1483.7,635.4 1484,635.4 1484.3,635.4 1484.5,635.4 1484.8,635.4 1485.1,635.4 1485.3,635.4 1485.6,635.4 1485.9,635.4 1486.1,635.4 1486.4,635.4 1486.7,635.4 1486.9,635.4 1487.2,635.4 1487.5,635.4 1487.8,635.4 1488,635.1 1488.3,635.7 1488.6,634.4 1488.8,635.9 1489.1,634.2 1489.4,636.6 1489.6,633.8 1489.9,636 1490.2,636 1490.4,634 1490.7,636.1 1491,633.2 1491.2,637.7 1491.5,628.9 1491.8,640.6 1492,628.6 1492.3,638.2 1492.6,632.4 1492.9,638.5 1493.1,638.9 1493.4,618.6 1493.7,652.1 1493.9,631.4 1494.2,643.1 1494.5,638.7 1494.7,626.9 1495,643.3 1495.3,630.2 1495.5,639.4 1495.8,631.6 1496.1,640.3 1496.3,631.2 1496.6,641.5 1496.9,631.4 1497.1,638 1497.4,631 1497.7,640.7 1498,627.6 1498.2,638.2 1498.5,632.6 1498.8,638.6 1499,630.2 1499.3,640.9 1499.6,632.1 1499.8,637.5 1500.1,628.9 1500.4,632.7 1500.6,637.6 1500.9,631.2 1501.2,640.6 1501.4,625.9 1501.7,639.5 1502,627.4 1502.3,637.2 1502.5,627.2 1502.8,638.9 1503.1,629.6 1503.3,638.1 1503.6,632.9 1503.9,637.4 1504.1,632.7 1504.4,637.7 1504.7,637.1 1504.9,633.5 1505.2,640.5 1505.5,630 1505.7,632.6 1506,639 1506.3,631.1 1506.5,641 1506.8,630.4 1507.1,629.7 1507.4,637.8 1507.6,625.9 1507.9,639.8 1508.2,626.7 1508.4,639.4 1508.7,628.2 1509,633 1509.2,637.5 1509.5,631.4 1509.8,637.6 1510,627.4 1510.3,641.9 1510.6,632.3 1510.8,644.6 1511.1,631.3 1511.4,638.5 1511.7,630 1511.9,625 1512.2,637.7 1512.5,624.8 1512.7,638 1513,638 1513.3,631.3 1513.5,638.7 1513.8,638.2 1514.1,616.8 1514.3,640.8 1514.6,639.7 1514.9,631 1515.1,640.8 1515.4,624 1515.7,644.5 1515.9,630.5 1516.2,648.4 1516.5,631.8 1516.8,653 1517,631.5 1517.3,639.4 1517.6,622.9 1517.8,641.8 1518.1,626.8 1518.4,653.8 1518.6,618.8 1518.9,641.1 1519.2,616.8 1519.4,641.8 1519.7,642.6 1520,631.1 1520.2,640.3 1520.5,629.5 1520.8,657.3 1521,625.7 1521.3,642 1521.6,619.7 1521.9,650.7 1522.1,623.1 1522.4,650.3 1522.7,641.2 1522.9,613.1 1523.2,659.5 1523.5,627 1523.7,646.1 1524,626.7 1524.3,653.9 1524.5,623.3 1524.8,645.2 1525.1,614.6 1525.3,640.7 1525.6,644.2 1525.9,644.5 1526.2,612.6 1526.4,640.7 1526.7,641.9 1527,611.2 1527.2,643.6 1527.5,641.5 1527.8,629.3 1528,640.7 1528.3,630 1528.6,651.1 1528.8,617.8 1529.1,651.3 1529.4,631 1529.6,659.5 1529.9,632.3 1530.2,641.9 1530.4,641.9 1530.7,613.1 1531,643.6 1531.3,655.1 1531.5,663.1 1531.8,629.2 1532.1,620.6 1532.3,678 1532.6,624.9 1532.9,627.3 1533.1,642.3 1533.4,600.1 1533.7,646.6 1533.9,651.6 1534.2,623.1 1534.5,657.9 1534.7,626.7 1535,659 1535.3,625.6 1535.6,646.9 1535.8,594.5 1536.1,680.8 1536.4,628.2 1536.6,619.8 1536.9,681 1537.2,623.9 1537.4,660.6 1537.7,619.8 1538,648.2 1538.2,650.6 1538.5,572.2 1538.8,643.4 1539,676.6 1539.3,619.1 1539.6,654.5 1539.8,624.6 1540.1,703.1 1540.4,611.8 1540.7,655.8 1540.9,646.7 1541.2,588.9 1541.5,644.2 1541.7,645.9 1542,610.1 1542.3,622.6 1542.5,676.2 1542.8,629.6 1543.1,616.1 1543.3,650.7 1543.6,579.7 1543.9,649.4 1544.1,653.4 1544.4,602.6 1544.7,645.1 1545,647.6 1545.2,616.6 1545.5,621.5 1545.8,654.3 1546,621 1546.3,674.3 1546.6,619.4 1546.8,653.1 1547.1,617.9 1547.4,653.2 1547.6,564.8 1547.9,680.8 1548.2,622 1548.4,644.7 1548.7,618.5 1549,645.5 1549.2,585.6 1549.5,656.6 1549.8,641.6 1550.1,590.8 1550.3,642.4 1550.6,643.2 1550.9,612.2 1551.1,642.6 1551.4,629.7 1551.7,666.9 1551.9,627.9 1552.2,669.5 1552.5,643.6 1552.7,605.6 1553,644.1 1553.3,653.9 1553.5,628.8 1553.8,664.8 1554.1,629 1554.3,645.6 1554.6,629 1554.9,645.8 1555.2,622.8 1555.4,680.8 1555.7,629.1 1556,647.8 1556.2,645.7 1556.5,607.5 1556.8,644.3 1557,664 1557.3,606.1 1557.6,646.3 1557.8,622.5 1558.1,664.3 1558.4,597.5 1558.6,673.6 1558.9,644.5 1559.2,588.9 1559.5,687.3 1559.7,616.7 1560,655.1 1560.3,624.2 1560.5,618.1 1560.8,648.4 1561.1,589.9 1561.3,661.9 1561.6,651.3 1561.9,582.8 1562.1,657.2 1562.4,599.7 1562.7,694.5 1562.9,622.8 1563.2,695.7 1563.5,625.6 1563.7,595.9 1564,649.1 1564.3,577.8 1564.6,649.8 1564.8,619.3 1565.1,653.8 1565.4,620.9 1565.6,686.9 1565.9,618.4 1566.2,658 1566.4,618.6 1566.7,664 1567,620.5 1567.2,681.8 1567.5,628.3 1567.8,649.9 1568,590.8 1568.3,645.3 1568.6,591.2 1568.9,647 1569.1,588.4 1569.4,614.4 1569.7,662.5 1569.9,617.1 1570.2,681.5 1570.5,653.1 1570.7,585.2 1571,647.7 1571.3,586 1571.5,652.2 1571.8,651.6 1572.1,628.6 1572.3,685.5 1572.6,620.9 1572.9,624.4 1573.1,676.5 1573.4,623.5 1573.7,679.4 1574,675.3 1574.2,614.3 1574.5,645.8 1574.8,623.2 1575,651.6 1575.3,606.6 1575.6,644.5 1575.8,594.5 1576.1,674.3 1576.4,625.9 1576.6,645.4 1576.9,626 1577.2,626.6 1577.4,647.8 1577.7,626.3 1578,647.9 1578.2,621.9 1578.5,656.7 1578.8,646.3 1579.1,620.1 1579.3,661.4 1579.6,644.4 1579.9,598.2 1580.1,685.5 1580.4,617.8 1580.7,627.9 1580.9,649 1581.2,628.2 1581.5,650.3 1581.7,628.4 1582,645.4 1582.3,628.2 1582.5,655.7 1582.8,629.2 1583.1,665.5 1583.4,640.5 1583.6,611.2 1583.9,665.1 1584.2,625.8 1584.4,642.5 1584.7,613.8 1585,622.2 1585.2,643.4 1585.5,627.2 1585.8,644.5 1586,629.6 1586.3,643.1 1586.6,619.1 1586.8,646.9 1587.1,627.7 1587.4,628.8 1587.6,672.5 1587.9,630.3 1588.2,614.5 1588.5,645.8 1588.7,607.5 1589,639.2 1589.3,627.1 1589.5,642.7 1589.8,614.9 1590.1,648.7 1590.3,627.4 1590.6,651.4 1590.9,606.9 1591.1,657.4 1591.4,629.2 1591.7,657.6 1591.9,629.9 1592.2,640.6 1592.5,642.9 1592.8,601.9 1593,640.2 1593.3,643.5 1593.6,640.9 1593.8,640.5 1594.1,613.3 1594.4,655 1594.6,628.8 1594.9,642.5 1595.2,626.9 1595.4,644.6 1595.7,627.8 1596,643.3 1596.2,610.5 1596.5,631.3 1596.8,655.8 1597,628.1 1597.3,628.5 1597.6,642.5 1597.9,611.2 1598.1,639.3 1598.4,621.5 1598.7,642.7 1598.9,619 1599.2,658 1599.5,627.6 1599.7,628.4 1600,647.8 1600.3,623.5 1600.5,644.9 1600.8,621.1 1601.1,656.9 1601.3,641.4 1601.6,598.2 1601.9,666 1602.1,629.9 1602.4,650.5 1602.7,628 1603,660.4 1603.2,629.6 1603.5,644.2 1603.8,630.3 1604,639.6 1604.3,616.8 1604.6,640.5 1604.8,630.3 1605.1,650.3 1605.4,626.3 1605.6,658.3 1605.9,630.7 1606.2,644.7 1606.4,640.7 1606.7,628.7 1607,658.6 1607.3,632 1607.5,617.3 1607.8,643.8 1608.1,630.1 1608.3,641.3 1608.6,624.8 1608.9,646.3 1609.1,630.7 1609.4,651.7 1609.7,630.7 1609.9,658.2 1610.2,630.4 1610.5,656.1 1610.7,616.8 1611,653.7 1611.3,628.4 1611.5,658.2 1611.8,642.1 1612.1,614 1612.4,659.5 1612.6,626.8 1612.9,640.1 1613.2,630.6 1613.4,640.1 1613.7,629.4 1614,644.5 1614.2,626.4 1614.5,632.1 1614.8,643 1615,638.7 1615.3,631.7 1615.6,643.2 1615.8,632.3 1616.1,625.3 1616.4,638.4 1616.7,630.4 1616.9,638.2 1617.2,633 1617.5,638.6 1617.7,638.2 1618,625 1618.3,644 1618.5,630.6 1618.8,640.7 1619.1,633.1 1619.3,633.2 1619.6,640.2 1619.9,629.3 1620.1,639.2 1620.4,629.9 1620.7,640.2 1620.9,633.2 1621.2,645.6 1621.5,631.9 1621.8,633.4 1622,631.1 1622.3,643.1 1622.6,633.5 1622.8,637.8 1623.1,629.6 1623.4,638.8 1623.6,630.2 1623.9,640.9 1624.2,630.3 1624.4,644.7 1624.7,632.6 1625,641.3 1625.2,630 1625.5,643.7 1625.8,630.4 1626,637.6 1626.3,632.1 1626.6,642.5 1626.9,630.3 1627.1,639.5 1627.4,633.2 1627.7,637.7 1627.9,627.7 1628.2,644.6 1628.5,633.2 1628.7,631.7 1629,637.7 1629.3,632.1 1629.5,638 1629.8,630 1630.1,637.5 1630.3,630.6 1630.6,639.3 1630.9,637.8 1631.2,628.3 1631.4,638 1631.7,631.8 1632,643.8 1632.2,633.1 1632.5,640.4 1632.8,633.6 1633,637.8 1633.3,631.5 1633.6,644.6 1633.8,632.7 1634.1,639.9 1634.4,643.2 1634.6,628.9 1634.9,645.9 1635.2,630.1 1635.4,632.5 1635.7,638.9 1636,632.6 1636.3,641.9 1636.5,629.5 1636.8,648.9 1637.1,648.1 1637.3,623.8 1637.6,649.3 1637.9,630 1638.1,650.2 1638.4,631.2 1638.7,640.4 1638.9,632.8 1639.2,644.7 1639.5,630.7 1639.7,625.4 1640,641.1 1640.3,625.5 1640.6,643.3 1640.8,632.9 1641.1,645.5 1641.4,631.7 1641.6,641.9 1641.9,628.1 1642.2,639.6 1642.4,632 1642.7,637.7 1643,625.2 1643.2,637.5 1643.5,632.4 1643.8,637.1 1644,633.2 1644.3,633.2 1644.6,632.7 1644.8,637.2 1645.1,633 1645.4,641.6 1645.7,633.2 1645.9,639.7 1646.2,627.2 1646.5,637.2 1646.7,631.2 1647,642 1647.3,630.4 1647.5,640.1 1647.8,633.9 1648.1,638.4 1648.3,636.9 1648.6,632 1648.9,641.5 1649.1,628.8 1649.4,641.2 1649.7,630.6 1649.9,633.8 1650.2,641.9 1650.5,633.9 1650.8,638.3 1651,632.2 1651.3,636.8 1651.6,632.7 1651.8,636.8 1652.1,632.9 1652.4,639.1 1652.6,633.1 1652.9,638.3 1653.2,631.9 1653.4,636.7 1653.7,632 1654,637.6 1654.2,637.3 1654.5,628.9 1654.8,636.7 1655.1,632.7 1655.3,639.6 1655.6,633.7 1655.9,636.7 1656.1,633.7 1656.4,639.2 1656.7,633.3 1656.9,636.8 1657.2,633.5 1657.5,637.4 1657.7,628.4 1658,636.8 1658.3,630.7 1658.5,638.7 1658.8,631.7 1659.1,639.1 1659.3,633.8 1659.6,638.3 1659.9,633.3 1660.2,632.9 1660.4,636.7 1660.7,630.5 1661,640.5 1661.2,630.2 1661.5,636.5 1661.8,633.9 1662,632.3 1662.3,640.4 1662.6,633 1662.8,636.6 1663.1,629.3 1663.4,639.2 1663.6,633.7 1663.9,639 1664.2,638.9 1664.5,636.5 1664.7,632.6 1665,640.2 1665.3,640.5 1665.5,640.5 1665.8,633.3 1666.1,639.8 1666.3,631.1 1666.6,636.7 1666.9,632.4 1667.1,637.1 1667.4,633.6 1667.7,639.9 1667.9,632.4 1668.2,637.5 1668.5,634.1 1668.7,636.5 1669,632.8 1669.3,640.2 1669.6,634.1 1669.8,633.9 1670.1,631.4 1670.4,638 1670.6,632.5 1670.9,637.3 1671.2,630.5 1671.4,636.4 1671.7,634.1 1672,631.8 1672.2,634.2 1672.5,630.4 1672.8,637.7 1673,630.8 1673.3,634.2 1673.6,636.4 1673.8,634.2 1674.1,637.1 1674.4,630.8 1674.7,636.6 1674.9,637 1675.2,633.5 1675.5,639.1 1675.7,632.3 1676,639 1676.3,632.7 1676.5,636.6 1676.8,630.9 1677.1,637.2 1677.3,630.9 1677.6,636.7 1677.9,633.7 1678.1,636.9 1678.4,633.9 1678.7,636.9 1679,631.9 1679.2,636.7 1679.5,636.9 1679.8,634.2 1680,639.7 1680.3,633.1 1680.6,637.5 1680.8,630.8 1681.1,637.8 1681.4,634.3 1681.6,638.1 1681.9,630.2 1682.2,639.2 1682.4,631.5 1682.7,637.9 1683,633.2 1683.2,637.7 1683.5,633.7 1683.8,640.6 1684.1,631.1 1684.3,639.3 1684.6,633.2 1684.9,633.5 1685.1,639.4 1685.4,640.5 1685.7,626.2 1685.9,637.2 1686.2,631 1686.5,636.9 1686.7,630.5 1687,639.5 1687.3,638.1 1687.5,629.3 1687.8,636.8 1688.1,632.4 1688.4,636.8 1688.6,632.8 1688.9,639.2 1689.2,631.8 1689.4,632.8 1689.7,637.2 1690,632.4 1690.2,637.9 1690.5,633.5 1690.8,639.6 1691,632 1691.3,636.6 1691.6,631 1691.8,637.5 1692.1,632.1 1692.4,636.8 1692.6,634.3 1692.9,636.3 1693.2,633.2 1693.5,637.5 1693.7,633.9 1694,636.7 1694.3,631.4 1694.5,639.1 1694.8,633.1 1695.1,637.2 1695.3,631.6 1695.6,639 1695.9,634.4 1696.1,636.7 1696.4,631.5 1696.7,637.8 1696.9,634.1 1697.2,637.5 1697.5,634.2 1697.8,636.4 1698,634.3 1698.3,636.6 1698.6,634.2 1698.8,633.2 1699.1,637.3 1699.4,632.5 1699.6,636.5 1699.9,633.3 1700.2,634.3 1700.4,636.5 1700.7,633.8 1701,638.2 1701.2,636.2 1701.5,633.1 1701.8,637.1 1702,633.9 1702.3,636.7 1702.6,636.2 1702.9,633.5 1703.1,636.7 1703.4,634.5 1703.7,637 1703.9,631.9 1704.2,636.6 1704.5,632.8 1704.7,636.2 1705,633.7 1705.3,636.3 1705.5,634.6 1705.8,636.2 1706.1,632.9 1706.3,638.9 1706.6,634.5 1706.9,636.1 1707.1,634.5 1707.4,636.3 1707.7,634.2 1708,637.3 1708.2,632.7 1708.5,638.9 1708.8,634.3 1709,637.7 1709.3,634.4 1709.6,637.5 1709.8,634.4 1710.1,636.1 1710.4,633.3 1710.6,638.5 1710.9,636.7 1711.2,632.1 1711.4,636.2 1711.7,634.5 1712,636.6 1712.3,634.5 1712.5,636.1 1712.8,632 1713.1,636.5 1713.3,633.6 1713.6,636.9 1713.9,634.4 1714.1,636.5 1714.4,633.2 1714.7,638.6 1714.9,634.5 1715.2,637.3 1715.5,633.7 1715.7,636.5 1716,637.5 1716.3,634.6 1716.5,636.5 1716.8,634.2 1717.1,638.1 1717.4,632.3 1717.6,634.4 1717.9,636.6 1718.2,633.3 1718.4,636.3 1718.7,634.2 1719,636.1 1719.2,634.7 1719.5,637.5 1719.8,634.1 1720,636.8 1720.3,634.7 1720.6,638 1720.8,633.2 1721.1,637.1 1721.4,634.1 1721.7,636.5 1721.9,634.6 1722.2,636.3 1722.5,634.6 1722.7,636 1723,634.6 1723.3,637.5 1723.5,634.5 1723.8,636 1724.1,632.9 1724.3,634.5 1724.6,636.5 1724.9,634.4 1725.1,636.4 1725.4,632.5 1725.7,636 1725.9,634.2 1726.2,638.1 1726.5,633 1726.8,637.7 1727,634.3 1727.3,636 1727.6,634.7 1727.8,636 1728.1,632.8 1728.4,636.1 1728.6,634.3 1728.9,635.9 1729.2,634.6 1729.4,634.8 1729.7,636.1 1730,635.9 1730.2,634 1730.5,637.1 1730.8,633.8 1731,637.2 1731.3,634.6 1731.6,633.7 1731.9,637.3 1732.1,633 1732.4,635.9 1732.7,634.3 1732.9,636.3 1733.2,633.8 1733.5,636 1733.7,633.9 1734,637.4 1734.3,634.7 1734.5,633 1734.8,636.1 1735.1,633.7 1735.3,636 1735.6,634.6 1735.9,636.6 1736.2,634.4 1736.4,636 1736.7,634.5 1737,633.4 1737.2,636.7 1737.5,634 1737.8,637.4 1738,633.2 1738.3,636.2" fill="none" stroke="#000" stroke-width="1.15" stroke-linejoin="bevel"/>
<rect x="1480.5" y="561.1" width="257.8" height="148.5" fill="none" stroke="#000" stroke-width="1.6"/>
<line x1="1532.1" y1="709.6" x2="1532.1" y2="706.1" stroke="#000" stroke-width="1.1"/>
<line x1="1583.6" y1="709.6" x2="1583.6" y2="706.1" stroke="#000" stroke-width="1.1"/>
<line x1="1635.2" y1="709.6" x2="1635.2" y2="706.1" stroke="#000" stroke-width="1.1"/>
<line x1="1686.7" y1="709.6" x2="1686.7" y2="706.1" stroke="#000" stroke-width="1.1"/>
<line x1="1480.5" y1="672.5" x2="1484" y2="672.5" stroke="#000" stroke-width="1.1"/>
<line x1="1480.5" y1="635.4" x2="1484" y2="635.4" stroke="#000" stroke-width="1.1"/>
<line x1="1480.5" y1="598.2" x2="1484" y2="598.2" stroke="#000" stroke-width="1.1"/>
<text x="1480.9" y="729.8" font-size="12.6" text-anchor="middle" fill="#3a3a3a">0</text>
<text x="1532.5" y="729.8" font-size="12.6" text-anchor="middle" fill="#3a3a3a">2</text>
<text x="1584" y="729.8" font-size="12.6" text-anchor="middle" fill="#3a3a3a">4</text>
<text x="1635.6" y="729.8" font-size="12.6" text-anchor="middle" fill="#3a3a3a">6</text>
<text x="1687.1" y="729.8" font-size="12.6" text-anchor="middle" fill="#3a3a3a">8</text>
<text x="1738.7" y="729.8" font-size="12.6" text-anchor="middle" fill="#3a3a3a">10</text>
<text x="1468.8" y="565.5" font-size="12.6" text-anchor="end" fill="#3a3a3a">0.4</text>
<text x="1468.8" y="602.6" font-size="12.6" text-anchor="end" fill="#3a3a3a">0.2</text>
<text x="1468.8" y="639.8" font-size="12.6" text-anchor="end" fill="#3a3a3a">0</text>
<text x="1468.8" y="676.9" font-size="12.6" text-anchor="end" fill="#3a3a3a">&#8722;0.2</text>
<text x="1468.8" y="714" font-size="12.6" text-anchor="end" fill="#3a3a3a">&#8722;0.4</text>
<text x="1609.3" y="753.2" font-size="14.6" text-anchor="middle" fill="#3a3a3a" textLength="54" lengthAdjust="spacingAndGlyphs">Time (s)</text>
<text x="1433.4" y="636" font-size="14.6" text-anchor="middle" fill="#3a3a3a" transform="rotate(-90 1433.4 636)" textLength="108" lengthAdjust="spacingAndGlyphs">Acceleration (g)</text>
<polyline points="1421.6,909.3 1422.6,906.5 1425.3,901.9 1427.1,896.4 1429.9,888.2 1432.1,881.8 1434.5,876.3 1437.2,871.7 1439,869.9 1443.1,866.6 1447.3,863.5 1450.4,864.8 1453.7,867.1 1456.4,865.7 1459.2,865.3 1463.8,867.1 1467.4,864 1471.1,861.3 1476.6,864.4 1479,860.4 1481.2,857.1 1484.3,855.2 1487.6,858.9 1491.2,862.9 1496.7,862.6 1501.3,865.9 1505,869 1510.5,869.9 1516,870.8 1523.3,869 1530.6,869 1535.2,871.2 1539.8,873 1547.1,870.8 1556.3,872.6 1563.6,873.2 1569.1,875.4 1573.7,876.3 1577.3,879.4 1580.1,882.7 1582.8,887.3 1584.7,891.9 1585.9,898.3 1586.5,904.7 1587,912 1587.4,917.5 1588.7,913.5 1590.1,910.2 1592.5,912.4 1593.3,917.9 1593.8,921.2 1595.3,916 1596.6,912.4 1598,917.5 1599.3,921.2 1599.9,925.8 1600.2,928.5 1603.5,928.9 1606.3,929.4 1606.8,935.8 1606.6,943.2 1606.6,936 1606.3,945.1 1603.9,953.4 1602.1,958.8 1599.3,965.3 1595.6,967.5 1592.9,972.6 1589.2,975.3 1587.4,979.9 1585.6,983.6 1582.3,980.3 1579.2,976.2 1576.4,979.9 1574.6,984.5 1570.9,983.2 1567.3,984.5 1565.4,989.1 1561.8,986.3 1558.1,983.6 1552.6,982.1 1548.9,983.2 1545.3,985.4 1537.9,991.8 1530.6,994.9 1526,996.4 1521.5,997.9 1516,997.5 1510.5,996.8 1505,993.6 1500.4,990 1496.7,991.8 1494,992.4 1489.4,990 1485.8,987.2 1479.3,988.2 1472,988.5 1468.4,986.3 1464.7,983.6 1460.1,981.2 1455.5,978.1 1449.1,975.9 1447.3,970.8 1445.5,965.3 1443.1,956.1 1440.9,946.9 1438.1,940 1435.4,935 1432.6,931.4 1429.9,928.6 1424.4,927.7 1422.9,921.3 1421.6,914 1422,909.4" fill="none" stroke="#000" stroke-width="1.1" stroke-linejoin="round"/>
<polyline points="1524.8,912 1525.1,919.3 1525.5,925.8 1526.6,927.6 1528.8,925.8 1531.5,923.9 1533.4,927 1537,927.6 1542.5,928.9 1542.9,935.8 1542,941.1 1539.8,946 1536.1,945.1 1532.5,943.3 1531.5,950.2 1527,946.9 1524.2,949.1 1521.5,948.8 1517.8,944.2 1512.3,936 1506.8,929.5 1501.3,927.7 1499.5,924.1 1499.1,921.2 1499.9,910.2 1500.4,905.6 1506.8,903.8 1509.6,897.7 1512.3,891.9 1516.9,888.2 1520.5,884.5 1523.7,887.3 1527,889.1 1533.4,886.7 1538.9,884.9 1545.3,888.8 1550.8,886.7 1556.3,884.5 1559.9,881.8 1563.6,880.3 1572.7,881.8 1574.9,886.4 1576.4,891.9 1577.9,901 1579.2,910.2 1580.4,917.5 1581.9,922.1 1586.5,923 1587.8,917.5 1589.2,912 1591.1,910.2 1592.9,915.7 1594.4,922.1 1596.6,925.8 1598.4,927.6 1600.2,929.4 1600.8,935.8 1600.2,936 1599.3,946.9 1596.9,955.2 1594.7,961.6 1591.1,967.1 1587.4,970.8 1583.7,974.1 1579.2,976.2 1574.6,978.1 1570.9,979.9 1568.2,984.5 1565.4,989.1 1561.8,986.3 1558.1,983.6 1554.4,979.9 1552.6,978.1 1548.9,968.9 1545.3,957.9 1542.5,950.6 1539.8,941.5 1537.9,936 1535.2,931.4 1532.5,927.7 1530.6,925 1527.9,926.8 1525.5,925 1525.1,919.5 1524.2,915.8 1524.8,912.1" fill="none" stroke="#000" stroke-width="1.1" stroke-linejoin="round"/>
<polyline points="1524.8,912.9 1523.7,917.5 1526,921.2 1524.8,924.8 1527.9,927 1526.6,923 1530.6,925.8 1532.5,923.4 1534.3,928.5 1537,930.3 1539.8,935.8 1540.7,937.8 1538.9,940 1537,935 1534.7,932.7 1539.8,929.5 1541.6,932.7 1540.3,940" fill="none" stroke="#000" stroke-width="1.3" stroke-linejoin="round"/>
<rect x="1400" y="848.8" width="268" height="159.5" fill="none" stroke="#000" stroke-width="1.45"/>
<line x1="1444.7" y1="1008.3" x2="1444.7" y2="1004.3" stroke="#000" stroke-width="1.1"/>
<line x1="1489.3" y1="1008.3" x2="1489.3" y2="1004.3" stroke="#000" stroke-width="1.1"/>
<line x1="1534" y1="1008.3" x2="1534" y2="1004.3" stroke="#000" stroke-width="1.1"/>
<line x1="1578.7" y1="1008.3" x2="1578.7" y2="1004.3" stroke="#000" stroke-width="1.1"/>
<line x1="1623.3" y1="1008.3" x2="1623.3" y2="1004.3" stroke="#000" stroke-width="1.1"/>
<line x1="1400" y1="988.4" x2="1404" y2="988.4" stroke="#000" stroke-width="1.1"/>
<line x1="1400" y1="968.4" x2="1404" y2="968.4" stroke="#000" stroke-width="1.1"/>
<line x1="1400" y1="948.5" x2="1404" y2="948.5" stroke="#000" stroke-width="1.1"/>
<line x1="1400" y1="928.5" x2="1404" y2="928.5" stroke="#000" stroke-width="1.1"/>
<line x1="1400" y1="908.6" x2="1404" y2="908.6" stroke="#000" stroke-width="1.1"/>
<line x1="1400" y1="888.7" x2="1404" y2="888.7" stroke="#000" stroke-width="1.1"/>
<line x1="1400" y1="868.7" x2="1404" y2="868.7" stroke="#000" stroke-width="1.1"/>
<text x="1398.4" y="1027.8" font-size="13.3" text-anchor="middle" fill="#111" letter-spacing="0.5">&#8722;30</text>
<text x="1443.1" y="1027.8" font-size="13.3" text-anchor="middle" fill="#111" letter-spacing="0.5">&#8722;20</text>
<text x="1487.7" y="1027.8" font-size="13.3" text-anchor="middle" fill="#111" letter-spacing="0.5">&#8722;10</text>
<text x="1535" y="1027.8" font-size="13.3" text-anchor="middle" fill="#111" letter-spacing="0.5">0</text>
<text x="1579.7" y="1027.8" font-size="13.3" text-anchor="middle" fill="#111" letter-spacing="0.5">10</text>
<text x="1624.3" y="1027.8" font-size="13.3" text-anchor="middle" fill="#111" letter-spacing="0.5">20</text>
<text x="1669" y="1027.8" font-size="13.3" text-anchor="middle" fill="#111" letter-spacing="0.5">30</text>
<text x="1388.8" y="1012.6" font-size="13.3" text-anchor="end" fill="#111" letter-spacing="0.5">&#8722;8</text>
<text x="1388.8" y="992.7" font-size="13.3" text-anchor="end" fill="#111" letter-spacing="0.5">&#8722;6</text>
<text x="1388.8" y="972.7" font-size="13.3" text-anchor="end" fill="#111" letter-spacing="0.5">&#8722;4</text>
<text x="1388.8" y="952.8" font-size="13.3" text-anchor="end" fill="#111" letter-spacing="0.5">&#8722;2</text>
<text x="1388.8" y="932.8" font-size="13.3" text-anchor="end" fill="#111" letter-spacing="0.5">0</text>
<text x="1388.8" y="912.9" font-size="13.3" text-anchor="end" fill="#111" letter-spacing="0.5">2</text>
<text x="1388.8" y="893" font-size="13.3" text-anchor="end" fill="#111" letter-spacing="0.5">4</text>
<text x="1388.8" y="873" font-size="13.3" text-anchor="end" fill="#111" letter-spacing="0.5">6</text>
<text x="1388.8" y="853.1" font-size="13.3" text-anchor="end" fill="#111" letter-spacing="0.5">8</text>
<text x="1534" y="1045.2" font-size="15" text-anchor="middle" fill="#111" textLength="123" lengthAdjust="spacingAndGlyphs">Displacemnt (mm)</text>
<text x="1365.2" y="927.8" font-size="15" text-anchor="middle" fill="#111" transform="rotate(-90 1365.2 927.8)" textLength="136" lengthAdjust="spacingAndGlyphs">Damping Force (kN)</text>
<line x1="1740" y1="918" x2="2096.7" y2="918" stroke="#cf6a6c" stroke-width="1.6"/>
<g fill="#2e74a6"><circle cx="1829.2" cy="913" r="1.1"/><circle cx="1830.6" cy="915.8" r="1.1"/><circle cx="1833.4" cy="916.2" r="1.1"/><circle cx="1835.2" cy="915.7" r="1.1"/><circle cx="1840.8" cy="915.6" r="1.1"/><circle cx="1842.6" cy="916.8" r="1.1"/><circle cx="1845.2" cy="916.9" r="1.1"/><circle cx="1847.2" cy="915.2" r="1.1"/><circle cx="1849" cy="916.4" r="1.1"/><circle cx="1851.4" cy="916.4" r="1.1"/><circle cx="1853.2" cy="914.9" r="1.1"/><circle cx="1855.6" cy="916" r="1.1"/><circle cx="1856.8" cy="910.6" r="1.1"/><circle cx="1858.6" cy="915.9" r="1.1"/><circle cx="1860.4" cy="915.6" r="1.1"/><circle cx="1862.2" cy="916.6" r="1.1"/><circle cx="1864.4" cy="915.6" r="1.1"/><circle cx="1866.4" cy="915.2" r="1.1"/><circle cx="1868.2" cy="915.9" r="1.1"/><circle cx="1875.6" cy="915.4" r="1.1"/><circle cx="1877.8" cy="915.6" r="1.1"/></g>
<rect x="1740" y="849.3" width="356.7" height="165.3" fill="none" stroke="#404040" stroke-width="1.2"/>
<line x1="1811.3" y1="849.3" x2="1811.3" y2="852.9" stroke="#404040" stroke-width="1"/>
<line x1="1811.3" y1="1014.6" x2="1811.3" y2="1011" stroke="#404040" stroke-width="1"/>
<line x1="1882.7" y1="849.3" x2="1882.7" y2="852.9" stroke="#404040" stroke-width="1"/>
<line x1="1882.7" y1="1014.6" x2="1882.7" y2="1011" stroke="#404040" stroke-width="1"/>
<line x1="1954" y1="849.3" x2="1954" y2="852.9" stroke="#404040" stroke-width="1"/>
<line x1="1954" y1="1014.6" x2="1954" y2="1011" stroke="#404040" stroke-width="1"/>
<line x1="2025.4" y1="849.3" x2="2025.4" y2="852.9" stroke="#404040" stroke-width="1"/>
<line x1="2025.4" y1="1014.6" x2="2025.4" y2="1011" stroke="#404040" stroke-width="1"/>
<line x1="1740" y1="959.5" x2="1743.6" y2="959.5" stroke="#404040" stroke-width="1"/>
<line x1="2096.7" y1="959.5" x2="2093.1" y2="959.5" stroke="#404040" stroke-width="1"/>
<line x1="1740" y1="904.4" x2="1743.6" y2="904.4" stroke="#404040" stroke-width="1"/>
<line x1="2096.7" y1="904.4" x2="2093.1" y2="904.4" stroke="#404040" stroke-width="1"/>
<text x="1739.5" y="1035" font-size="16.8" text-anchor="middle" fill="#2e2e2e">0</text>
<text x="1810.8" y="1035" font-size="16.8" text-anchor="middle" fill="#2e2e2e">2</text>
<text x="1882.2" y="1035" font-size="16.8" text-anchor="middle" fill="#2e2e2e">4</text>
<text x="1953.5" y="1035" font-size="16.8" text-anchor="middle" fill="#2e2e2e">6</text>
<text x="2024.9" y="1035" font-size="16.8" text-anchor="middle" fill="#2e2e2e">8</text>
<text x="2096.2" y="1035" font-size="16.8" text-anchor="middle" fill="#2e2e2e">10</text>
<text x="1735.8" y="1020.8" font-size="16.8" text-anchor="end" fill="#2e2e2e">10</text>
<text x="1735.8" y="965.7" font-size="16.8" text-anchor="end" fill="#2e2e2e">11</text>
<text x="1735.8" y="910.6" font-size="16.8" text-anchor="end" fill="#2e2e2e">12</text>
<text x="1735.8" y="855.5" font-size="16.8" text-anchor="end" fill="#2e2e2e">13</text>
<text x="1918.4" y="1056.8" font-size="17.9" text-anchor="middle" fill="#222">Time (s)</text>
<text x="1711.8" y="931.6" font-size="18" text-anchor="middle" fill="#222" transform="rotate(-90 1711.8 931.6)" textLength="156" lengthAdjust="spacingAndGlyphs">Damping Coefficient</text>
<rect x="2021.2" y="851.7" width="72.6" height="36.4" fill="#fff" stroke="#404040" stroke-width="1"/>
<circle cx="2027.6" cy="861.4" r="1" fill="#2e74a6"/>
<line x1="2022.4" y1="879.4" x2="2032.2" y2="879.4" stroke="#cf5a5c" stroke-width="1.2"/>
<text x="2032.6" y="865.9" font-size="13.6" text-anchor="start" fill="#1c1c1c" textLength="58" lengthAdjust="spacingAndGlyphs">Identified</text>
<text x="2033" y="884.1" font-size="13.6" text-anchor="start" fill="#1c1c1c" textLength="59" lengthAdjust="spacingAndGlyphs">Theoretic</text>
<rect x="117.4" y="-1" width="557.4" height="135.4" fill="url(#gt1)" stroke="#F3C655" stroke-width="1"/>
<rect x="118.3" y="544.3" width="557.1" height="133" fill="url(#gt2)" stroke="#F3C655" stroke-width="1"/>
<rect x="1490.4" y="9.4" width="544.5" height="50.9" fill="url(#gt3)" stroke="#93BE7A" stroke-width="1"/>
<rect x="1585.4" y="289.4" width="306.3" height="51" fill="url(#gt4)" stroke="#7E9FCB" stroke-width="1"/>
<rect x="1470.3" y="779.4" width="590.3" height="50.9" fill="url(#gt5)" stroke="#93BE7A" stroke-width="1"/>
<text x="167.6" y="58.2" font-size="37" fill="#0d0d0d" stroke="url(#gt1)" stroke-width="0.55" paint-order="fill" textLength="457.6" lengthAdjust="spacingAndGlyphs">Synchro-squeezed Adaptive</text>
<text x="170.3" y="102.9" font-size="37" fill="#0d0d0d" stroke="url(#gt1)" stroke-width="0.55" paint-order="fill" textLength="452.4" lengthAdjust="spacingAndGlyphs">Wavelet Transform (SSAWT)</text>
<text x="160.4" y="602.3" font-size="37" fill="#0d0d0d" stroke="url(#gt2)" stroke-width="0.55" paint-order="fill" textLength="473" lengthAdjust="spacingAndGlyphs">Optimized Multiple Analytical</text>
<text x="139.2" y="646.7" font-size="37" fill="#0d0d0d" stroke="url(#gt2)" stroke-width="0.55" paint-order="fill" textLength="517.6" lengthAdjust="spacingAndGlyphs">Mode Decomposition (oMAMD)</text>
<text x="1512.4" y="48.5" font-size="37" fill="#0d0d0d" stroke="url(#gt3)" stroke-width="0.55" paint-order="fill" textLength="498.6" lengthAdjust="spacingAndGlyphs">Structural System Identification</text>
<text x="1603.4" y="327.7" font-size="37" fill="#0d0d0d" stroke="url(#gt4)" stroke-width="0.55" paint-order="fill" textLength="270.4" lengthAdjust="spacingAndGlyphs">Shake Table Test</text>
<text x="1508.2" y="817.7" font-size="37" fill="#0d0d0d" stroke="url(#gt5)" stroke-width="0.55" paint-order="fill" textLength="515.6" lengthAdjust="spacingAndGlyphs">Nonlinear Damper Identification</text>
<polygon points="368.5,273.3 398.5,273.3 398.5,264.5 414.8,280.7 398.5,296.9 398.5,288.1 368.5,288.1" fill="#6AA742" stroke="#507E32" stroke-width="1" stroke-linejoin="miter"/>
<polygon points="746.3,268.9 776.5,268.9 776.5,260.5 793,276.6 776.5,292.7 776.5,284.3 746.3,284.3" fill="#6AA742" stroke="#507E32" stroke-width="1" stroke-linejoin="miter"/>
<polygon points="561.2,825.5 592.2,825.5 592.2,817.4 607.8,833 592.2,848.6 592.2,840.5 561.2,840.5" fill="#6AA742" stroke="#507E32" stroke-width="1" stroke-linejoin="miter"/>
<line x1="1543.4" y1="350.8" x2="1543.4" y2="271" stroke="#C9171C" stroke-width="3.4"/>
<polygon points="1537.6,272.4 1549.2,272.4 1543.4,260.4" fill="#E81018" stroke="none" stroke-width="1"/>
<circle cx="1543.1" cy="368" r="16.9" fill="none" stroke="#BE1A1E" stroke-width="2.2"/>
<circle cx="1913.8" cy="468.1" r="16.7" fill="none" stroke="#BE1A1E" stroke-width="2.2"/>
<line x1="1914.4" y1="484.8" x2="1914.4" y2="768" stroke="#C9171C" stroke-width="3.6"/>
<polygon points="1908.8,766.8 1920.4,766.8 1914.6,779" fill="#E81018" stroke="none" stroke-width="1"/>
</svg>
</body></html>
